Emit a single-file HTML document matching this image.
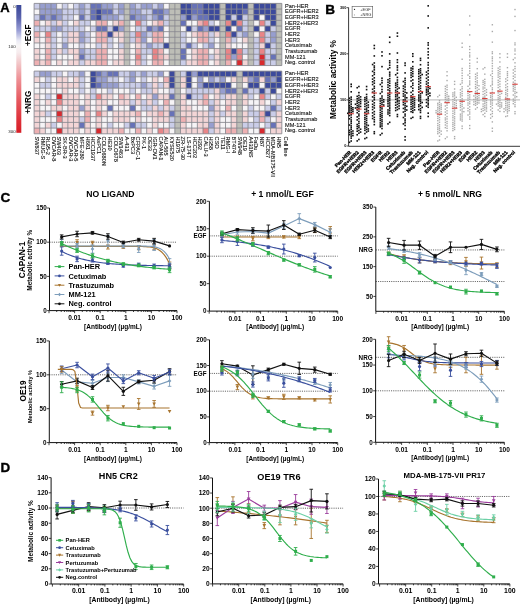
<!DOCTYPE html><html><head><meta charset="utf-8"><title>Figure</title><style>html,body{margin:0;padding:0;background:#fff;width:520px;height:606px;overflow:hidden}svg{display:block}</style></head><body><svg width="520" height="606" viewBox="0 0 520 606"><rect width="520" height="606" fill="#fff"/><defs><linearGradient id="cb" x1="0" y1="0" x2="0" y2="1"><stop offset="0" stop-color="#3a4798"/><stop offset="0.1" stop-color="#5962ad"/><stop offset="0.2" stop-color="#9a9fd6"/><stop offset="0.28" stop-color="#ebebf5"/><stop offset="0.32" stop-color="#f8f6f6"/><stop offset="0.37" stop-color="#f6ecee"/><stop offset="0.45" stop-color="#f2c9cb"/><stop offset="0.58" stop-color="#ee9095"/><stop offset="0.74" stop-color="#e65a60"/><stop offset="0.9" stop-color="#de3039"/><stop offset="1" stop-color="#d61e26"/></linearGradient></defs>
<rect x="16.3" y="5.0" width="5" height="127.8" fill="url(#cb)"/>
<g font-family="'Liberation Sans', Arial, sans-serif" font-size="4.4" fill="#222" text-anchor="end">
<text x="15.6" y="8.2">0</text><text x="15.6" y="48.4">100</text><text x="15.6" y="132.6">300</text></g>
<text x="0.3" y="12.1" font-family="'Liberation Sans', Arial, sans-serif" font-weight="bold" font-size="13" stroke="#000" stroke-width="0.35">A</text>
<g font-family="'Liberation Sans', Arial, sans-serif" font-weight="bold" font-size="8.2" text-anchor="middle">
<text transform="translate(31.1 35.3) rotate(-90)">+EGF</text>
<text transform="translate(31.1 102.2) rotate(-90)">+NRG</text></g>
<rect x="34.1" y="3.4" width="5.63" height="5.65" fill="#cacde8"/>
<rect x="34.1" y="9.05" width="5.63" height="5.65" fill="#f6f4f6"/>
<rect x="34.1" y="14.7" width="5.63" height="5.65" fill="#cacde8"/>
<rect x="34.1" y="20.35" width="5.63" height="5.65" fill="#eeb0b2"/>
<rect x="34.1" y="26" width="5.63" height="5.65" fill="#cacde8"/>
<rect x="34.1" y="31.65" width="5.63" height="5.65" fill="#eeb0b2"/>
<rect x="34.1" y="37.3" width="5.63" height="5.65" fill="#f3d5d6"/>
<rect x="34.1" y="42.95" width="5.63" height="5.65" fill="#f6f4f6"/>
<rect x="34.1" y="48.6" width="5.63" height="5.65" fill="#f3d5d6"/>
<rect x="34.1" y="54.25" width="5.63" height="5.65" fill="#f3d5d6"/>
<rect x="34.1" y="59.9" width="5.63" height="5.65" fill="#eeb0b2"/>
<rect x="39.73" y="3.4" width="5.63" height="5.65" fill="#979ecf"/>
<rect x="39.73" y="9.05" width="5.63" height="5.65" fill="#979ecf"/>
<rect x="39.73" y="14.7" width="5.63" height="5.65" fill="#6772b8"/>
<rect x="39.73" y="20.35" width="5.63" height="5.65" fill="#f6f4f6"/>
<rect x="39.73" y="26" width="5.63" height="5.65" fill="#cacde8"/>
<rect x="39.73" y="31.65" width="5.63" height="5.65" fill="#f6f4f6"/>
<rect x="39.73" y="37.3" width="5.63" height="5.65" fill="#f6f4f6"/>
<rect x="39.73" y="42.95" width="5.63" height="5.65" fill="#f6f4f6"/>
<rect x="39.73" y="48.6" width="5.63" height="5.65" fill="#f6f4f6"/>
<rect x="39.73" y="54.25" width="5.63" height="5.65" fill="#f6f4f6"/>
<rect x="39.73" y="59.9" width="5.63" height="5.65" fill="#f3d5d6"/>
<rect x="45.36" y="3.4" width="5.63" height="5.65" fill="#979ecf"/>
<rect x="45.36" y="9.05" width="5.63" height="5.65" fill="#979ecf"/>
<rect x="45.36" y="14.7" width="5.63" height="5.65" fill="#979ecf"/>
<rect x="45.36" y="20.35" width="5.63" height="5.65" fill="#f3d5d6"/>
<rect x="45.36" y="26" width="5.63" height="5.65" fill="#cacde8"/>
<rect x="45.36" y="31.65" width="5.63" height="5.65" fill="#e98587"/>
<rect x="45.36" y="37.3" width="5.63" height="5.65" fill="#eeb0b2"/>
<rect x="45.36" y="42.95" width="5.63" height="5.65" fill="#f3d5d6"/>
<rect x="45.36" y="48.6" width="5.63" height="5.65" fill="#eeb0b2"/>
<rect x="45.36" y="54.25" width="5.63" height="5.65" fill="#eeb0b2"/>
<rect x="45.36" y="59.9" width="5.63" height="5.65" fill="#eeb0b2"/>
<rect x="50.99" y="3.4" width="5.63" height="5.65" fill="#979ecf"/>
<rect x="50.99" y="9.05" width="5.63" height="5.65" fill="#979ecf"/>
<rect x="50.99" y="14.7" width="5.63" height="5.65" fill="#6772b8"/>
<rect x="50.99" y="20.35" width="5.63" height="5.65" fill="#cacde8"/>
<rect x="50.99" y="26" width="5.63" height="5.65" fill="#979ecf"/>
<rect x="50.99" y="31.65" width="5.63" height="5.65" fill="#cacde8"/>
<rect x="50.99" y="37.3" width="5.63" height="5.65" fill="#cacde8"/>
<rect x="50.99" y="42.95" width="5.63" height="5.65" fill="#cacde8"/>
<rect x="50.99" y="48.6" width="5.63" height="5.65" fill="#cacde8"/>
<rect x="50.99" y="54.25" width="5.63" height="5.65" fill="#cacde8"/>
<rect x="50.99" y="59.9" width="5.63" height="5.65" fill="#f6f4f6"/>
<rect x="56.62" y="3.4" width="5.63" height="5.65" fill="#f6f4f6"/>
<rect x="56.62" y="9.05" width="5.63" height="5.65" fill="#979ecf"/>
<rect x="56.62" y="14.7" width="5.63" height="5.65" fill="#979ecf"/>
<rect x="56.62" y="20.35" width="5.63" height="5.65" fill="#f3d5d6"/>
<rect x="56.62" y="26" width="5.63" height="5.65" fill="#979ecf"/>
<rect x="56.62" y="31.65" width="5.63" height="5.65" fill="#f6f4f6"/>
<rect x="56.62" y="37.3" width="5.63" height="5.65" fill="#f6f4f6"/>
<rect x="56.62" y="42.95" width="5.63" height="5.65" fill="#f6f4f6"/>
<rect x="56.62" y="48.6" width="5.63" height="5.65" fill="#f3d5d6"/>
<rect x="56.62" y="54.25" width="5.63" height="5.65" fill="#f6f4f6"/>
<rect x="56.62" y="59.9" width="5.63" height="5.65" fill="#f3d5d6"/>
<rect x="62.25" y="3.4" width="5.63" height="5.65" fill="#cacde8"/>
<rect x="62.25" y="9.05" width="5.63" height="5.65" fill="#cacde8"/>
<rect x="62.25" y="14.7" width="5.63" height="5.65" fill="#cacde8"/>
<rect x="62.25" y="20.35" width="5.63" height="5.65" fill="#cacde8"/>
<rect x="62.25" y="26" width="5.63" height="5.65" fill="#cacde8"/>
<rect x="62.25" y="31.65" width="5.63" height="5.65" fill="#cacde8"/>
<rect x="62.25" y="37.3" width="5.63" height="5.65" fill="#cacde8"/>
<rect x="62.25" y="42.95" width="5.63" height="5.65" fill="#979ecf"/>
<rect x="62.25" y="48.6" width="5.63" height="5.65" fill="#cacde8"/>
<rect x="62.25" y="54.25" width="5.63" height="5.65" fill="#f6f4f6"/>
<rect x="62.25" y="59.9" width="5.63" height="5.65" fill="#f6f4f6"/>
<rect x="67.88" y="3.4" width="5.63" height="5.65" fill="#f6f4f6"/>
<rect x="67.88" y="9.05" width="5.63" height="5.65" fill="#cacde8"/>
<rect x="67.88" y="14.7" width="5.63" height="5.65" fill="#cacde8"/>
<rect x="67.88" y="20.35" width="5.63" height="5.65" fill="#f6f4f6"/>
<rect x="67.88" y="26" width="5.63" height="5.65" fill="#cacde8"/>
<rect x="67.88" y="31.65" width="5.63" height="5.65" fill="#f3d5d6"/>
<rect x="67.88" y="37.3" width="5.63" height="5.65" fill="#f3d5d6"/>
<rect x="67.88" y="42.95" width="5.63" height="5.65" fill="#f6f4f6"/>
<rect x="67.88" y="48.6" width="5.63" height="5.65" fill="#f3d5d6"/>
<rect x="67.88" y="54.25" width="5.63" height="5.65" fill="#f6f4f6"/>
<rect x="67.88" y="59.9" width="5.63" height="5.65" fill="#f3d5d6"/>
<rect x="73.51" y="3.4" width="5.63" height="5.65" fill="#cacde8"/>
<rect x="73.51" y="9.05" width="5.63" height="5.65" fill="#cacde8"/>
<rect x="73.51" y="14.7" width="5.63" height="5.65" fill="#f6f4f6"/>
<rect x="73.51" y="20.35" width="5.63" height="5.65" fill="#f3d5d6"/>
<rect x="73.51" y="26" width="5.63" height="5.65" fill="#cacde8"/>
<rect x="73.51" y="31.65" width="5.63" height="5.65" fill="#f3d5d6"/>
<rect x="73.51" y="37.3" width="5.63" height="5.65" fill="#f3d5d6"/>
<rect x="73.51" y="42.95" width="5.63" height="5.65" fill="#f6f4f6"/>
<rect x="73.51" y="48.6" width="5.63" height="5.65" fill="#f3d5d6"/>
<rect x="73.51" y="54.25" width="5.63" height="5.65" fill="#f3d5d6"/>
<rect x="73.51" y="59.9" width="5.63" height="5.65" fill="#f3d5d6"/>
<rect x="79.14" y="3.4" width="5.63" height="5.65" fill="#979ecf"/>
<rect x="79.14" y="9.05" width="5.63" height="5.65" fill="#979ecf"/>
<rect x="79.14" y="14.7" width="5.63" height="5.65" fill="#6772b8"/>
<rect x="79.14" y="20.35" width="5.63" height="5.65" fill="#cacde8"/>
<rect x="79.14" y="26" width="5.63" height="5.65" fill="#cacde8"/>
<rect x="79.14" y="31.65" width="5.63" height="5.65" fill="#979ecf"/>
<rect x="79.14" y="37.3" width="5.63" height="5.65" fill="#979ecf"/>
<rect x="79.14" y="42.95" width="5.63" height="5.65" fill="#cacde8"/>
<rect x="79.14" y="48.6" width="5.63" height="5.65" fill="#979ecf"/>
<rect x="79.14" y="54.25" width="5.63" height="5.65" fill="#6772b8"/>
<rect x="79.14" y="59.9" width="5.63" height="5.65" fill="#cacde8"/>
<rect x="84.77" y="3.4" width="5.63" height="5.65" fill="#cacde8"/>
<rect x="84.77" y="9.05" width="5.63" height="5.65" fill="#cacde8"/>
<rect x="84.77" y="14.7" width="5.63" height="5.65" fill="#cacde8"/>
<rect x="84.77" y="20.35" width="5.63" height="5.65" fill="#cacde8"/>
<rect x="84.77" y="26" width="5.63" height="5.65" fill="#f6f4f6"/>
<rect x="84.77" y="31.65" width="5.63" height="5.65" fill="#cacde8"/>
<rect x="84.77" y="37.3" width="5.63" height="5.65" fill="#cacde8"/>
<rect x="84.77" y="42.95" width="5.63" height="5.65" fill="#f6f4f6"/>
<rect x="84.77" y="48.6" width="5.63" height="5.65" fill="#cacde8"/>
<rect x="84.77" y="54.25" width="5.63" height="5.65" fill="#cacde8"/>
<rect x="84.77" y="59.9" width="5.63" height="5.65" fill="#f3d5d6"/>
<rect x="90.4" y="3.4" width="5.63" height="5.65" fill="#6772b8"/>
<rect x="90.4" y="9.05" width="5.63" height="5.65" fill="#6772b8"/>
<rect x="90.4" y="14.7" width="5.63" height="5.65" fill="#6772b8"/>
<rect x="90.4" y="20.35" width="5.63" height="5.65" fill="#f6f4f6"/>
<rect x="90.4" y="26" width="5.63" height="5.65" fill="#cacde8"/>
<rect x="90.4" y="31.65" width="5.63" height="5.65" fill="#f6f4f6"/>
<rect x="90.4" y="37.3" width="5.63" height="5.65" fill="#f6f4f6"/>
<rect x="90.4" y="42.95" width="5.63" height="5.65" fill="#f6f4f6"/>
<rect x="90.4" y="48.6" width="5.63" height="5.65" fill="#cacde8"/>
<rect x="90.4" y="54.25" width="5.63" height="5.65" fill="#cacde8"/>
<rect x="90.4" y="59.9" width="5.63" height="5.65" fill="#f3d5d6"/>
<rect x="96.03" y="3.4" width="5.63" height="5.65" fill="#6772b8"/>
<rect x="96.03" y="9.05" width="5.63" height="5.65" fill="#3c4a9c"/>
<rect x="96.03" y="14.7" width="5.63" height="5.65" fill="#3c4a9c"/>
<rect x="96.03" y="20.35" width="5.63" height="5.65" fill="#eeb0b2"/>
<rect x="96.03" y="26" width="5.63" height="5.65" fill="#6772b8"/>
<rect x="96.03" y="31.65" width="5.63" height="5.65" fill="#eeb0b2"/>
<rect x="96.03" y="37.3" width="5.63" height="5.65" fill="#eeb0b2"/>
<rect x="96.03" y="42.95" width="5.63" height="5.65" fill="#cacde8"/>
<rect x="96.03" y="48.6" width="5.63" height="5.65" fill="#eeb0b2"/>
<rect x="96.03" y="54.25" width="5.63" height="5.65" fill="#eeb0b2"/>
<rect x="96.03" y="59.9" width="5.63" height="5.65" fill="#eeb0b2"/>
<rect x="101.66" y="3.4" width="5.63" height="5.65" fill="#979ecf"/>
<rect x="101.66" y="9.05" width="5.63" height="5.65" fill="#6772b8"/>
<rect x="101.66" y="14.7" width="5.63" height="5.65" fill="#979ecf"/>
<rect x="101.66" y="20.35" width="5.63" height="5.65" fill="#eeb0b2"/>
<rect x="101.66" y="26" width="5.63" height="5.65" fill="#6772b8"/>
<rect x="101.66" y="31.65" width="5.63" height="5.65" fill="#eeb0b2"/>
<rect x="101.66" y="37.3" width="5.63" height="5.65" fill="#eeb0b2"/>
<rect x="101.66" y="42.95" width="5.63" height="5.65" fill="#f3d5d6"/>
<rect x="101.66" y="48.6" width="5.63" height="5.65" fill="#eeb0b2"/>
<rect x="101.66" y="54.25" width="5.63" height="5.65" fill="#eeb0b2"/>
<rect x="101.66" y="59.9" width="5.63" height="5.65" fill="#eeb0b2"/>
<rect x="107.29" y="3.4" width="5.63" height="5.65" fill="#979ecf"/>
<rect x="107.29" y="9.05" width="5.63" height="5.65" fill="#6772b8"/>
<rect x="107.29" y="14.7" width="5.63" height="5.65" fill="#979ecf"/>
<rect x="107.29" y="20.35" width="5.63" height="5.65" fill="#f6f4f6"/>
<rect x="107.29" y="26" width="5.63" height="5.65" fill="#cacde8"/>
<rect x="107.29" y="31.65" width="5.63" height="5.65" fill="#3c4a9c"/>
<rect x="107.29" y="37.3" width="5.63" height="5.65" fill="#cacde8"/>
<rect x="107.29" y="42.95" width="5.63" height="5.65" fill="#cacde8"/>
<rect x="107.29" y="48.6" width="5.63" height="5.65" fill="#f6f4f6"/>
<rect x="107.29" y="54.25" width="5.63" height="5.65" fill="#f6f4f6"/>
<rect x="107.29" y="59.9" width="5.63" height="5.65" fill="#f6f4f6"/>
<rect x="112.92" y="3.4" width="5.63" height="5.65" fill="#cacde8"/>
<rect x="112.92" y="9.05" width="5.63" height="5.65" fill="#cacde8"/>
<rect x="112.92" y="14.7" width="5.63" height="5.65" fill="#979ecf"/>
<rect x="112.92" y="20.35" width="5.63" height="5.65" fill="#f3d5d6"/>
<rect x="112.92" y="26" width="5.63" height="5.65" fill="#3c4a9c"/>
<rect x="112.92" y="31.65" width="5.63" height="5.65" fill="#f3d5d6"/>
<rect x="112.92" y="37.3" width="5.63" height="5.65" fill="#f6f4f6"/>
<rect x="112.92" y="42.95" width="5.63" height="5.65" fill="#f6f4f6"/>
<rect x="112.92" y="48.6" width="5.63" height="5.65" fill="#f6f4f6"/>
<rect x="112.92" y="54.25" width="5.63" height="5.65" fill="#f6f4f6"/>
<rect x="112.92" y="59.9" width="5.63" height="5.65" fill="#f3d5d6"/>
<rect x="118.55" y="3.4" width="5.63" height="5.65" fill="#979ecf"/>
<rect x="118.55" y="9.05" width="5.63" height="5.65" fill="#979ecf"/>
<rect x="118.55" y="14.7" width="5.63" height="5.65" fill="#cacde8"/>
<rect x="118.55" y="20.35" width="5.63" height="5.65" fill="#eeb0b2"/>
<rect x="118.55" y="26" width="5.63" height="5.65" fill="#979ecf"/>
<rect x="118.55" y="31.65" width="5.63" height="5.65" fill="#f3d5d6"/>
<rect x="118.55" y="37.3" width="5.63" height="5.65" fill="#f3d5d6"/>
<rect x="118.55" y="42.95" width="5.63" height="5.65" fill="#cacde8"/>
<rect x="118.55" y="48.6" width="5.63" height="5.65" fill="#f3d5d6"/>
<rect x="118.55" y="54.25" width="5.63" height="5.65" fill="#f3d5d6"/>
<rect x="118.55" y="59.9" width="5.63" height="5.65" fill="#f3d5d6"/>
<rect x="124.18" y="3.4" width="5.63" height="5.65" fill="#bdbeb7"/>
<rect x="124.18" y="9.05" width="5.63" height="5.65" fill="#bdbeb7"/>
<rect x="124.18" y="14.7" width="5.63" height="5.65" fill="#bdbeb7"/>
<rect x="124.18" y="20.35" width="5.63" height="5.65" fill="#bdbeb7"/>
<rect x="124.18" y="26" width="5.63" height="5.65" fill="#bdbeb7"/>
<rect x="124.18" y="31.65" width="5.63" height="5.65" fill="#bdbeb7"/>
<rect x="124.18" y="37.3" width="5.63" height="5.65" fill="#bdbeb7"/>
<rect x="124.18" y="42.95" width="5.63" height="5.65" fill="#bdbeb7"/>
<rect x="124.18" y="48.6" width="5.63" height="5.65" fill="#bdbeb7"/>
<rect x="124.18" y="54.25" width="5.63" height="5.65" fill="#bdbeb7"/>
<rect x="124.18" y="59.9" width="5.63" height="5.65" fill="#bdbeb7"/>
<rect x="129.81" y="3.4" width="5.63" height="5.65" fill="#979ecf"/>
<rect x="129.81" y="9.05" width="5.63" height="5.65" fill="#979ecf"/>
<rect x="129.81" y="14.7" width="5.63" height="5.65" fill="#6772b8"/>
<rect x="129.81" y="20.35" width="5.63" height="5.65" fill="#f6f4f6"/>
<rect x="129.81" y="26" width="5.63" height="5.65" fill="#f6f4f6"/>
<rect x="129.81" y="31.65" width="5.63" height="5.65" fill="#cacde8"/>
<rect x="129.81" y="37.3" width="5.63" height="5.65" fill="#cacde8"/>
<rect x="129.81" y="42.95" width="5.63" height="5.65" fill="#f6f4f6"/>
<rect x="129.81" y="48.6" width="5.63" height="5.65" fill="#f6f4f6"/>
<rect x="129.81" y="54.25" width="5.63" height="5.65" fill="#f6f4f6"/>
<rect x="129.81" y="59.9" width="5.63" height="5.65" fill="#f6f4f6"/>
<rect x="135.44" y="3.4" width="5.63" height="5.65" fill="#cacde8"/>
<rect x="135.44" y="9.05" width="5.63" height="5.65" fill="#979ecf"/>
<rect x="135.44" y="14.7" width="5.63" height="5.65" fill="#979ecf"/>
<rect x="135.44" y="20.35" width="5.63" height="5.65" fill="#e98587"/>
<rect x="135.44" y="26" width="5.63" height="5.65" fill="#cacde8"/>
<rect x="135.44" y="31.65" width="5.63" height="5.65" fill="#e98587"/>
<rect x="135.44" y="37.3" width="5.63" height="5.65" fill="#eeb0b2"/>
<rect x="135.44" y="42.95" width="5.63" height="5.65" fill="#f3d5d6"/>
<rect x="135.44" y="48.6" width="5.63" height="5.65" fill="#eeb0b2"/>
<rect x="135.44" y="54.25" width="5.63" height="5.65" fill="#e98587"/>
<rect x="135.44" y="59.9" width="5.63" height="5.65" fill="#eeb0b2"/>
<rect x="141.07" y="3.4" width="5.63" height="5.65" fill="#979ecf"/>
<rect x="141.07" y="9.05" width="5.63" height="5.65" fill="#cacde8"/>
<rect x="141.07" y="14.7" width="5.63" height="5.65" fill="#979ecf"/>
<rect x="141.07" y="20.35" width="5.63" height="5.65" fill="#cacde8"/>
<rect x="141.07" y="26" width="5.63" height="5.65" fill="#cacde8"/>
<rect x="141.07" y="31.65" width="5.63" height="5.65" fill="#979ecf"/>
<rect x="141.07" y="37.3" width="5.63" height="5.65" fill="#979ecf"/>
<rect x="141.07" y="42.95" width="5.63" height="5.65" fill="#cacde8"/>
<rect x="141.07" y="48.6" width="5.63" height="5.65" fill="#cacde8"/>
<rect x="141.07" y="54.25" width="5.63" height="5.65" fill="#cacde8"/>
<rect x="141.07" y="59.9" width="5.63" height="5.65" fill="#cacde8"/>
<rect x="146.7" y="3.4" width="5.63" height="5.65" fill="#979ecf"/>
<rect x="146.7" y="9.05" width="5.63" height="5.65" fill="#cacde8"/>
<rect x="146.7" y="14.7" width="5.63" height="5.65" fill="#cacde8"/>
<rect x="146.7" y="20.35" width="5.63" height="5.65" fill="#f6f4f6"/>
<rect x="146.7" y="26" width="5.63" height="5.65" fill="#6772b8"/>
<rect x="146.7" y="31.65" width="5.63" height="5.65" fill="#cacde8"/>
<rect x="146.7" y="37.3" width="5.63" height="5.65" fill="#f6f4f6"/>
<rect x="146.7" y="42.95" width="5.63" height="5.65" fill="#979ecf"/>
<rect x="146.7" y="48.6" width="5.63" height="5.65" fill="#cacde8"/>
<rect x="146.7" y="54.25" width="5.63" height="5.65" fill="#f6f4f6"/>
<rect x="146.7" y="59.9" width="5.63" height="5.65" fill="#f6f4f6"/>
<rect x="152.33" y="3.4" width="5.63" height="5.65" fill="#cacde8"/>
<rect x="152.33" y="9.05" width="5.63" height="5.65" fill="#6772b8"/>
<rect x="152.33" y="14.7" width="5.63" height="5.65" fill="#979ecf"/>
<rect x="152.33" y="20.35" width="5.63" height="5.65" fill="#f3d5d6"/>
<rect x="152.33" y="26" width="5.63" height="5.65" fill="#979ecf"/>
<rect x="152.33" y="31.65" width="5.63" height="5.65" fill="#eeb0b2"/>
<rect x="152.33" y="37.3" width="5.63" height="5.65" fill="#eeb0b2"/>
<rect x="152.33" y="42.95" width="5.63" height="5.65" fill="#cacde8"/>
<rect x="152.33" y="48.6" width="5.63" height="5.65" fill="#e98587"/>
<rect x="152.33" y="54.25" width="5.63" height="5.65" fill="#e98587"/>
<rect x="152.33" y="59.9" width="5.63" height="5.65" fill="#eeb0b2"/>
<rect x="157.96" y="3.4" width="5.63" height="5.65" fill="#979ecf"/>
<rect x="157.96" y="9.05" width="5.63" height="5.65" fill="#6772b8"/>
<rect x="157.96" y="14.7" width="5.63" height="5.65" fill="#6772b8"/>
<rect x="157.96" y="20.35" width="5.63" height="5.65" fill="#eeb0b2"/>
<rect x="157.96" y="26" width="5.63" height="5.65" fill="#6772b8"/>
<rect x="157.96" y="31.65" width="5.63" height="5.65" fill="#eeb0b2"/>
<rect x="157.96" y="37.3" width="5.63" height="5.65" fill="#eeb0b2"/>
<rect x="157.96" y="42.95" width="5.63" height="5.65" fill="#cacde8"/>
<rect x="157.96" y="48.6" width="5.63" height="5.65" fill="#eeb0b2"/>
<rect x="157.96" y="54.25" width="5.63" height="5.65" fill="#eeb0b2"/>
<rect x="157.96" y="59.9" width="5.63" height="5.65" fill="#eeb0b2"/>
<rect x="163.59" y="3.4" width="5.63" height="5.65" fill="#f6f4f6"/>
<rect x="163.59" y="9.05" width="5.63" height="5.65" fill="#979ecf"/>
<rect x="163.59" y="14.7" width="5.63" height="5.65" fill="#cacde8"/>
<rect x="163.59" y="20.35" width="5.63" height="5.65" fill="#cacde8"/>
<rect x="163.59" y="26" width="5.63" height="5.65" fill="#f6f4f6"/>
<rect x="163.59" y="31.65" width="5.63" height="5.65" fill="#f6f4f6"/>
<rect x="163.59" y="37.3" width="5.63" height="5.65" fill="#f6f4f6"/>
<rect x="163.59" y="42.95" width="5.63" height="5.65" fill="#3c4a9c"/>
<rect x="163.59" y="48.6" width="5.63" height="5.65" fill="#f6f4f6"/>
<rect x="163.59" y="54.25" width="5.63" height="5.65" fill="#f3d5d6"/>
<rect x="163.59" y="59.9" width="5.63" height="5.65" fill="#f6f4f6"/>
<rect x="169.22" y="3.4" width="5.63" height="5.65" fill="#bdbeb7"/>
<rect x="169.22" y="9.05" width="5.63" height="5.65" fill="#bdbeb7"/>
<rect x="169.22" y="14.7" width="5.63" height="5.65" fill="#bdbeb7"/>
<rect x="169.22" y="20.35" width="5.63" height="5.65" fill="#bdbeb7"/>
<rect x="169.22" y="26" width="5.63" height="5.65" fill="#bdbeb7"/>
<rect x="169.22" y="31.65" width="5.63" height="5.65" fill="#bdbeb7"/>
<rect x="169.22" y="37.3" width="5.63" height="5.65" fill="#bdbeb7"/>
<rect x="169.22" y="42.95" width="5.63" height="5.65" fill="#bdbeb7"/>
<rect x="169.22" y="48.6" width="5.63" height="5.65" fill="#bdbeb7"/>
<rect x="169.22" y="54.25" width="5.63" height="5.65" fill="#bdbeb7"/>
<rect x="169.22" y="59.9" width="5.63" height="5.65" fill="#bdbeb7"/>
<rect x="174.85" y="3.4" width="5.63" height="5.65" fill="#bdbeb7"/>
<rect x="174.85" y="9.05" width="5.63" height="5.65" fill="#bdbeb7"/>
<rect x="174.85" y="14.7" width="5.63" height="5.65" fill="#bdbeb7"/>
<rect x="174.85" y="20.35" width="5.63" height="5.65" fill="#bdbeb7"/>
<rect x="174.85" y="26" width="5.63" height="5.65" fill="#bdbeb7"/>
<rect x="174.85" y="31.65" width="5.63" height="5.65" fill="#bdbeb7"/>
<rect x="174.85" y="37.3" width="5.63" height="5.65" fill="#bdbeb7"/>
<rect x="174.85" y="42.95" width="5.63" height="5.65" fill="#bdbeb7"/>
<rect x="174.85" y="48.6" width="5.63" height="5.65" fill="#bdbeb7"/>
<rect x="174.85" y="54.25" width="5.63" height="5.65" fill="#bdbeb7"/>
<rect x="174.85" y="59.9" width="5.63" height="5.65" fill="#bdbeb7"/>
<rect x="180.48" y="3.4" width="5.63" height="5.65" fill="#3c4a9c"/>
<rect x="180.48" y="9.05" width="5.63" height="5.65" fill="#3c4a9c"/>
<rect x="180.48" y="14.7" width="5.63" height="5.65" fill="#979ecf"/>
<rect x="180.48" y="20.35" width="5.63" height="5.65" fill="#6772b8"/>
<rect x="180.48" y="26" width="5.63" height="5.65" fill="#f6f4f6"/>
<rect x="180.48" y="31.65" width="5.63" height="5.65" fill="#cacde8"/>
<rect x="180.48" y="37.3" width="5.63" height="5.65" fill="#cacde8"/>
<rect x="180.48" y="42.95" width="5.63" height="5.65" fill="#cacde8"/>
<rect x="180.48" y="48.6" width="5.63" height="5.65" fill="#6772b8"/>
<rect x="180.48" y="54.25" width="5.63" height="5.65" fill="#6772b8"/>
<rect x="180.48" y="59.9" width="5.63" height="5.65" fill="#cacde8"/>
<rect x="186.11" y="3.4" width="5.63" height="5.65" fill="#3c4a9c"/>
<rect x="186.11" y="9.05" width="5.63" height="5.65" fill="#3c4a9c"/>
<rect x="186.11" y="14.7" width="5.63" height="5.65" fill="#3c4a9c"/>
<rect x="186.11" y="20.35" width="5.63" height="5.65" fill="#f6f4f6"/>
<rect x="186.11" y="26" width="5.63" height="5.65" fill="#3c4a9c"/>
<rect x="186.11" y="31.65" width="5.63" height="5.65" fill="#f6f4f6"/>
<rect x="186.11" y="37.3" width="5.63" height="5.65" fill="#f6f4f6"/>
<rect x="186.11" y="42.95" width="5.63" height="5.65" fill="#6772b8"/>
<rect x="186.11" y="48.6" width="5.63" height="5.65" fill="#f6f4f6"/>
<rect x="186.11" y="54.25" width="5.63" height="5.65" fill="#f6f4f6"/>
<rect x="186.11" y="59.9" width="5.63" height="5.65" fill="#f3d5d6"/>
<rect x="191.74" y="3.4" width="5.63" height="5.65" fill="#6772b8"/>
<rect x="191.74" y="9.05" width="5.63" height="5.65" fill="#6772b8"/>
<rect x="191.74" y="14.7" width="5.63" height="5.65" fill="#979ecf"/>
<rect x="191.74" y="20.35" width="5.63" height="5.65" fill="#f6f4f6"/>
<rect x="191.74" y="26" width="5.63" height="5.65" fill="#cacde8"/>
<rect x="191.74" y="31.65" width="5.63" height="5.65" fill="#f3d5d6"/>
<rect x="191.74" y="37.3" width="5.63" height="5.65" fill="#f6f4f6"/>
<rect x="191.74" y="42.95" width="5.63" height="5.65" fill="#cacde8"/>
<rect x="191.74" y="48.6" width="5.63" height="5.65" fill="#f3d5d6"/>
<rect x="191.74" y="54.25" width="5.63" height="5.65" fill="#f3d5d6"/>
<rect x="191.74" y="59.9" width="5.63" height="5.65" fill="#f3d5d6"/>
<rect x="197.37" y="3.4" width="5.63" height="5.65" fill="#6772b8"/>
<rect x="197.37" y="9.05" width="5.63" height="5.65" fill="#6772b8"/>
<rect x="197.37" y="14.7" width="5.63" height="5.65" fill="#6772b8"/>
<rect x="197.37" y="20.35" width="5.63" height="5.65" fill="#eeb0b2"/>
<rect x="197.37" y="26" width="5.63" height="5.65" fill="#6772b8"/>
<rect x="197.37" y="31.65" width="5.63" height="5.65" fill="#eeb0b2"/>
<rect x="197.37" y="37.3" width="5.63" height="5.65" fill="#eeb0b2"/>
<rect x="197.37" y="42.95" width="5.63" height="5.65" fill="#f6f4f6"/>
<rect x="197.37" y="48.6" width="5.63" height="5.65" fill="#eeb0b2"/>
<rect x="197.37" y="54.25" width="5.63" height="5.65" fill="#eeb0b2"/>
<rect x="197.37" y="59.9" width="5.63" height="5.65" fill="#eeb0b2"/>
<rect x="203" y="3.4" width="5.63" height="5.65" fill="#3c4a9c"/>
<rect x="203" y="9.05" width="5.63" height="5.65" fill="#3c4a9c"/>
<rect x="203" y="14.7" width="5.63" height="5.65" fill="#6772b8"/>
<rect x="203" y="20.35" width="5.63" height="5.65" fill="#e98587"/>
<rect x="203" y="26" width="5.63" height="5.65" fill="#979ecf"/>
<rect x="203" y="31.65" width="5.63" height="5.65" fill="#eeb0b2"/>
<rect x="203" y="37.3" width="5.63" height="5.65" fill="#eeb0b2"/>
<rect x="203" y="42.95" width="5.63" height="5.65" fill="#cacde8"/>
<rect x="203" y="48.6" width="5.63" height="5.65" fill="#eeb0b2"/>
<rect x="203" y="54.25" width="5.63" height="5.65" fill="#eeb0b2"/>
<rect x="203" y="59.9" width="5.63" height="5.65" fill="#eeb0b2"/>
<rect x="208.63" y="3.4" width="5.63" height="5.65" fill="#3c4a9c"/>
<rect x="208.63" y="9.05" width="5.63" height="5.65" fill="#3c4a9c"/>
<rect x="208.63" y="14.7" width="5.63" height="5.65" fill="#3c4a9c"/>
<rect x="208.63" y="20.35" width="5.63" height="5.65" fill="#cacde8"/>
<rect x="208.63" y="26" width="5.63" height="5.65" fill="#3c4a9c"/>
<rect x="208.63" y="31.65" width="5.63" height="5.65" fill="#cacde8"/>
<rect x="208.63" y="37.3" width="5.63" height="5.65" fill="#cacde8"/>
<rect x="208.63" y="42.95" width="5.63" height="5.65" fill="#979ecf"/>
<rect x="208.63" y="48.6" width="5.63" height="5.65" fill="#f6f4f6"/>
<rect x="208.63" y="54.25" width="5.63" height="5.65" fill="#cacde8"/>
<rect x="208.63" y="59.9" width="5.63" height="5.65" fill="#f6f4f6"/>
<rect x="214.26" y="3.4" width="5.63" height="5.65" fill="#3c4a9c"/>
<rect x="214.26" y="9.05" width="5.63" height="5.65" fill="#3c4a9c"/>
<rect x="214.26" y="14.7" width="5.63" height="5.65" fill="#3c4a9c"/>
<rect x="214.26" y="20.35" width="5.63" height="5.65" fill="#f6f4f6"/>
<rect x="214.26" y="26" width="5.63" height="5.65" fill="#3c4a9c"/>
<rect x="214.26" y="31.65" width="5.63" height="5.65" fill="#f3d5d6"/>
<rect x="214.26" y="37.3" width="5.63" height="5.65" fill="#f6f4f6"/>
<rect x="214.26" y="42.95" width="5.63" height="5.65" fill="#f6f4f6"/>
<rect x="214.26" y="48.6" width="5.63" height="5.65" fill="#f3d5d6"/>
<rect x="214.26" y="54.25" width="5.63" height="5.65" fill="#f3d5d6"/>
<rect x="214.26" y="59.9" width="5.63" height="5.65" fill="#f3d5d6"/>
<rect x="219.89" y="3.4" width="5.63" height="5.65" fill="#bdbeb7"/>
<rect x="219.89" y="9.05" width="5.63" height="5.65" fill="#bdbeb7"/>
<rect x="219.89" y="14.7" width="5.63" height="5.65" fill="#bdbeb7"/>
<rect x="219.89" y="20.35" width="5.63" height="5.65" fill="#bdbeb7"/>
<rect x="219.89" y="26" width="5.63" height="5.65" fill="#bdbeb7"/>
<rect x="219.89" y="31.65" width="5.63" height="5.65" fill="#bdbeb7"/>
<rect x="219.89" y="37.3" width="5.63" height="5.65" fill="#bdbeb7"/>
<rect x="219.89" y="42.95" width="5.63" height="5.65" fill="#bdbeb7"/>
<rect x="219.89" y="48.6" width="5.63" height="5.65" fill="#bdbeb7"/>
<rect x="219.89" y="54.25" width="5.63" height="5.65" fill="#bdbeb7"/>
<rect x="219.89" y="59.9" width="5.63" height="5.65" fill="#bdbeb7"/>
<rect x="225.52" y="3.4" width="5.63" height="5.65" fill="#3c4a9c"/>
<rect x="225.52" y="9.05" width="5.63" height="5.65" fill="#3c4a9c"/>
<rect x="225.52" y="14.7" width="5.63" height="5.65" fill="#3c4a9c"/>
<rect x="225.52" y="20.35" width="5.63" height="5.65" fill="#e98587"/>
<rect x="225.52" y="26" width="5.63" height="5.65" fill="#3c4a9c"/>
<rect x="225.52" y="31.65" width="5.63" height="5.65" fill="#e98587"/>
<rect x="225.52" y="37.3" width="5.63" height="5.65" fill="#eeb0b2"/>
<rect x="225.52" y="42.95" width="5.63" height="5.65" fill="#f3d5d6"/>
<rect x="225.52" y="48.6" width="5.63" height="5.65" fill="#e98587"/>
<rect x="225.52" y="54.25" width="5.63" height="5.65" fill="#e98587"/>
<rect x="225.52" y="59.9" width="5.63" height="5.65" fill="#eeb0b2"/>
<rect x="231.15" y="3.4" width="5.63" height="5.65" fill="#3c4a9c"/>
<rect x="231.15" y="9.05" width="5.63" height="5.65" fill="#3c4a9c"/>
<rect x="231.15" y="14.7" width="5.63" height="5.65" fill="#cacde8"/>
<rect x="231.15" y="20.35" width="5.63" height="5.65" fill="#3c4a9c"/>
<rect x="231.15" y="26" width="5.63" height="5.65" fill="#f6f4f6"/>
<rect x="231.15" y="31.65" width="5.63" height="5.65" fill="#3c4a9c"/>
<rect x="231.15" y="37.3" width="5.63" height="5.65" fill="#cacde8"/>
<rect x="231.15" y="42.95" width="5.63" height="5.65" fill="#f6f4f6"/>
<rect x="231.15" y="48.6" width="5.63" height="5.65" fill="#3c4a9c"/>
<rect x="231.15" y="54.25" width="5.63" height="5.65" fill="#979ecf"/>
<rect x="231.15" y="59.9" width="5.63" height="5.65" fill="#f6f4f6"/>
<rect x="236.78" y="3.4" width="5.63" height="5.65" fill="#3c4a9c"/>
<rect x="236.78" y="9.05" width="5.63" height="5.65" fill="#3c4a9c"/>
<rect x="236.78" y="14.7" width="5.63" height="5.65" fill="#3c4a9c"/>
<rect x="236.78" y="20.35" width="5.63" height="5.65" fill="#e98587"/>
<rect x="236.78" y="26" width="5.63" height="5.65" fill="#6772b8"/>
<rect x="236.78" y="31.65" width="5.63" height="5.65" fill="#cacde8"/>
<rect x="236.78" y="37.3" width="5.63" height="5.65" fill="#f6f4f6"/>
<rect x="236.78" y="42.95" width="5.63" height="5.65" fill="#f6f4f6"/>
<rect x="236.78" y="48.6" width="5.63" height="5.65" fill="#e98587"/>
<rect x="236.78" y="54.25" width="5.63" height="5.65" fill="#e98587"/>
<rect x="236.78" y="59.9" width="5.63" height="5.65" fill="#d82a2f"/>
<rect x="242.41" y="3.4" width="5.63" height="5.65" fill="#3c4a9c"/>
<rect x="242.41" y="9.05" width="5.63" height="5.65" fill="#6772b8"/>
<rect x="242.41" y="14.7" width="5.63" height="5.65" fill="#cacde8"/>
<rect x="242.41" y="20.35" width="5.63" height="5.65" fill="#cacde8"/>
<rect x="242.41" y="26" width="5.63" height="5.65" fill="#cacde8"/>
<rect x="242.41" y="31.65" width="5.63" height="5.65" fill="#979ecf"/>
<rect x="242.41" y="37.3" width="5.63" height="5.65" fill="#f3d5d6"/>
<rect x="242.41" y="42.95" width="5.63" height="5.65" fill="#f6f4f6"/>
<rect x="242.41" y="48.6" width="5.63" height="5.65" fill="#cacde8"/>
<rect x="242.41" y="54.25" width="5.63" height="5.65" fill="#f6f4f6"/>
<rect x="242.41" y="59.9" width="5.63" height="5.65" fill="#f3d5d6"/>
<rect x="248.04" y="3.4" width="5.63" height="5.65" fill="#bdbeb7"/>
<rect x="248.04" y="9.05" width="5.63" height="5.65" fill="#bdbeb7"/>
<rect x="248.04" y="14.7" width="5.63" height="5.65" fill="#bdbeb7"/>
<rect x="248.04" y="20.35" width="5.63" height="5.65" fill="#bdbeb7"/>
<rect x="248.04" y="26" width="5.63" height="5.65" fill="#bdbeb7"/>
<rect x="248.04" y="31.65" width="5.63" height="5.65" fill="#bdbeb7"/>
<rect x="248.04" y="37.3" width="5.63" height="5.65" fill="#bdbeb7"/>
<rect x="248.04" y="42.95" width="5.63" height="5.65" fill="#bdbeb7"/>
<rect x="248.04" y="48.6" width="5.63" height="5.65" fill="#bdbeb7"/>
<rect x="248.04" y="54.25" width="5.63" height="5.65" fill="#bdbeb7"/>
<rect x="248.04" y="59.9" width="5.63" height="5.65" fill="#bdbeb7"/>
<rect x="253.67" y="3.4" width="5.63" height="5.65" fill="#3c4a9c"/>
<rect x="253.67" y="9.05" width="5.63" height="5.65" fill="#3c4a9c"/>
<rect x="253.67" y="14.7" width="5.63" height="5.65" fill="#3c4a9c"/>
<rect x="253.67" y="20.35" width="5.63" height="5.65" fill="#f6f4f6"/>
<rect x="253.67" y="26" width="5.63" height="5.65" fill="#3c4a9c"/>
<rect x="253.67" y="31.65" width="5.63" height="5.65" fill="#f6f4f6"/>
<rect x="253.67" y="37.3" width="5.63" height="5.65" fill="#cacde8"/>
<rect x="253.67" y="42.95" width="5.63" height="5.65" fill="#cacde8"/>
<rect x="253.67" y="48.6" width="5.63" height="5.65" fill="#cacde8"/>
<rect x="253.67" y="54.25" width="5.63" height="5.65" fill="#cacde8"/>
<rect x="253.67" y="59.9" width="5.63" height="5.65" fill="#cacde8"/>
<rect x="259.3" y="3.4" width="5.63" height="5.65" fill="#3c4a9c"/>
<rect x="259.3" y="9.05" width="5.63" height="5.65" fill="#3c4a9c"/>
<rect x="259.3" y="14.7" width="5.63" height="5.65" fill="#f6f4f6"/>
<rect x="259.3" y="20.35" width="5.63" height="5.65" fill="#e98587"/>
<rect x="259.3" y="26" width="5.63" height="5.65" fill="#f6f4f6"/>
<rect x="259.3" y="31.65" width="5.63" height="5.65" fill="#e98587"/>
<rect x="259.3" y="37.3" width="5.63" height="5.65" fill="#e98587"/>
<rect x="259.3" y="42.95" width="5.63" height="5.65" fill="#f3d5d6"/>
<rect x="259.3" y="48.6" width="5.63" height="5.65" fill="#e98587"/>
<rect x="259.3" y="54.25" width="5.63" height="5.65" fill="#d82a2f"/>
<rect x="259.3" y="59.9" width="5.63" height="5.65" fill="#d82a2f"/>
<rect x="264.93" y="3.4" width="5.63" height="5.65" fill="#3c4a9c"/>
<rect x="264.93" y="9.05" width="5.63" height="5.65" fill="#3c4a9c"/>
<rect x="264.93" y="14.7" width="5.63" height="5.65" fill="#3c4a9c"/>
<rect x="264.93" y="20.35" width="5.63" height="5.65" fill="#cacde8"/>
<rect x="264.93" y="26" width="5.63" height="5.65" fill="#3c4a9c"/>
<rect x="264.93" y="31.65" width="5.63" height="5.65" fill="#cacde8"/>
<rect x="264.93" y="37.3" width="5.63" height="5.65" fill="#cacde8"/>
<rect x="264.93" y="42.95" width="5.63" height="5.65" fill="#3c4a9c"/>
<rect x="264.93" y="48.6" width="5.63" height="5.65" fill="#cacde8"/>
<rect x="264.93" y="54.25" width="5.63" height="5.65" fill="#cacde8"/>
<rect x="264.93" y="59.9" width="5.63" height="5.65" fill="#cacde8"/>
<rect x="270.56" y="3.4" width="5.63" height="5.65" fill="#3c4a9c"/>
<rect x="270.56" y="9.05" width="5.63" height="5.65" fill="#3c4a9c"/>
<rect x="270.56" y="14.7" width="5.63" height="5.65" fill="#3c4a9c"/>
<rect x="270.56" y="20.35" width="5.63" height="5.65" fill="#3c4a9c"/>
<rect x="270.56" y="26" width="5.63" height="5.65" fill="#cacde8"/>
<rect x="270.56" y="31.65" width="5.63" height="5.65" fill="#979ecf"/>
<rect x="270.56" y="37.3" width="5.63" height="5.65" fill="#979ecf"/>
<rect x="270.56" y="42.95" width="5.63" height="5.65" fill="#cacde8"/>
<rect x="270.56" y="48.6" width="5.63" height="5.65" fill="#cacde8"/>
<rect x="270.56" y="54.25" width="5.63" height="5.65" fill="#6772b8"/>
<rect x="270.56" y="59.9" width="5.63" height="5.65" fill="#cacde8"/>
<rect x="276.19" y="3.4" width="5.63" height="5.65" fill="#bdbeb7"/>
<rect x="276.19" y="9.05" width="5.63" height="5.65" fill="#bdbeb7"/>
<rect x="276.19" y="14.7" width="5.63" height="5.65" fill="#bdbeb7"/>
<rect x="276.19" y="20.35" width="5.63" height="5.65" fill="#bdbeb7"/>
<rect x="276.19" y="26" width="5.63" height="5.65" fill="#bdbeb7"/>
<rect x="276.19" y="31.65" width="5.63" height="5.65" fill="#bdbeb7"/>
<rect x="276.19" y="37.3" width="5.63" height="5.65" fill="#bdbeb7"/>
<rect x="276.19" y="42.95" width="5.63" height="5.65" fill="#bdbeb7"/>
<rect x="276.19" y="48.6" width="5.63" height="5.65" fill="#bdbeb7"/>
<rect x="276.19" y="54.25" width="5.63" height="5.65" fill="#bdbeb7"/>
<rect x="276.19" y="59.9" width="5.63" height="5.65" fill="#bdbeb7"/>
<path d="M34.1 3.4V65.55M39.73 3.4V65.55M45.36 3.4V65.55M50.99 3.4V65.55M56.62 3.4V65.55M62.25 3.4V65.55M67.88 3.4V65.55M73.51 3.4V65.55M79.14 3.4V65.55M84.77 3.4V65.55M90.4 3.4V65.55M96.03 3.4V65.55M101.66 3.4V65.55M107.29 3.4V65.55M112.92 3.4V65.55M118.55 3.4V65.55M124.18 3.4V65.55M129.81 3.4V65.55M135.44 3.4V65.55M141.07 3.4V65.55M146.7 3.4V65.55M152.33 3.4V65.55M157.96 3.4V65.55M163.59 3.4V65.55M169.22 3.4V65.55M174.85 3.4V65.55M180.48 3.4V65.55M186.11 3.4V65.55M191.74 3.4V65.55M197.37 3.4V65.55M203 3.4V65.55M208.63 3.4V65.55M214.26 3.4V65.55M219.89 3.4V65.55M225.52 3.4V65.55M231.15 3.4V65.55M236.78 3.4V65.55M242.41 3.4V65.55M248.04 3.4V65.55M253.67 3.4V65.55M259.3 3.4V65.55M264.93 3.4V65.55M270.56 3.4V65.55M276.19 3.4V65.55M281.82 3.4V65.55M34.1 3.4H281.82M34.1 9.05H281.82M34.1 14.7H281.82M34.1 20.35H281.82M34.1 26H281.82M34.1 31.65H281.82M34.1 37.3H281.82M34.1 42.95H281.82M34.1 48.6H281.82M34.1 54.25H281.82M34.1 59.9H281.82M34.1 65.55H281.82" stroke="#85858d" stroke-width="0.85" fill="none"/>
<rect x="34.1" y="71.1" width="5.63" height="5.7" fill="#cacde8"/>
<rect x="34.1" y="76.8" width="5.63" height="5.7" fill="#f3d5d6"/>
<rect x="34.1" y="82.5" width="5.63" height="5.7" fill="#f6f4f6"/>
<rect x="34.1" y="88.2" width="5.63" height="5.7" fill="#f6f4f6"/>
<rect x="34.1" y="93.9" width="5.63" height="5.7" fill="#f3d5d6"/>
<rect x="34.1" y="99.6" width="5.63" height="5.7" fill="#f3d5d6"/>
<rect x="34.1" y="105.3" width="5.63" height="5.7" fill="#f3d5d6"/>
<rect x="34.1" y="111" width="5.63" height="5.7" fill="#f3d5d6"/>
<rect x="34.1" y="116.7" width="5.63" height="5.7" fill="#f3d5d6"/>
<rect x="34.1" y="122.4" width="5.63" height="5.7" fill="#f3d5d6"/>
<rect x="34.1" y="128.1" width="5.63" height="5.7" fill="#eeb0b2"/>
<rect x="39.73" y="71.1" width="5.63" height="5.7" fill="#979ecf"/>
<rect x="39.73" y="76.8" width="5.63" height="5.7" fill="#f6f4f6"/>
<rect x="39.73" y="82.5" width="5.63" height="5.7" fill="#cacde8"/>
<rect x="39.73" y="88.2" width="5.63" height="5.7" fill="#f6f4f6"/>
<rect x="39.73" y="93.9" width="5.63" height="5.7" fill="#f6f4f6"/>
<rect x="39.73" y="99.6" width="5.63" height="5.7" fill="#f6f4f6"/>
<rect x="39.73" y="105.3" width="5.63" height="5.7" fill="#f6f4f6"/>
<rect x="39.73" y="111" width="5.63" height="5.7" fill="#f3d5d6"/>
<rect x="39.73" y="116.7" width="5.63" height="5.7" fill="#f6f4f6"/>
<rect x="39.73" y="122.4" width="5.63" height="5.7" fill="#f6f4f6"/>
<rect x="39.73" y="128.1" width="5.63" height="5.7" fill="#f3d5d6"/>
<rect x="45.36" y="71.1" width="5.63" height="5.7" fill="#979ecf"/>
<rect x="45.36" y="76.8" width="5.63" height="5.7" fill="#cacde8"/>
<rect x="45.36" y="82.5" width="5.63" height="5.7" fill="#cacde8"/>
<rect x="45.36" y="88.2" width="5.63" height="5.7" fill="#f6f4f6"/>
<rect x="45.36" y="93.9" width="5.63" height="5.7" fill="#cacde8"/>
<rect x="45.36" y="99.6" width="5.63" height="5.7" fill="#f3d5d6"/>
<rect x="45.36" y="105.3" width="5.63" height="5.7" fill="#f6f4f6"/>
<rect x="45.36" y="111" width="5.63" height="5.7" fill="#cacde8"/>
<rect x="45.36" y="116.7" width="5.63" height="5.7" fill="#f6f4f6"/>
<rect x="45.36" y="122.4" width="5.63" height="5.7" fill="#f3d5d6"/>
<rect x="45.36" y="128.1" width="5.63" height="5.7" fill="#f6f4f6"/>
<rect x="50.99" y="71.1" width="5.63" height="5.7" fill="#cacde8"/>
<rect x="50.99" y="76.8" width="5.63" height="5.7" fill="#f6f4f6"/>
<rect x="50.99" y="82.5" width="5.63" height="5.7" fill="#f6f4f6"/>
<rect x="50.99" y="88.2" width="5.63" height="5.7" fill="#f6f4f6"/>
<rect x="50.99" y="93.9" width="5.63" height="5.7" fill="#f6f4f6"/>
<rect x="50.99" y="99.6" width="5.63" height="5.7" fill="#f6f4f6"/>
<rect x="50.99" y="105.3" width="5.63" height="5.7" fill="#f3d5d6"/>
<rect x="50.99" y="111" width="5.63" height="5.7" fill="#f6f4f6"/>
<rect x="50.99" y="116.7" width="5.63" height="5.7" fill="#f6f4f6"/>
<rect x="50.99" y="122.4" width="5.63" height="5.7" fill="#cacde8"/>
<rect x="50.99" y="128.1" width="5.63" height="5.7" fill="#f6f4f6"/>
<rect x="56.62" y="71.1" width="5.63" height="5.7" fill="#cacde8"/>
<rect x="56.62" y="76.8" width="5.63" height="5.7" fill="#f3d5d6"/>
<rect x="56.62" y="82.5" width="5.63" height="5.7" fill="#f3d5d6"/>
<rect x="56.62" y="88.2" width="5.63" height="5.7" fill="#f6f4f6"/>
<rect x="56.62" y="93.9" width="5.63" height="5.7" fill="#d82a2f"/>
<rect x="56.62" y="99.6" width="5.63" height="5.7" fill="#e98587"/>
<rect x="56.62" y="105.3" width="5.63" height="5.7" fill="#f3d5d6"/>
<rect x="56.62" y="111" width="5.63" height="5.7" fill="#d82a2f"/>
<rect x="56.62" y="116.7" width="5.63" height="5.7" fill="#e98587"/>
<rect x="56.62" y="122.4" width="5.63" height="5.7" fill="#f6f4f6"/>
<rect x="56.62" y="128.1" width="5.63" height="5.7" fill="#d82a2f"/>
<rect x="62.25" y="71.1" width="5.63" height="5.7" fill="#f6f4f6"/>
<rect x="62.25" y="76.8" width="5.63" height="5.7" fill="#f3d5d6"/>
<rect x="62.25" y="82.5" width="5.63" height="5.7" fill="#f3d5d6"/>
<rect x="62.25" y="88.2" width="5.63" height="5.7" fill="#f3d5d6"/>
<rect x="62.25" y="93.9" width="5.63" height="5.7" fill="#f3d5d6"/>
<rect x="62.25" y="99.6" width="5.63" height="5.7" fill="#f3d5d6"/>
<rect x="62.25" y="105.3" width="5.63" height="5.7" fill="#f6f4f6"/>
<rect x="62.25" y="111" width="5.63" height="5.7" fill="#f3d5d6"/>
<rect x="62.25" y="116.7" width="5.63" height="5.7" fill="#f3d5d6"/>
<rect x="62.25" y="122.4" width="5.63" height="5.7" fill="#f3d5d6"/>
<rect x="62.25" y="128.1" width="5.63" height="5.7" fill="#f3d5d6"/>
<rect x="67.88" y="71.1" width="5.63" height="5.7" fill="#cacde8"/>
<rect x="67.88" y="76.8" width="5.63" height="5.7" fill="#f6f4f6"/>
<rect x="67.88" y="82.5" width="5.63" height="5.7" fill="#f3d5d6"/>
<rect x="67.88" y="88.2" width="5.63" height="5.7" fill="#f6f4f6"/>
<rect x="67.88" y="93.9" width="5.63" height="5.7" fill="#f3d5d6"/>
<rect x="67.88" y="99.6" width="5.63" height="5.7" fill="#f3d5d6"/>
<rect x="67.88" y="105.3" width="5.63" height="5.7" fill="#f3d5d6"/>
<rect x="67.88" y="111" width="5.63" height="5.7" fill="#f3d5d6"/>
<rect x="67.88" y="116.7" width="5.63" height="5.7" fill="#f3d5d6"/>
<rect x="67.88" y="122.4" width="5.63" height="5.7" fill="#f3d5d6"/>
<rect x="67.88" y="128.1" width="5.63" height="5.7" fill="#f3d5d6"/>
<rect x="73.51" y="71.1" width="5.63" height="5.7" fill="#cacde8"/>
<rect x="73.51" y="76.8" width="5.63" height="5.7" fill="#f3d5d6"/>
<rect x="73.51" y="82.5" width="5.63" height="5.7" fill="#f3d5d6"/>
<rect x="73.51" y="88.2" width="5.63" height="5.7" fill="#f6f4f6"/>
<rect x="73.51" y="93.9" width="5.63" height="5.7" fill="#f3d5d6"/>
<rect x="73.51" y="99.6" width="5.63" height="5.7" fill="#f3d5d6"/>
<rect x="73.51" y="105.3" width="5.63" height="5.7" fill="#f3d5d6"/>
<rect x="73.51" y="111" width="5.63" height="5.7" fill="#f3d5d6"/>
<rect x="73.51" y="116.7" width="5.63" height="5.7" fill="#f3d5d6"/>
<rect x="73.51" y="122.4" width="5.63" height="5.7" fill="#f3d5d6"/>
<rect x="73.51" y="128.1" width="5.63" height="5.7" fill="#f3d5d6"/>
<rect x="79.14" y="71.1" width="5.63" height="5.7" fill="#979ecf"/>
<rect x="79.14" y="76.8" width="5.63" height="5.7" fill="#cacde8"/>
<rect x="79.14" y="82.5" width="5.63" height="5.7" fill="#cacde8"/>
<rect x="79.14" y="88.2" width="5.63" height="5.7" fill="#cacde8"/>
<rect x="79.14" y="93.9" width="5.63" height="5.7" fill="#f6f4f6"/>
<rect x="79.14" y="99.6" width="5.63" height="5.7" fill="#f6f4f6"/>
<rect x="79.14" y="105.3" width="5.63" height="5.7" fill="#979ecf"/>
<rect x="79.14" y="111" width="5.63" height="5.7" fill="#f6f4f6"/>
<rect x="79.14" y="116.7" width="5.63" height="5.7" fill="#cacde8"/>
<rect x="79.14" y="122.4" width="5.63" height="5.7" fill="#6772b8"/>
<rect x="79.14" y="128.1" width="5.63" height="5.7" fill="#f6f4f6"/>
<rect x="84.77" y="71.1" width="5.63" height="5.7" fill="#f6f4f6"/>
<rect x="84.77" y="76.8" width="5.63" height="5.7" fill="#f6f4f6"/>
<rect x="84.77" y="82.5" width="5.63" height="5.7" fill="#f6f4f6"/>
<rect x="84.77" y="88.2" width="5.63" height="5.7" fill="#f6f4f6"/>
<rect x="84.77" y="93.9" width="5.63" height="5.7" fill="#f3d5d6"/>
<rect x="84.77" y="99.6" width="5.63" height="5.7" fill="#f3d5d6"/>
<rect x="84.77" y="105.3" width="5.63" height="5.7" fill="#f3d5d6"/>
<rect x="84.77" y="111" width="5.63" height="5.7" fill="#eeb0b2"/>
<rect x="84.77" y="116.7" width="5.63" height="5.7" fill="#eeb0b2"/>
<rect x="84.77" y="122.4" width="5.63" height="5.7" fill="#f3d5d6"/>
<rect x="84.77" y="128.1" width="5.63" height="5.7" fill="#f3d5d6"/>
<rect x="90.4" y="71.1" width="5.63" height="5.7" fill="#3c4a9c"/>
<rect x="90.4" y="76.8" width="5.63" height="5.7" fill="#3c4a9c"/>
<rect x="90.4" y="82.5" width="5.63" height="5.7" fill="#3c4a9c"/>
<rect x="90.4" y="88.2" width="5.63" height="5.7" fill="#cacde8"/>
<rect x="90.4" y="93.9" width="5.63" height="5.7" fill="#cacde8"/>
<rect x="90.4" y="99.6" width="5.63" height="5.7" fill="#f6f4f6"/>
<rect x="90.4" y="105.3" width="5.63" height="5.7" fill="#f6f4f6"/>
<rect x="90.4" y="111" width="5.63" height="5.7" fill="#f6f4f6"/>
<rect x="90.4" y="116.7" width="5.63" height="5.7" fill="#f6f4f6"/>
<rect x="90.4" y="122.4" width="5.63" height="5.7" fill="#f6f4f6"/>
<rect x="90.4" y="128.1" width="5.63" height="5.7" fill="#f6f4f6"/>
<rect x="96.03" y="71.1" width="5.63" height="5.7" fill="#6772b8"/>
<rect x="96.03" y="76.8" width="5.63" height="5.7" fill="#979ecf"/>
<rect x="96.03" y="82.5" width="5.63" height="5.7" fill="#6772b8"/>
<rect x="96.03" y="88.2" width="5.63" height="5.7" fill="#f6f4f6"/>
<rect x="96.03" y="93.9" width="5.63" height="5.7" fill="#e98587"/>
<rect x="96.03" y="99.6" width="5.63" height="5.7" fill="#f3d5d6"/>
<rect x="96.03" y="105.3" width="5.63" height="5.7" fill="#f3d5d6"/>
<rect x="96.03" y="111" width="5.63" height="5.7" fill="#e98587"/>
<rect x="96.03" y="116.7" width="5.63" height="5.7" fill="#f3d5d6"/>
<rect x="96.03" y="122.4" width="5.63" height="5.7" fill="#f3d5d6"/>
<rect x="96.03" y="128.1" width="5.63" height="5.7" fill="#d82a2f"/>
<rect x="101.66" y="71.1" width="5.63" height="5.7" fill="#979ecf"/>
<rect x="101.66" y="76.8" width="5.63" height="5.7" fill="#979ecf"/>
<rect x="101.66" y="82.5" width="5.63" height="5.7" fill="#979ecf"/>
<rect x="101.66" y="88.2" width="5.63" height="5.7" fill="#f6f4f6"/>
<rect x="101.66" y="93.9" width="5.63" height="5.7" fill="#f3d5d6"/>
<rect x="101.66" y="99.6" width="5.63" height="5.7" fill="#f3d5d6"/>
<rect x="101.66" y="105.3" width="5.63" height="5.7" fill="#f6f4f6"/>
<rect x="101.66" y="111" width="5.63" height="5.7" fill="#f3d5d6"/>
<rect x="101.66" y="116.7" width="5.63" height="5.7" fill="#f6f4f6"/>
<rect x="101.66" y="122.4" width="5.63" height="5.7" fill="#f6f4f6"/>
<rect x="101.66" y="128.1" width="5.63" height="5.7" fill="#f3d5d6"/>
<rect x="107.29" y="71.1" width="5.63" height="5.7" fill="#6772b8"/>
<rect x="107.29" y="76.8" width="5.63" height="5.7" fill="#cacde8"/>
<rect x="107.29" y="82.5" width="5.63" height="5.7" fill="#979ecf"/>
<rect x="107.29" y="88.2" width="5.63" height="5.7" fill="#cacde8"/>
<rect x="107.29" y="93.9" width="5.63" height="5.7" fill="#f3d5d6"/>
<rect x="107.29" y="99.6" width="5.63" height="5.7" fill="#f6f4f6"/>
<rect x="107.29" y="105.3" width="5.63" height="5.7" fill="#6772b8"/>
<rect x="107.29" y="111" width="5.63" height="5.7" fill="#f6f4f6"/>
<rect x="107.29" y="116.7" width="5.63" height="5.7" fill="#f6f4f6"/>
<rect x="107.29" y="122.4" width="5.63" height="5.7" fill="#cacde8"/>
<rect x="107.29" y="128.1" width="5.63" height="5.7" fill="#f3d5d6"/>
<rect x="112.92" y="71.1" width="5.63" height="5.7" fill="#6772b8"/>
<rect x="112.92" y="76.8" width="5.63" height="5.7" fill="#cacde8"/>
<rect x="112.92" y="82.5" width="5.63" height="5.7" fill="#979ecf"/>
<rect x="112.92" y="88.2" width="5.63" height="5.7" fill="#f6f4f6"/>
<rect x="112.92" y="93.9" width="5.63" height="5.7" fill="#f6f4f6"/>
<rect x="112.92" y="99.6" width="5.63" height="5.7" fill="#f6f4f6"/>
<rect x="112.92" y="105.3" width="5.63" height="5.7" fill="#f6f4f6"/>
<rect x="112.92" y="111" width="5.63" height="5.7" fill="#f3d5d6"/>
<rect x="112.92" y="116.7" width="5.63" height="5.7" fill="#f3d5d6"/>
<rect x="112.92" y="122.4" width="5.63" height="5.7" fill="#f6f4f6"/>
<rect x="112.92" y="128.1" width="5.63" height="5.7" fill="#f3d5d6"/>
<rect x="118.55" y="71.1" width="5.63" height="5.7" fill="#cacde8"/>
<rect x="118.55" y="76.8" width="5.63" height="5.7" fill="#f6f4f6"/>
<rect x="118.55" y="82.5" width="5.63" height="5.7" fill="#cacde8"/>
<rect x="118.55" y="88.2" width="5.63" height="5.7" fill="#f6f4f6"/>
<rect x="118.55" y="93.9" width="5.63" height="5.7" fill="#eeb0b2"/>
<rect x="118.55" y="99.6" width="5.63" height="5.7" fill="#f3d5d6"/>
<rect x="118.55" y="105.3" width="5.63" height="5.7" fill="#f6f4f6"/>
<rect x="118.55" y="111" width="5.63" height="5.7" fill="#f3d5d6"/>
<rect x="118.55" y="116.7" width="5.63" height="5.7" fill="#f3d5d6"/>
<rect x="118.55" y="122.4" width="5.63" height="5.7" fill="#f6f4f6"/>
<rect x="118.55" y="128.1" width="5.63" height="5.7" fill="#eeb0b2"/>
<rect x="124.18" y="71.1" width="5.63" height="5.7" fill="#cacde8"/>
<rect x="124.18" y="76.8" width="5.63" height="5.7" fill="#cacde8"/>
<rect x="124.18" y="82.5" width="5.63" height="5.7" fill="#cacde8"/>
<rect x="124.18" y="88.2" width="5.63" height="5.7" fill="#f6f4f6"/>
<rect x="124.18" y="93.9" width="5.63" height="5.7" fill="#f3d5d6"/>
<rect x="124.18" y="99.6" width="5.63" height="5.7" fill="#f3d5d6"/>
<rect x="124.18" y="105.3" width="5.63" height="5.7" fill="#f6f4f6"/>
<rect x="124.18" y="111" width="5.63" height="5.7" fill="#f3d5d6"/>
<rect x="124.18" y="116.7" width="5.63" height="5.7" fill="#f3d5d6"/>
<rect x="124.18" y="122.4" width="5.63" height="5.7" fill="#cacde8"/>
<rect x="124.18" y="128.1" width="5.63" height="5.7" fill="#f6f4f6"/>
<rect x="129.81" y="71.1" width="5.63" height="5.7" fill="#979ecf"/>
<rect x="129.81" y="76.8" width="5.63" height="5.7" fill="#979ecf"/>
<rect x="129.81" y="82.5" width="5.63" height="5.7" fill="#cacde8"/>
<rect x="129.81" y="88.2" width="5.63" height="5.7" fill="#cacde8"/>
<rect x="129.81" y="93.9" width="5.63" height="5.7" fill="#f6f4f6"/>
<rect x="129.81" y="99.6" width="5.63" height="5.7" fill="#cacde8"/>
<rect x="129.81" y="105.3" width="5.63" height="5.7" fill="#6772b8"/>
<rect x="129.81" y="111" width="5.63" height="5.7" fill="#f3d5d6"/>
<rect x="129.81" y="116.7" width="5.63" height="5.7" fill="#f6f4f6"/>
<rect x="129.81" y="122.4" width="5.63" height="5.7" fill="#6772b8"/>
<rect x="129.81" y="128.1" width="5.63" height="5.7" fill="#f6f4f6"/>
<rect x="135.44" y="71.1" width="5.63" height="5.7" fill="#cacde8"/>
<rect x="135.44" y="76.8" width="5.63" height="5.7" fill="#f6f4f6"/>
<rect x="135.44" y="82.5" width="5.63" height="5.7" fill="#cacde8"/>
<rect x="135.44" y="88.2" width="5.63" height="5.7" fill="#f6f4f6"/>
<rect x="135.44" y="93.9" width="5.63" height="5.7" fill="#eeb0b2"/>
<rect x="135.44" y="99.6" width="5.63" height="5.7" fill="#f3d5d6"/>
<rect x="135.44" y="105.3" width="5.63" height="5.7" fill="#f6f4f6"/>
<rect x="135.44" y="111" width="5.63" height="5.7" fill="#eeb0b2"/>
<rect x="135.44" y="116.7" width="5.63" height="5.7" fill="#f3d5d6"/>
<rect x="135.44" y="122.4" width="5.63" height="5.7" fill="#cacde8"/>
<rect x="135.44" y="128.1" width="5.63" height="5.7" fill="#eeb0b2"/>
<rect x="141.07" y="71.1" width="5.63" height="5.7" fill="#979ecf"/>
<rect x="141.07" y="76.8" width="5.63" height="5.7" fill="#cacde8"/>
<rect x="141.07" y="82.5" width="5.63" height="5.7" fill="#979ecf"/>
<rect x="141.07" y="88.2" width="5.63" height="5.7" fill="#cacde8"/>
<rect x="141.07" y="93.9" width="5.63" height="5.7" fill="#f6f4f6"/>
<rect x="141.07" y="99.6" width="5.63" height="5.7" fill="#cacde8"/>
<rect x="141.07" y="105.3" width="5.63" height="5.7" fill="#cacde8"/>
<rect x="141.07" y="111" width="5.63" height="5.7" fill="#f6f4f6"/>
<rect x="141.07" y="116.7" width="5.63" height="5.7" fill="#f6f4f6"/>
<rect x="141.07" y="122.4" width="5.63" height="5.7" fill="#cacde8"/>
<rect x="141.07" y="128.1" width="5.63" height="5.7" fill="#f6f4f6"/>
<rect x="146.7" y="71.1" width="5.63" height="5.7" fill="#cacde8"/>
<rect x="146.7" y="76.8" width="5.63" height="5.7" fill="#f6f4f6"/>
<rect x="146.7" y="82.5" width="5.63" height="5.7" fill="#cacde8"/>
<rect x="146.7" y="88.2" width="5.63" height="5.7" fill="#cacde8"/>
<rect x="146.7" y="93.9" width="5.63" height="5.7" fill="#f3d5d6"/>
<rect x="146.7" y="99.6" width="5.63" height="5.7" fill="#f3d5d6"/>
<rect x="146.7" y="105.3" width="5.63" height="5.7" fill="#cacde8"/>
<rect x="146.7" y="111" width="5.63" height="5.7" fill="#f3d5d6"/>
<rect x="146.7" y="116.7" width="5.63" height="5.7" fill="#f6f4f6"/>
<rect x="146.7" y="122.4" width="5.63" height="5.7" fill="#f6f4f6"/>
<rect x="146.7" y="128.1" width="5.63" height="5.7" fill="#f3d5d6"/>
<rect x="152.33" y="71.1" width="5.63" height="5.7" fill="#cacde8"/>
<rect x="152.33" y="76.8" width="5.63" height="5.7" fill="#f3d5d6"/>
<rect x="152.33" y="82.5" width="5.63" height="5.7" fill="#f3d5d6"/>
<rect x="152.33" y="88.2" width="5.63" height="5.7" fill="#f3d5d6"/>
<rect x="152.33" y="93.9" width="5.63" height="5.7" fill="#979ecf"/>
<rect x="152.33" y="99.6" width="5.63" height="5.7" fill="#cacde8"/>
<rect x="152.33" y="105.3" width="5.63" height="5.7" fill="#f3d5d6"/>
<rect x="152.33" y="111" width="5.63" height="5.7" fill="#f3d5d6"/>
<rect x="152.33" y="116.7" width="5.63" height="5.7" fill="#f3d5d6"/>
<rect x="152.33" y="122.4" width="5.63" height="5.7" fill="#f3d5d6"/>
<rect x="152.33" y="128.1" width="5.63" height="5.7" fill="#f6f4f6"/>
<rect x="157.96" y="71.1" width="5.63" height="5.7" fill="#979ecf"/>
<rect x="157.96" y="76.8" width="5.63" height="5.7" fill="#f6f4f6"/>
<rect x="157.96" y="82.5" width="5.63" height="5.7" fill="#cacde8"/>
<rect x="157.96" y="88.2" width="5.63" height="5.7" fill="#f6f4f6"/>
<rect x="157.96" y="93.9" width="5.63" height="5.7" fill="#f3d5d6"/>
<rect x="157.96" y="99.6" width="5.63" height="5.7" fill="#f6f4f6"/>
<rect x="157.96" y="105.3" width="5.63" height="5.7" fill="#cacde8"/>
<rect x="157.96" y="111" width="5.63" height="5.7" fill="#eeb0b2"/>
<rect x="157.96" y="116.7" width="5.63" height="5.7" fill="#f3d5d6"/>
<rect x="157.96" y="122.4" width="5.63" height="5.7" fill="#f6f4f6"/>
<rect x="157.96" y="128.1" width="5.63" height="5.7" fill="#e98587"/>
<rect x="163.59" y="71.1" width="5.63" height="5.7" fill="#f6f4f6"/>
<rect x="163.59" y="76.8" width="5.63" height="5.7" fill="#eeb0b2"/>
<rect x="163.59" y="82.5" width="5.63" height="5.7" fill="#f3d5d6"/>
<rect x="163.59" y="88.2" width="5.63" height="5.7" fill="#f6f4f6"/>
<rect x="163.59" y="93.9" width="5.63" height="5.7" fill="#f3d5d6"/>
<rect x="163.59" y="99.6" width="5.63" height="5.7" fill="#eeb0b2"/>
<rect x="163.59" y="105.3" width="5.63" height="5.7" fill="#f3d5d6"/>
<rect x="163.59" y="111" width="5.63" height="5.7" fill="#f3d5d6"/>
<rect x="163.59" y="116.7" width="5.63" height="5.7" fill="#f3d5d6"/>
<rect x="163.59" y="122.4" width="5.63" height="5.7" fill="#f6f4f6"/>
<rect x="163.59" y="128.1" width="5.63" height="5.7" fill="#eeb0b2"/>
<rect x="169.22" y="71.1" width="5.63" height="5.7" fill="#3c4a9c"/>
<rect x="169.22" y="76.8" width="5.63" height="5.7" fill="#3c4a9c"/>
<rect x="169.22" y="82.5" width="5.63" height="5.7" fill="#3c4a9c"/>
<rect x="169.22" y="88.2" width="5.63" height="5.7" fill="#cacde8"/>
<rect x="169.22" y="93.9" width="5.63" height="5.7" fill="#6772b8"/>
<rect x="169.22" y="99.6" width="5.63" height="5.7" fill="#f6f4f6"/>
<rect x="169.22" y="105.3" width="5.63" height="5.7" fill="#cacde8"/>
<rect x="169.22" y="111" width="5.63" height="5.7" fill="#6772b8"/>
<rect x="169.22" y="116.7" width="5.63" height="5.7" fill="#cacde8"/>
<rect x="169.22" y="122.4" width="5.63" height="5.7" fill="#cacde8"/>
<rect x="169.22" y="128.1" width="5.63" height="5.7" fill="#f6f4f6"/>
<rect x="174.85" y="71.1" width="5.63" height="5.7" fill="#bdbeb7"/>
<rect x="174.85" y="76.8" width="5.63" height="5.7" fill="#bdbeb7"/>
<rect x="174.85" y="82.5" width="5.63" height="5.7" fill="#bdbeb7"/>
<rect x="174.85" y="88.2" width="5.63" height="5.7" fill="#bdbeb7"/>
<rect x="174.85" y="93.9" width="5.63" height="5.7" fill="#bdbeb7"/>
<rect x="174.85" y="99.6" width="5.63" height="5.7" fill="#bdbeb7"/>
<rect x="174.85" y="105.3" width="5.63" height="5.7" fill="#bdbeb7"/>
<rect x="174.85" y="111" width="5.63" height="5.7" fill="#bdbeb7"/>
<rect x="174.85" y="116.7" width="5.63" height="5.7" fill="#bdbeb7"/>
<rect x="174.85" y="122.4" width="5.63" height="5.7" fill="#bdbeb7"/>
<rect x="174.85" y="128.1" width="5.63" height="5.7" fill="#bdbeb7"/>
<rect x="180.48" y="71.1" width="5.63" height="5.7" fill="#cacde8"/>
<rect x="180.48" y="76.8" width="5.63" height="5.7" fill="#f3d5d6"/>
<rect x="180.48" y="82.5" width="5.63" height="5.7" fill="#f3d5d6"/>
<rect x="180.48" y="88.2" width="5.63" height="5.7" fill="#f6f4f6"/>
<rect x="180.48" y="93.9" width="5.63" height="5.7" fill="#f3d5d6"/>
<rect x="180.48" y="99.6" width="5.63" height="5.7" fill="#f3d5d6"/>
<rect x="180.48" y="105.3" width="5.63" height="5.7" fill="#f3d5d6"/>
<rect x="180.48" y="111" width="5.63" height="5.7" fill="#f3d5d6"/>
<rect x="180.48" y="116.7" width="5.63" height="5.7" fill="#eeb0b2"/>
<rect x="180.48" y="122.4" width="5.63" height="5.7" fill="#f3d5d6"/>
<rect x="180.48" y="128.1" width="5.63" height="5.7" fill="#f3d5d6"/>
<rect x="186.11" y="71.1" width="5.63" height="5.7" fill="#3c4a9c"/>
<rect x="186.11" y="76.8" width="5.63" height="5.7" fill="#3c4a9c"/>
<rect x="186.11" y="82.5" width="5.63" height="5.7" fill="#3c4a9c"/>
<rect x="186.11" y="88.2" width="5.63" height="5.7" fill="#cacde8"/>
<rect x="186.11" y="93.9" width="5.63" height="5.7" fill="#3c4a9c"/>
<rect x="186.11" y="99.6" width="5.63" height="5.7" fill="#f6f4f6"/>
<rect x="186.11" y="105.3" width="5.63" height="5.7" fill="#f3d5d6"/>
<rect x="186.11" y="111" width="5.63" height="5.7" fill="#f3d5d6"/>
<rect x="186.11" y="116.7" width="5.63" height="5.7" fill="#f3d5d6"/>
<rect x="186.11" y="122.4" width="5.63" height="5.7" fill="#f6f4f6"/>
<rect x="186.11" y="128.1" width="5.63" height="5.7" fill="#f3d5d6"/>
<rect x="191.74" y="71.1" width="5.63" height="5.7" fill="#979ecf"/>
<rect x="191.74" y="76.8" width="5.63" height="5.7" fill="#f6f4f6"/>
<rect x="191.74" y="82.5" width="5.63" height="5.7" fill="#f6f4f6"/>
<rect x="191.74" y="88.2" width="5.63" height="5.7" fill="#cacde8"/>
<rect x="191.74" y="93.9" width="5.63" height="5.7" fill="#cacde8"/>
<rect x="191.74" y="99.6" width="5.63" height="5.7" fill="#f6f4f6"/>
<rect x="191.74" y="105.3" width="5.63" height="5.7" fill="#f6f4f6"/>
<rect x="191.74" y="111" width="5.63" height="5.7" fill="#f3d5d6"/>
<rect x="191.74" y="116.7" width="5.63" height="5.7" fill="#f3d5d6"/>
<rect x="191.74" y="122.4" width="5.63" height="5.7" fill="#f6f4f6"/>
<rect x="191.74" y="128.1" width="5.63" height="5.7" fill="#f3d5d6"/>
<rect x="197.37" y="71.1" width="5.63" height="5.7" fill="#3c4a9c"/>
<rect x="197.37" y="76.8" width="5.63" height="5.7" fill="#979ecf"/>
<rect x="197.37" y="82.5" width="5.63" height="5.7" fill="#979ecf"/>
<rect x="197.37" y="88.2" width="5.63" height="5.7" fill="#cacde8"/>
<rect x="197.37" y="93.9" width="5.63" height="5.7" fill="#cacde8"/>
<rect x="197.37" y="99.6" width="5.63" height="5.7" fill="#f3d5d6"/>
<rect x="197.37" y="105.3" width="5.63" height="5.7" fill="#f6f4f6"/>
<rect x="197.37" y="111" width="5.63" height="5.7" fill="#f3d5d6"/>
<rect x="197.37" y="116.7" width="5.63" height="5.7" fill="#f3d5d6"/>
<rect x="197.37" y="122.4" width="5.63" height="5.7" fill="#f3d5d6"/>
<rect x="197.37" y="128.1" width="5.63" height="5.7" fill="#f3d5d6"/>
<rect x="203" y="71.1" width="5.63" height="5.7" fill="#3c4a9c"/>
<rect x="203" y="76.8" width="5.63" height="5.7" fill="#f6f4f6"/>
<rect x="203" y="82.5" width="5.63" height="5.7" fill="#3c4a9c"/>
<rect x="203" y="88.2" width="5.63" height="5.7" fill="#cacde8"/>
<rect x="203" y="93.9" width="5.63" height="5.7" fill="#eeb0b2"/>
<rect x="203" y="99.6" width="5.63" height="5.7" fill="#eeb0b2"/>
<rect x="203" y="105.3" width="5.63" height="5.7" fill="#f6f4f6"/>
<rect x="203" y="111" width="5.63" height="5.7" fill="#f3d5d6"/>
<rect x="203" y="116.7" width="5.63" height="5.7" fill="#f3d5d6"/>
<rect x="203" y="122.4" width="5.63" height="5.7" fill="#f3d5d6"/>
<rect x="203" y="128.1" width="5.63" height="5.7" fill="#e98587"/>
<rect x="208.63" y="71.1" width="5.63" height="5.7" fill="#3c4a9c"/>
<rect x="208.63" y="76.8" width="5.63" height="5.7" fill="#979ecf"/>
<rect x="208.63" y="82.5" width="5.63" height="5.7" fill="#3c4a9c"/>
<rect x="208.63" y="88.2" width="5.63" height="5.7" fill="#cacde8"/>
<rect x="208.63" y="93.9" width="5.63" height="5.7" fill="#f6f4f6"/>
<rect x="208.63" y="99.6" width="5.63" height="5.7" fill="#cacde8"/>
<rect x="208.63" y="105.3" width="5.63" height="5.7" fill="#979ecf"/>
<rect x="208.63" y="111" width="5.63" height="5.7" fill="#cacde8"/>
<rect x="208.63" y="116.7" width="5.63" height="5.7" fill="#cacde8"/>
<rect x="208.63" y="122.4" width="5.63" height="5.7" fill="#979ecf"/>
<rect x="208.63" y="128.1" width="5.63" height="5.7" fill="#cacde8"/>
<rect x="214.26" y="71.1" width="5.63" height="5.7" fill="#3c4a9c"/>
<rect x="214.26" y="76.8" width="5.63" height="5.7" fill="#cacde8"/>
<rect x="214.26" y="82.5" width="5.63" height="5.7" fill="#3c4a9c"/>
<rect x="214.26" y="88.2" width="5.63" height="5.7" fill="#f3d5d6"/>
<rect x="214.26" y="93.9" width="5.63" height="5.7" fill="#f3d5d6"/>
<rect x="214.26" y="99.6" width="5.63" height="5.7" fill="#f3d5d6"/>
<rect x="214.26" y="105.3" width="5.63" height="5.7" fill="#f3d5d6"/>
<rect x="214.26" y="111" width="5.63" height="5.7" fill="#f3d5d6"/>
<rect x="214.26" y="116.7" width="5.63" height="5.7" fill="#f3d5d6"/>
<rect x="214.26" y="122.4" width="5.63" height="5.7" fill="#f3d5d6"/>
<rect x="214.26" y="128.1" width="5.63" height="5.7" fill="#f3d5d6"/>
<rect x="219.89" y="71.1" width="5.63" height="5.7" fill="#3c4a9c"/>
<rect x="219.89" y="76.8" width="5.63" height="5.7" fill="#979ecf"/>
<rect x="219.89" y="82.5" width="5.63" height="5.7" fill="#3c4a9c"/>
<rect x="219.89" y="88.2" width="5.63" height="5.7" fill="#979ecf"/>
<rect x="219.89" y="93.9" width="5.63" height="5.7" fill="#cacde8"/>
<rect x="219.89" y="99.6" width="5.63" height="5.7" fill="#f6f4f6"/>
<rect x="219.89" y="105.3" width="5.63" height="5.7" fill="#f6f4f6"/>
<rect x="219.89" y="111" width="5.63" height="5.7" fill="#cacde8"/>
<rect x="219.89" y="116.7" width="5.63" height="5.7" fill="#f6f4f6"/>
<rect x="219.89" y="122.4" width="5.63" height="5.7" fill="#f6f4f6"/>
<rect x="219.89" y="128.1" width="5.63" height="5.7" fill="#f6f4f6"/>
<rect x="225.52" y="71.1" width="5.63" height="5.7" fill="#3c4a9c"/>
<rect x="225.52" y="76.8" width="5.63" height="5.7" fill="#f6f4f6"/>
<rect x="225.52" y="82.5" width="5.63" height="5.7" fill="#3c4a9c"/>
<rect x="225.52" y="88.2" width="5.63" height="5.7" fill="#6772b8"/>
<rect x="225.52" y="93.9" width="5.63" height="5.7" fill="#f3d5d6"/>
<rect x="225.52" y="99.6" width="5.63" height="5.7" fill="#f3d5d6"/>
<rect x="225.52" y="105.3" width="5.63" height="5.7" fill="#eeb0b2"/>
<rect x="225.52" y="111" width="5.63" height="5.7" fill="#f3d5d6"/>
<rect x="225.52" y="116.7" width="5.63" height="5.7" fill="#f6f4f6"/>
<rect x="225.52" y="122.4" width="5.63" height="5.7" fill="#f6f4f6"/>
<rect x="225.52" y="128.1" width="5.63" height="5.7" fill="#eeb0b2"/>
<rect x="231.15" y="71.1" width="5.63" height="5.7" fill="#3c4a9c"/>
<rect x="231.15" y="76.8" width="5.63" height="5.7" fill="#f3d5d6"/>
<rect x="231.15" y="82.5" width="5.63" height="5.7" fill="#f6f4f6"/>
<rect x="231.15" y="88.2" width="5.63" height="5.7" fill="#6772b8"/>
<rect x="231.15" y="93.9" width="5.63" height="5.7" fill="#f3d5d6"/>
<rect x="231.15" y="99.6" width="5.63" height="5.7" fill="#f3d5d6"/>
<rect x="231.15" y="105.3" width="5.63" height="5.7" fill="#f6f4f6"/>
<rect x="231.15" y="111" width="5.63" height="5.7" fill="#f3d5d6"/>
<rect x="231.15" y="116.7" width="5.63" height="5.7" fill="#f3d5d6"/>
<rect x="231.15" y="122.4" width="5.63" height="5.7" fill="#f3d5d6"/>
<rect x="231.15" y="128.1" width="5.63" height="5.7" fill="#eeb0b2"/>
<rect x="236.78" y="71.1" width="5.63" height="5.7" fill="#bdbeb7"/>
<rect x="236.78" y="76.8" width="5.63" height="5.7" fill="#bdbeb7"/>
<rect x="236.78" y="82.5" width="5.63" height="5.7" fill="#bdbeb7"/>
<rect x="236.78" y="88.2" width="5.63" height="5.7" fill="#bdbeb7"/>
<rect x="236.78" y="93.9" width="5.63" height="5.7" fill="#bdbeb7"/>
<rect x="236.78" y="99.6" width="5.63" height="5.7" fill="#bdbeb7"/>
<rect x="236.78" y="105.3" width="5.63" height="5.7" fill="#bdbeb7"/>
<rect x="236.78" y="111" width="5.63" height="5.7" fill="#bdbeb7"/>
<rect x="236.78" y="116.7" width="5.63" height="5.7" fill="#bdbeb7"/>
<rect x="236.78" y="122.4" width="5.63" height="5.7" fill="#bdbeb7"/>
<rect x="236.78" y="128.1" width="5.63" height="5.7" fill="#bdbeb7"/>
<rect x="242.41" y="71.1" width="5.63" height="5.7" fill="#3c4a9c"/>
<rect x="242.41" y="76.8" width="5.63" height="5.7" fill="#f3d5d6"/>
<rect x="242.41" y="82.5" width="5.63" height="5.7" fill="#f6f4f6"/>
<rect x="242.41" y="88.2" width="5.63" height="5.7" fill="#6772b8"/>
<rect x="242.41" y="93.9" width="5.63" height="5.7" fill="#f3d5d6"/>
<rect x="242.41" y="99.6" width="5.63" height="5.7" fill="#f3d5d6"/>
<rect x="242.41" y="105.3" width="5.63" height="5.7" fill="#f6f4f6"/>
<rect x="242.41" y="111" width="5.63" height="5.7" fill="#f3d5d6"/>
<rect x="242.41" y="116.7" width="5.63" height="5.7" fill="#f3d5d6"/>
<rect x="242.41" y="122.4" width="5.63" height="5.7" fill="#cacde8"/>
<rect x="242.41" y="128.1" width="5.63" height="5.7" fill="#eeb0b2"/>
<rect x="248.04" y="71.1" width="5.63" height="5.7" fill="#3c4a9c"/>
<rect x="248.04" y="76.8" width="5.63" height="5.7" fill="#979ecf"/>
<rect x="248.04" y="82.5" width="5.63" height="5.7" fill="#3c4a9c"/>
<rect x="248.04" y="88.2" width="5.63" height="5.7" fill="#cacde8"/>
<rect x="248.04" y="93.9" width="5.63" height="5.7" fill="#cacde8"/>
<rect x="248.04" y="99.6" width="5.63" height="5.7" fill="#f6f4f6"/>
<rect x="248.04" y="105.3" width="5.63" height="5.7" fill="#cacde8"/>
<rect x="248.04" y="111" width="5.63" height="5.7" fill="#cacde8"/>
<rect x="248.04" y="116.7" width="5.63" height="5.7" fill="#f6f4f6"/>
<rect x="248.04" y="122.4" width="5.63" height="5.7" fill="#cacde8"/>
<rect x="248.04" y="128.1" width="5.63" height="5.7" fill="#f6f4f6"/>
<rect x="253.67" y="71.1" width="5.63" height="5.7" fill="#3c4a9c"/>
<rect x="253.67" y="76.8" width="5.63" height="5.7" fill="#6772b8"/>
<rect x="253.67" y="82.5" width="5.63" height="5.7" fill="#3c4a9c"/>
<rect x="253.67" y="88.2" width="5.63" height="5.7" fill="#cacde8"/>
<rect x="253.67" y="93.9" width="5.63" height="5.7" fill="#f6f4f6"/>
<rect x="253.67" y="99.6" width="5.63" height="5.7" fill="#f6f4f6"/>
<rect x="253.67" y="105.3" width="5.63" height="5.7" fill="#f6f4f6"/>
<rect x="253.67" y="111" width="5.63" height="5.7" fill="#cacde8"/>
<rect x="253.67" y="116.7" width="5.63" height="5.7" fill="#cacde8"/>
<rect x="253.67" y="122.4" width="5.63" height="5.7" fill="#cacde8"/>
<rect x="253.67" y="128.1" width="5.63" height="5.7" fill="#f6f4f6"/>
<rect x="259.3" y="71.1" width="5.63" height="5.7" fill="#3c4a9c"/>
<rect x="259.3" y="76.8" width="5.63" height="5.7" fill="#f3d5d6"/>
<rect x="259.3" y="82.5" width="5.63" height="5.7" fill="#f6f4f6"/>
<rect x="259.3" y="88.2" width="5.63" height="5.7" fill="#3c4a9c"/>
<rect x="259.3" y="93.9" width="5.63" height="5.7" fill="#e98587"/>
<rect x="259.3" y="99.6" width="5.63" height="5.7" fill="#f3d5d6"/>
<rect x="259.3" y="105.3" width="5.63" height="5.7" fill="#f6f4f6"/>
<rect x="259.3" y="111" width="5.63" height="5.7" fill="#eeb0b2"/>
<rect x="259.3" y="116.7" width="5.63" height="5.7" fill="#eeb0b2"/>
<rect x="259.3" y="122.4" width="5.63" height="5.7" fill="#f6f4f6"/>
<rect x="259.3" y="128.1" width="5.63" height="5.7" fill="#d82a2f"/>
<rect x="264.93" y="71.1" width="5.63" height="5.7" fill="#3c4a9c"/>
<rect x="264.93" y="76.8" width="5.63" height="5.7" fill="#6772b8"/>
<rect x="264.93" y="82.5" width="5.63" height="5.7" fill="#3c4a9c"/>
<rect x="264.93" y="88.2" width="5.63" height="5.7" fill="#cacde8"/>
<rect x="264.93" y="93.9" width="5.63" height="5.7" fill="#cacde8"/>
<rect x="264.93" y="99.6" width="5.63" height="5.7" fill="#f6f4f6"/>
<rect x="264.93" y="105.3" width="5.63" height="5.7" fill="#cacde8"/>
<rect x="264.93" y="111" width="5.63" height="5.7" fill="#3c4a9c"/>
<rect x="264.93" y="116.7" width="5.63" height="5.7" fill="#cacde8"/>
<rect x="264.93" y="122.4" width="5.63" height="5.7" fill="#cacde8"/>
<rect x="264.93" y="128.1" width="5.63" height="5.7" fill="#f6f4f6"/>
<rect x="270.56" y="71.1" width="5.63" height="5.7" fill="#3c4a9c"/>
<rect x="270.56" y="76.8" width="5.63" height="5.7" fill="#979ecf"/>
<rect x="270.56" y="82.5" width="5.63" height="5.7" fill="#3c4a9c"/>
<rect x="270.56" y="88.2" width="5.63" height="5.7" fill="#3c4a9c"/>
<rect x="270.56" y="93.9" width="5.63" height="5.7" fill="#f6f4f6"/>
<rect x="270.56" y="99.6" width="5.63" height="5.7" fill="#cacde8"/>
<rect x="270.56" y="105.3" width="5.63" height="5.7" fill="#6772b8"/>
<rect x="270.56" y="111" width="5.63" height="5.7" fill="#cacde8"/>
<rect x="270.56" y="116.7" width="5.63" height="5.7" fill="#f6f4f6"/>
<rect x="270.56" y="122.4" width="5.63" height="5.7" fill="#6772b8"/>
<rect x="270.56" y="128.1" width="5.63" height="5.7" fill="#f3d5d6"/>
<rect x="276.19" y="71.1" width="5.63" height="5.7" fill="#3c4a9c"/>
<rect x="276.19" y="76.8" width="5.63" height="5.7" fill="#3c4a9c"/>
<rect x="276.19" y="82.5" width="5.63" height="5.7" fill="#3c4a9c"/>
<rect x="276.19" y="88.2" width="5.63" height="5.7" fill="#f6f4f6"/>
<rect x="276.19" y="93.9" width="5.63" height="5.7" fill="#cacde8"/>
<rect x="276.19" y="99.6" width="5.63" height="5.7" fill="#f3d5d6"/>
<rect x="276.19" y="105.3" width="5.63" height="5.7" fill="#cacde8"/>
<rect x="276.19" y="111" width="5.63" height="5.7" fill="#f3d5d6"/>
<rect x="276.19" y="116.7" width="5.63" height="5.7" fill="#f3d5d6"/>
<rect x="276.19" y="122.4" width="5.63" height="5.7" fill="#f3d5d6"/>
<rect x="276.19" y="128.1" width="5.63" height="5.7" fill="#f3d5d6"/>
<path d="M34.1 71.1V133.8M39.73 71.1V133.8M45.36 71.1V133.8M50.99 71.1V133.8M56.62 71.1V133.8M62.25 71.1V133.8M67.88 71.1V133.8M73.51 71.1V133.8M79.14 71.1V133.8M84.77 71.1V133.8M90.4 71.1V133.8M96.03 71.1V133.8M101.66 71.1V133.8M107.29 71.1V133.8M112.92 71.1V133.8M118.55 71.1V133.8M124.18 71.1V133.8M129.81 71.1V133.8M135.44 71.1V133.8M141.07 71.1V133.8M146.7 71.1V133.8M152.33 71.1V133.8M157.96 71.1V133.8M163.59 71.1V133.8M169.22 71.1V133.8M174.85 71.1V133.8M180.48 71.1V133.8M186.11 71.1V133.8M191.74 71.1V133.8M197.37 71.1V133.8M203 71.1V133.8M208.63 71.1V133.8M214.26 71.1V133.8M219.89 71.1V133.8M225.52 71.1V133.8M231.15 71.1V133.8M236.78 71.1V133.8M242.41 71.1V133.8M248.04 71.1V133.8M253.67 71.1V133.8M259.3 71.1V133.8M264.93 71.1V133.8M270.56 71.1V133.8M276.19 71.1V133.8M281.82 71.1V133.8M34.1 71.1H281.82M34.1 76.8H281.82M34.1 82.5H281.82M34.1 88.2H281.82M34.1 93.9H281.82M34.1 99.6H281.82M34.1 105.3H281.82M34.1 111H281.82M34.1 116.7H281.82M34.1 122.4H281.82M34.1 128.1H281.82M34.1 133.8H281.82" stroke="#85858d" stroke-width="0.85" fill="none"/>
<g font-family="'Liberation Sans', Arial, sans-serif" font-size="5.6" fill="#111" stroke="#111" stroke-width="0.1">
<text x="285" y="7.82">Pan-HER</text>
<text x="285" y="13.48">EGFR+HER2</text>
<text x="285" y="19.12">EGFR+HER3</text>
<text x="285" y="24.78">HER2+HER3</text>
<text x="285" y="30.43">EGFR</text>
<text x="285" y="36.08">HER2</text>
<text x="285" y="41.73">HER3</text>
<text x="285" y="47.38">Cetuximab</text>
<text x="285" y="53.03">Trastuzumab</text>
<text x="285" y="58.68">MM-121</text>
<text x="285" y="64.33">Neg. control</text>
<text x="285" y="75.45">Pan-HER</text>
<text x="285" y="81.15">EGFR+HER2</text>
<text x="285" y="86.85">EGFR+HER3</text>
<text x="285" y="92.55">HER2+HER3</text>
<text x="285" y="98.25">EGFR</text>
<text x="285" y="103.95">HER2</text>
<text x="285" y="109.65">HER3</text>
<text x="285" y="115.35">Cetuximab</text>
<text x="285" y="121.05">Trastuzumab</text>
<text x="285" y="126.75">MM-121</text>
<text x="285" y="132.45">Neg. control</text>
</g>
<g font-family="'Liberation Sans', Arial, sans-serif" font-size="5.6" fill="#111" stroke="#111" stroke-width="0.1">
<text transform="translate(34.91 136.6) rotate(90)">SW837</text>
<text transform="translate(40.55 136.6) rotate(90)">RMUG-S</text>
<text transform="translate(46.17 136.6) rotate(90)">RL95-2</text>
<text transform="translate(51.8 136.6) rotate(90)">OVCAR-8</text>
<text transform="translate(57.44 136.6) rotate(90)">SW403</text>
<text transform="translate(63.06 136.6) rotate(90)">SK-BR-3</text>
<text transform="translate(68.69 136.6) rotate(90)">OVCAR-3</text>
<text transform="translate(74.33 136.6) rotate(90)">OVCAR-5</text>
<text transform="translate(79.95 136.6) rotate(90)">MFE-280</text>
<text transform="translate(85.59 136.6) rotate(90)">H661</text>
<text transform="translate(91.22 136.6) rotate(90)">HCC1937</text>
<text transform="translate(96.84 136.6) rotate(90)">AsPC1</text>
<text transform="translate(102.47 136.6) rotate(90)">COLO680N</text>
<text transform="translate(108.1 136.6) rotate(90)">HE30</text>
<text transform="translate(113.74 136.6) rotate(90)">COLO678</text>
<text transform="translate(119.37 136.6) rotate(90)">SW1463</text>
<text transform="translate(125 136.6) rotate(90)">A-431</text>
<text transform="translate(130.62 136.6) rotate(90)">BxPC3</text>
<text transform="translate(136.25 136.6) rotate(90)">CFPAC-1</text>
<text transform="translate(141.88 136.6) rotate(90)">PK-1</text>
<text transform="translate(147.51 136.6) rotate(90)">OE33</text>
<text transform="translate(153.15 136.6) rotate(90)">IGR-OV1</text>
<text transform="translate(158.78 136.6) rotate(90)">CAPAN-1</text>
<text transform="translate(164.41 136.6) rotate(90)">AU-565</text>
<text transform="translate(170.03 136.6) rotate(90)">KYSE520</text>
<text transform="translate(175.66 136.6) rotate(90)">H1975</text>
<text transform="translate(181.29 136.6) rotate(90)">ZR-75-30</text>
<text transform="translate(186.92 136.6) rotate(90)">LS-174T</text>
<text transform="translate(192.55 136.6) rotate(90)">HCC202</text>
<text transform="translate(198.19 136.6) rotate(90)">H292</text>
<text transform="translate(203.81 136.6) rotate(90)">CALU-3</text>
<text transform="translate(209.44 136.6) rotate(90)">H358</text>
<text transform="translate(215.07 136.6) rotate(90)">CSO</text>
<text transform="translate(220.7 136.6) rotate(90)">TE11</text>
<text transform="translate(226.33 136.6) rotate(90)">RMG-I</text>
<text transform="translate(231.97 136.6) rotate(90)">BT474</text>
<text transform="translate(237.59 136.6) rotate(90)">SW948</text>
<text transform="translate(243.22 136.6) rotate(90)">OE19</text>
<text transform="translate(248.85 136.6) rotate(90)">A431NS</text>
<text transform="translate(254.49 136.6) rotate(90)">FaDu</text>
<text transform="translate(260.12 136.6) rotate(90)">N87</text>
<text transform="translate(265.75 136.6) rotate(90)">HCC827</text>
<text transform="translate(271.38 136.6) rotate(90)">MDA-MB175-VII</text>
<text transform="translate(277 136.6) rotate(90)">HN5</text>
<text transform="translate(284.4 136.6) rotate(90)">Cell line</text>
</g>
<text x="325.2" y="14" font-family="'Liberation Sans', Arial, sans-serif" font-weight="bold" font-size="13.6" stroke="#000" stroke-width="0.35">B</text>
<path d="M348.6 99.9H520" stroke="#b0b0b0" stroke-width="0.9"/>
<path d="M348.6 7.5V146.3H520" stroke="#222" stroke-width="0.9" fill="none"/>
<path d="M346.6 146H348.6M346.6 99.9H348.6M346.6 53.8H348.6M346.6 7.7H348.6" stroke="#222" stroke-width="0.8"/>
<g font-family="'Liberation Sans', Arial, sans-serif" font-size="3.8" text-anchor="end" font-weight="bold">
<text x="346.3" y="147.4">0</text>
<text x="346.3" y="101.3">100</text>
<text x="346.3" y="55.2">200</text>
<text x="346.3" y="9.1">300</text>
</g>
<text transform="translate(336.2 79.5) rotate(-90)" text-anchor="middle" font-family="'Liberation Sans', Arial, sans-serif" font-weight="bold" font-size="8.8" textLength="79" lengthAdjust="spacingAndGlyphs">Metabolic activity %</text>
<rect x="352.1" y="6.3" width="20.6" height="11" fill="#fff" stroke="#555" stroke-width="0.6"/>
<circle cx="354.5" cy="9.3" r="0.65" fill="#111"/><circle cx="354.5" cy="14.9" r="0.6" fill="#aaa"/>
<g font-family="'Liberation Sans', Arial, sans-serif" font-size="4" fill="#333"><text x="360.2" y="10.7">+EGF</text><text x="360.2" y="16.2">+NRG</text></g>
<g fill="#111"><rect x="350.4" y="83.43" width="1.6" height="1.6"/><rect x="350.4" y="85.66" width="1.6" height="1.6"/><rect x="350.4" y="91.02" width="1.6" height="1.6"/><rect x="350.4" y="96.32" width="1.6" height="1.6"/><rect x="348.7" y="97.38" width="1.6" height="1.6"/><rect x="350.4" y="98.45" width="1.6" height="1.6"/><rect x="348.7" y="99.78" width="1.6" height="1.6"/><rect x="350.4" y="100.86" width="1.6" height="1.6"/><rect x="348.7" y="101.86" width="1.6" height="1.6"/><rect x="350.4" y="103.31" width="1.6" height="1.6"/><rect x="348.7" y="104.55" width="1.6" height="1.6"/><rect x="350.4" y="105.7" width="1.6" height="1.6"/><rect x="348.7" y="106.31" width="1.6" height="1.6"/><rect x="352.1" y="107" width="1.6" height="1.6"/><rect x="350.4" y="107.54" width="1.6" height="1.6"/><rect x="348.7" y="108.19" width="1.6" height="1.6"/><rect x="352.1" y="108.95" width="1.6" height="1.6"/><rect x="350.4" y="109.37" width="1.6" height="1.6"/><rect x="348.7" y="110.16" width="1.6" height="1.6"/><rect x="352.1" y="110.86" width="1.6" height="1.6"/><rect x="350.4" y="111.48" width="1.6" height="1.6"/><rect x="348.7" y="112.06" width="1.6" height="1.6"/><rect x="347" y="112.5" width="1.6" height="1.6"/><rect x="350.4" y="114.01" width="1.6" height="1.6"/><rect x="348.7" y="114.76" width="1.6" height="1.6"/><rect x="350.4" y="116.68" width="1.6" height="1.6"/><rect x="348.7" y="118" width="1.6" height="1.6"/><rect x="350.4" y="119.18" width="1.6" height="1.6"/><rect x="350.4" y="120.9" width="1.6" height="1.6"/><rect x="350.4" y="122.68" width="1.6" height="1.6"/><rect x="348.7" y="124.22" width="1.6" height="1.6"/><rect x="350.4" y="125.14" width="1.6" height="1.6"/><rect x="350.4" y="126.92" width="1.6" height="1.6"/><rect x="350.4" y="128.65" width="1.6" height="1.6"/><rect x="348.7" y="129.6" width="1.6" height="1.6"/><rect x="352.1" y="130.2" width="1.6" height="1.6"/><rect x="350.4" y="131.1" width="1.6" height="1.6"/><rect x="348.7" y="131.66" width="1.6" height="1.6"/><rect x="352.1" y="132.57" width="1.6" height="1.6"/><rect x="350.4" y="133.19" width="1.6" height="1.6"/><rect x="348.7" y="133.87" width="1.6" height="1.6"/><rect x="352.1" y="134.79" width="1.6" height="1.6"/><rect x="350.4" y="135.3" width="1.6" height="1.6"/><rect x="350.4" y="137.32" width="1.6" height="1.6"/><rect x="350.4" y="140.22" width="1.6" height="1.6"/><rect x="348.7" y="141.51" width="1.6" height="1.6"/></g>
<path d="M348.5 113.73h5.4" stroke="#d8403c" stroke-width="1.1"/>
<g fill="#111"><rect x="358.1" y="85.73" width="1.6" height="1.6"/><rect x="356.4" y="86.92" width="1.6" height="1.6"/><rect x="358.1" y="91.83" width="1.6" height="1.6"/><rect x="358.1" y="94.7" width="1.6" height="1.6"/><rect x="356.4" y="95.55" width="1.6" height="1.6"/><rect x="359.8" y="96.08" width="1.6" height="1.6"/><rect x="358.1" y="97.18" width="1.6" height="1.6"/><rect x="356.4" y="97.96" width="1.6" height="1.6"/><rect x="359.8" y="98.74" width="1.6" height="1.6"/><rect x="358.1" y="99.42" width="1.6" height="1.6"/><rect x="356.4" y="100.4" width="1.6" height="1.6"/><rect x="359.8" y="100.93" width="1.6" height="1.6"/><rect x="358.1" y="101.76" width="1.6" height="1.6"/><rect x="356.4" y="102.42" width="1.6" height="1.6"/><rect x="359.8" y="102.87" width="1.6" height="1.6"/><rect x="354.7" y="103.44" width="1.6" height="1.6"/><rect x="358.1" y="104.19" width="1.6" height="1.6"/><rect x="356.4" y="104.8" width="1.6" height="1.6"/><rect x="359.8" y="105.64" width="1.6" height="1.6"/><rect x="358.1" y="106.07" width="1.6" height="1.6"/><rect x="356.4" y="106.76" width="1.6" height="1.6"/><rect x="354.7" y="107.23" width="1.6" height="1.6"/><rect x="358.1" y="107.89" width="1.6" height="1.6"/><rect x="356.4" y="109.09" width="1.6" height="1.6"/><rect x="358.1" y="110.46" width="1.6" height="1.6"/><rect x="356.4" y="111.91" width="1.6" height="1.6"/><rect x="358.1" y="113.3" width="1.6" height="1.6"/><rect x="358.1" y="115.06" width="1.6" height="1.6"/><rect x="356.4" y="116.1" width="1.6" height="1.6"/><rect x="358.1" y="117.8" width="1.6" height="1.6"/><rect x="356.4" y="119.12" width="1.6" height="1.6"/><rect x="358.1" y="120.66" width="1.6" height="1.6"/><rect x="358.1" y="122.61" width="1.6" height="1.6"/><rect x="356.4" y="123.73" width="1.6" height="1.6"/><rect x="358.1" y="125.09" width="1.6" height="1.6"/><rect x="356.4" y="125.73" width="1.6" height="1.6"/><rect x="358.1" y="126.83" width="1.6" height="1.6"/><rect x="356.4" y="127.91" width="1.6" height="1.6"/><rect x="359.8" y="128.42" width="1.6" height="1.6"/><rect x="358.1" y="129.69" width="1.6" height="1.6"/><rect x="356.4" y="130.41" width="1.6" height="1.6"/><rect x="359.8" y="131.27" width="1.6" height="1.6"/><rect x="358.1" y="132.37" width="1.6" height="1.6"/><rect x="356.4" y="133.96" width="1.6" height="1.6"/><rect x="358.1" y="138.67" width="1.6" height="1.6"/><rect x="356.4" y="140.13" width="1.6" height="1.6"/></g>
<path d="M356.2 109.12h5.4" stroke="#d8403c" stroke-width="1.1"/>
<g fill="#111"><rect x="365.8" y="85.73" width="1.6" height="1.6"/><rect x="365.8" y="88.81" width="1.6" height="1.6"/><rect x="365.8" y="93.66" width="1.6" height="1.6"/><rect x="365.8" y="96.11" width="1.6" height="1.6"/><rect x="364.1" y="96.89" width="1.6" height="1.6"/><rect x="365.8" y="97.9" width="1.6" height="1.6"/><rect x="364.1" y="98.79" width="1.6" height="1.6"/><rect x="365.8" y="99.78" width="1.6" height="1.6"/><rect x="364.1" y="100.7" width="1.6" height="1.6"/><rect x="367.5" y="101.35" width="1.6" height="1.6"/><rect x="365.8" y="102.52" width="1.6" height="1.6"/><rect x="364.1" y="103.3" width="1.6" height="1.6"/><rect x="367.5" y="104.18" width="1.6" height="1.6"/><rect x="365.8" y="104.84" width="1.6" height="1.6"/><rect x="364.1" y="105.64" width="1.6" height="1.6"/><rect x="367.5" y="106.52" width="1.6" height="1.6"/><rect x="365.8" y="107.31" width="1.6" height="1.6"/><rect x="364.1" y="108.52" width="1.6" height="1.6"/><rect x="365.8" y="109.08" width="1.6" height="1.6"/><rect x="367.5" y="109.94" width="1.6" height="1.6"/><rect x="365.8" y="110.83" width="1.6" height="1.6"/><rect x="364.1" y="111.59" width="1.6" height="1.6"/><rect x="367.5" y="112.31" width="1.6" height="1.6"/><rect x="365.8" y="113.42" width="1.6" height="1.6"/><rect x="364.1" y="114.57" width="1.6" height="1.6"/><rect x="365.8" y="115.59" width="1.6" height="1.6"/><rect x="364.1" y="116.87" width="1.6" height="1.6"/><rect x="365.8" y="117.78" width="1.6" height="1.6"/><rect x="364.1" y="118.64" width="1.6" height="1.6"/><rect x="365.8" y="119.75" width="1.6" height="1.6"/><rect x="364.1" y="120.94" width="1.6" height="1.6"/><rect x="365.8" y="121.98" width="1.6" height="1.6"/><rect x="364.1" y="123.06" width="1.6" height="1.6"/><rect x="365.8" y="124.12" width="1.6" height="1.6"/><rect x="367.5" y="124.66" width="1.6" height="1.6"/><rect x="364.1" y="125.49" width="1.6" height="1.6"/><rect x="365.8" y="126.5" width="1.6" height="1.6"/><rect x="364.1" y="127.28" width="1.6" height="1.6"/><rect x="367.5" y="128.13" width="1.6" height="1.6"/><rect x="365.8" y="128.68" width="1.6" height="1.6"/><rect x="364.1" y="129.49" width="1.6" height="1.6"/><rect x="367.5" y="130.26" width="1.6" height="1.6"/><rect x="365.8" y="131.2" width="1.6" height="1.6"/><rect x="364.1" y="132.79" width="1.6" height="1.6"/><rect x="365.8" y="136.87" width="1.6" height="1.6"/><rect x="364.1" y="137.82" width="1.6" height="1.6"/></g>
<path d="M363.9 113.73h5.4" stroke="#d8403c" stroke-width="1.1"/>
<g fill="#111"><rect x="373.5" y="44.7" width="1.6" height="1.6"/><rect x="373.5" y="47.63" width="1.6" height="1.6"/><rect x="373.5" y="55.14" width="1.6" height="1.6"/><rect x="373.5" y="62.17" width="1.6" height="1.6"/><rect x="371.8" y="63.73" width="1.6" height="1.6"/><rect x="373.5" y="65.22" width="1.6" height="1.6"/><rect x="373.5" y="66.97" width="1.6" height="1.6"/><rect x="373.5" y="69.07" width="1.6" height="1.6"/><rect x="371.8" y="70.58" width="1.6" height="1.6"/><rect x="373.5" y="71.81" width="1.6" height="1.6"/><rect x="373.5" y="73.62" width="1.6" height="1.6"/><rect x="371.8" y="75.02" width="1.6" height="1.6"/><rect x="373.5" y="77.04" width="1.6" height="1.6"/><rect x="371.8" y="78.35" width="1.6" height="1.6"/><rect x="373.5" y="79.9" width="1.6" height="1.6"/><rect x="371.8" y="81.03" width="1.6" height="1.6"/><rect x="373.5" y="82.37" width="1.6" height="1.6"/><rect x="371.8" y="83.75" width="1.6" height="1.6"/><rect x="373.5" y="85.56" width="1.6" height="1.6"/><rect x="373.5" y="87.42" width="1.6" height="1.6"/><rect x="371.8" y="88.48" width="1.6" height="1.6"/><rect x="373.5" y="90.26" width="1.6" height="1.6"/><rect x="371.8" y="91.43" width="1.6" height="1.6"/><rect x="373.5" y="92.57" width="1.6" height="1.6"/><rect x="373.5" y="94.75" width="1.6" height="1.6"/><rect x="371.8" y="96.11" width="1.6" height="1.6"/><rect x="373.5" y="97.06" width="1.6" height="1.6"/><rect x="373.5" y="98.97" width="1.6" height="1.6"/><rect x="371.8" y="100.37" width="1.6" height="1.6"/><rect x="373.5" y="102.03" width="1.6" height="1.6"/><rect x="371.8" y="103.51" width="1.6" height="1.6"/><rect x="373.5" y="104.67" width="1.6" height="1.6"/><rect x="371.8" y="106.15" width="1.6" height="1.6"/><rect x="373.5" y="107.2" width="1.6" height="1.6"/><rect x="371.8" y="108.78" width="1.6" height="1.6"/><rect x="373.5" y="110.79" width="1.6" height="1.6"/><rect x="371.8" y="112.06" width="1.6" height="1.6"/><rect x="373.5" y="113.53" width="1.6" height="1.6"/><rect x="371.8" y="115.05" width="1.6" height="1.6"/><rect x="373.5" y="116.59" width="1.6" height="1.6"/><rect x="371.8" y="117.69" width="1.6" height="1.6"/><rect x="373.5" y="118.94" width="1.6" height="1.6"/><rect x="373.5" y="121.05" width="1.6" height="1.6"/><rect x="373.5" y="123.83" width="1.6" height="1.6"/><rect x="373.5" y="130.94" width="1.6" height="1.6"/><rect x="373.5" y="132.75" width="1.6" height="1.6"/></g>
<path d="M371.6 92.98h5.4" stroke="#d8403c" stroke-width="1.1"/>
<g fill="#111"><rect x="381.2" y="51.16" width="1.6" height="1.6"/><rect x="381.2" y="55.01" width="1.6" height="1.6"/><rect x="381.2" y="65.83" width="1.6" height="1.6"/><rect x="381.2" y="77.39" width="1.6" height="1.6"/><rect x="381.2" y="79.75" width="1.6" height="1.6"/><rect x="381.2" y="82.03" width="1.6" height="1.6"/><rect x="379.5" y="83.68" width="1.6" height="1.6"/><rect x="381.2" y="85.74" width="1.6" height="1.6"/><rect x="381.2" y="88.75" width="1.6" height="1.6"/><rect x="381.2" y="91.09" width="1.6" height="1.6"/><rect x="379.5" y="92.71" width="1.6" height="1.6"/><rect x="381.2" y="95.26" width="1.6" height="1.6"/><rect x="381.2" y="97.26" width="1.6" height="1.6"/><rect x="379.5" y="97.87" width="1.6" height="1.6"/><rect x="382.9" y="98.92" width="1.6" height="1.6"/><rect x="381.2" y="99.59" width="1.6" height="1.6"/><rect x="379.5" y="100.27" width="1.6" height="1.6"/><rect x="382.9" y="101.06" width="1.6" height="1.6"/><rect x="381.2" y="101.8" width="1.6" height="1.6"/><rect x="379.5" y="102.7" width="1.6" height="1.6"/><rect x="381.2" y="103.74" width="1.6" height="1.6"/><rect x="382.9" y="104.23" width="1.6" height="1.6"/><rect x="379.5" y="105.09" width="1.6" height="1.6"/><rect x="381.2" y="106.11" width="1.6" height="1.6"/><rect x="379.5" y="106.99" width="1.6" height="1.6"/><rect x="381.2" y="108.05" width="1.6" height="1.6"/><rect x="379.5" y="109.3" width="1.6" height="1.6"/><rect x="381.2" y="110.63" width="1.6" height="1.6"/><rect x="379.5" y="111.72" width="1.6" height="1.6"/><rect x="381.2" y="112.79" width="1.6" height="1.6"/><rect x="379.5" y="113.89" width="1.6" height="1.6"/><rect x="381.2" y="114.89" width="1.6" height="1.6"/><rect x="379.5" y="115.64" width="1.6" height="1.6"/><rect x="381.2" y="116.71" width="1.6" height="1.6"/><rect x="379.5" y="117.81" width="1.6" height="1.6"/><rect x="381.2" y="119.05" width="1.6" height="1.6"/><rect x="379.5" y="119.77" width="1.6" height="1.6"/><rect x="381.2" y="120.9" width="1.6" height="1.6"/><rect x="379.5" y="122.11" width="1.6" height="1.6"/><rect x="381.2" y="123.09" width="1.6" height="1.6"/><rect x="379.5" y="124.21" width="1.6" height="1.6"/><rect x="381.2" y="125.19" width="1.6" height="1.6"/><rect x="379.5" y="126.01" width="1.6" height="1.6"/><rect x="381.2" y="127.73" width="1.6" height="1.6"/><rect x="381.2" y="132.63" width="1.6" height="1.6"/><rect x="379.5" y="134.14" width="1.6" height="1.6"/></g>
<path d="M379.3 106.35h5.4" stroke="#d8403c" stroke-width="1.1"/>
<g fill="#111"><rect x="388.9" y="36.4" width="1.6" height="1.6"/><rect x="388.9" y="41.55" width="1.6" height="1.6"/><rect x="388.9" y="53.1" width="1.6" height="1.6"/><rect x="388.9" y="60.06" width="1.6" height="1.6"/><rect x="388.9" y="62.01" width="1.6" height="1.6"/><rect x="388.9" y="64.44" width="1.6" height="1.6"/><rect x="388.9" y="66.93" width="1.6" height="1.6"/><rect x="387.2" y="68.36" width="1.6" height="1.6"/><rect x="388.9" y="71.41" width="1.6" height="1.6"/><rect x="388.9" y="73.35" width="1.6" height="1.6"/><rect x="388.9" y="75.2" width="1.6" height="1.6"/><rect x="388.9" y="77.83" width="1.6" height="1.6"/><rect x="387.2" y="78.97" width="1.6" height="1.6"/><rect x="388.9" y="80.22" width="1.6" height="1.6"/><rect x="387.2" y="81.5" width="1.6" height="1.6"/><rect x="388.9" y="82.48" width="1.6" height="1.6"/><rect x="387.2" y="84.07" width="1.6" height="1.6"/><rect x="388.9" y="85" width="1.6" height="1.6"/><rect x="387.2" y="86.47" width="1.6" height="1.6"/><rect x="388.9" y="87.81" width="1.6" height="1.6"/><rect x="387.2" y="89.14" width="1.6" height="1.6"/><rect x="388.9" y="90.03" width="1.6" height="1.6"/><rect x="388.9" y="91.8" width="1.6" height="1.6"/><rect x="387.2" y="92.75" width="1.6" height="1.6"/><rect x="388.9" y="93.89" width="1.6" height="1.6"/><rect x="387.2" y="94.76" width="1.6" height="1.6"/><rect x="388.9" y="96" width="1.6" height="1.6"/><rect x="387.2" y="97.01" width="1.6" height="1.6"/><rect x="388.9" y="98.08" width="1.6" height="1.6"/><rect x="387.2" y="99.16" width="1.6" height="1.6"/><rect x="388.9" y="99.86" width="1.6" height="1.6"/><rect x="387.2" y="100.89" width="1.6" height="1.6"/><rect x="388.9" y="102.18" width="1.6" height="1.6"/><rect x="387.2" y="102.95" width="1.6" height="1.6"/><rect x="388.9" y="104.27" width="1.6" height="1.6"/><rect x="387.2" y="105.35" width="1.6" height="1.6"/><rect x="388.9" y="106.3" width="1.6" height="1.6"/><rect x="388.9" y="108.04" width="1.6" height="1.6"/><rect x="387.2" y="109.12" width="1.6" height="1.6"/><rect x="388.9" y="110.02" width="1.6" height="1.6"/><rect x="387.2" y="111.29" width="1.6" height="1.6"/><rect x="388.9" y="112.26" width="1.6" height="1.6"/><rect x="387.2" y="113.21" width="1.6" height="1.6"/><rect x="388.9" y="114.79" width="1.6" height="1.6"/><rect x="388.9" y="121.52" width="1.6" height="1.6"/><rect x="387.2" y="123.07" width="1.6" height="1.6"/></g>
<path d="M387 92.98h5.4" stroke="#d8403c" stroke-width="1.1"/>
<g fill="#111"><rect x="396.6" y="32.25" width="1.6" height="1.6"/><rect x="396.6" y="35.41" width="1.6" height="1.6"/><rect x="396.6" y="52.2" width="1.6" height="1.6"/><rect x="396.6" y="59.01" width="1.6" height="1.6"/><rect x="396.6" y="61.6" width="1.6" height="1.6"/><rect x="396.6" y="65.04" width="1.6" height="1.6"/><rect x="396.6" y="66.84" width="1.6" height="1.6"/><rect x="396.6" y="69.24" width="1.6" height="1.6"/><rect x="396.6" y="72.45" width="1.6" height="1.6"/><rect x="394.9" y="73.95" width="1.6" height="1.6"/><rect x="396.6" y="76.58" width="1.6" height="1.6"/><rect x="396.6" y="79.2" width="1.6" height="1.6"/><rect x="396.6" y="81.42" width="1.6" height="1.6"/><rect x="394.9" y="82.38" width="1.6" height="1.6"/><rect x="396.6" y="83.52" width="1.6" height="1.6"/><rect x="394.9" y="84.36" width="1.6" height="1.6"/><rect x="396.6" y="85.58" width="1.6" height="1.6"/><rect x="394.9" y="86.62" width="1.6" height="1.6"/><rect x="398.3" y="87.28" width="1.6" height="1.6"/><rect x="396.6" y="88.27" width="1.6" height="1.6"/><rect x="394.9" y="89.53" width="1.6" height="1.6"/><rect x="396.6" y="90.75" width="1.6" height="1.6"/><rect x="394.9" y="91.42" width="1.6" height="1.6"/><rect x="398.3" y="92.44" width="1.6" height="1.6"/><rect x="396.6" y="93.35" width="1.6" height="1.6"/><rect x="394.9" y="94.09" width="1.6" height="1.6"/><rect x="396.6" y="95.13" width="1.6" height="1.6"/><rect x="394.9" y="95.94" width="1.6" height="1.6"/><rect x="398.3" y="96.82" width="1.6" height="1.6"/><rect x="396.6" y="97.55" width="1.6" height="1.6"/><rect x="394.9" y="98.47" width="1.6" height="1.6"/><rect x="396.6" y="99.31" width="1.6" height="1.6"/><rect x="398.3" y="100.1" width="1.6" height="1.6"/><rect x="396.6" y="101.01" width="1.6" height="1.6"/><rect x="394.9" y="101.65" width="1.6" height="1.6"/><rect x="398.3" y="102.56" width="1.6" height="1.6"/><rect x="396.6" y="103.5" width="1.6" height="1.6"/><rect x="394.9" y="104.38" width="1.6" height="1.6"/><rect x="398.3" y="105.11" width="1.6" height="1.6"/><rect x="396.6" y="106.18" width="1.6" height="1.6"/><rect x="394.9" y="107.05" width="1.6" height="1.6"/><rect x="398.3" y="107.76" width="1.6" height="1.6"/><rect x="396.6" y="108.81" width="1.6" height="1.6"/><rect x="394.9" y="109.67" width="1.6" height="1.6"/><rect x="396.6" y="113.76" width="1.6" height="1.6"/><rect x="396.6" y="115.7" width="1.6" height="1.6"/></g>
<path d="M394.7 92.98h5.4" stroke="#d8403c" stroke-width="1.1"/>
<g fill="#111"><rect x="404.3" y="62.22" width="1.6" height="1.6"/><rect x="404.3" y="64.58" width="1.6" height="1.6"/><rect x="404.3" y="72.1" width="1.6" height="1.6"/><rect x="404.3" y="77.53" width="1.6" height="1.6"/><rect x="404.3" y="79.59" width="1.6" height="1.6"/><rect x="402.6" y="80.74" width="1.6" height="1.6"/><rect x="404.3" y="81.96" width="1.6" height="1.6"/><rect x="404.3" y="83.85" width="1.6" height="1.6"/><rect x="402.6" y="85.24" width="1.6" height="1.6"/><rect x="404.3" y="86.19" width="1.6" height="1.6"/><rect x="402.6" y="87.71" width="1.6" height="1.6"/><rect x="404.3" y="88.86" width="1.6" height="1.6"/><rect x="402.6" y="90.54" width="1.6" height="1.6"/><rect x="404.3" y="91.45" width="1.6" height="1.6"/><rect x="406" y="92.13" width="1.6" height="1.6"/><rect x="402.6" y="93.04" width="1.6" height="1.6"/><rect x="404.3" y="94.26" width="1.6" height="1.6"/><rect x="402.6" y="95.37" width="1.6" height="1.6"/><rect x="404.3" y="96.26" width="1.6" height="1.6"/><rect x="406" y="96.97" width="1.6" height="1.6"/><rect x="404.3" y="98.31" width="1.6" height="1.6"/><rect x="402.6" y="99.16" width="1.6" height="1.6"/><rect x="404.3" y="100.2" width="1.6" height="1.6"/><rect x="406" y="100.71" width="1.6" height="1.6"/><rect x="402.6" y="101.73" width="1.6" height="1.6"/><rect x="404.3" y="102.55" width="1.6" height="1.6"/><rect x="402.6" y="103.92" width="1.6" height="1.6"/><rect x="404.3" y="104.63" width="1.6" height="1.6"/><rect x="406" y="105.49" width="1.6" height="1.6"/><rect x="404.3" y="106.56" width="1.6" height="1.6"/><rect x="402.6" y="107.63" width="1.6" height="1.6"/><rect x="404.3" y="108.35" width="1.6" height="1.6"/><rect x="406" y="109.22" width="1.6" height="1.6"/><rect x="404.3" y="110.4" width="1.6" height="1.6"/><rect x="402.6" y="111.28" width="1.6" height="1.6"/><rect x="404.3" y="113.34" width="1.6" height="1.6"/><rect x="404.3" y="115.15" width="1.6" height="1.6"/><rect x="402.6" y="116.72" width="1.6" height="1.6"/><rect x="404.3" y="118.27" width="1.6" height="1.6"/><rect x="404.3" y="120.04" width="1.6" height="1.6"/><rect x="404.3" y="121.99" width="1.6" height="1.6"/><rect x="402.6" y="123.09" width="1.6" height="1.6"/><rect x="404.3" y="124.65" width="1.6" height="1.6"/><rect x="404.3" y="128.29" width="1.6" height="1.6"/><rect x="404.3" y="135.95" width="1.6" height="1.6"/><rect x="404.3" y="139.21" width="1.6" height="1.6"/></g>
<path d="M402.4 101.28h5.4" stroke="#d8403c" stroke-width="1.1"/>
<g fill="#111"><rect x="412" y="53" width="1.6" height="1.6"/><rect x="412" y="55.47" width="1.6" height="1.6"/><rect x="412" y="61.01" width="1.6" height="1.6"/><rect x="412" y="65.82" width="1.6" height="1.6"/><rect x="410.3" y="67.31" width="1.6" height="1.6"/><rect x="412" y="68.09" width="1.6" height="1.6"/><rect x="410.3" y="69.45" width="1.6" height="1.6"/><rect x="412" y="70.74" width="1.6" height="1.6"/><rect x="410.3" y="71.99" width="1.6" height="1.6"/><rect x="412" y="72.9" width="1.6" height="1.6"/><rect x="410.3" y="74.29" width="1.6" height="1.6"/><rect x="412" y="75.5" width="1.6" height="1.6"/><rect x="410.3" y="76.65" width="1.6" height="1.6"/><rect x="412" y="79.13" width="1.6" height="1.6"/><rect x="410.3" y="80.14" width="1.6" height="1.6"/><rect x="412" y="82.38" width="1.6" height="1.6"/><rect x="412" y="84.45" width="1.6" height="1.6"/><rect x="410.3" y="85.91" width="1.6" height="1.6"/><rect x="412" y="87.54" width="1.6" height="1.6"/><rect x="412" y="90.03" width="1.6" height="1.6"/><rect x="410.3" y="91.61" width="1.6" height="1.6"/><rect x="412" y="93.63" width="1.6" height="1.6"/><rect x="410.3" y="95.12" width="1.6" height="1.6"/><rect x="412" y="96.35" width="1.6" height="1.6"/><rect x="410.3" y="96.94" width="1.6" height="1.6"/><rect x="413.7" y="97.73" width="1.6" height="1.6"/><rect x="412" y="98.27" width="1.6" height="1.6"/><rect x="410.3" y="99.15" width="1.6" height="1.6"/><rect x="413.7" y="99.86" width="1.6" height="1.6"/><rect x="412" y="100.62" width="1.6" height="1.6"/><rect x="410.3" y="101.39" width="1.6" height="1.6"/><rect x="413.7" y="102.06" width="1.6" height="1.6"/><rect x="412" y="102.79" width="1.6" height="1.6"/><rect x="410.3" y="103.45" width="1.6" height="1.6"/><rect x="413.7" y="104.11" width="1.6" height="1.6"/><rect x="412" y="105.11" width="1.6" height="1.6"/><rect x="410.3" y="105.87" width="1.6" height="1.6"/><rect x="413.7" y="106.41" width="1.6" height="1.6"/><rect x="412" y="107.39" width="1.6" height="1.6"/><rect x="410.3" y="108.31" width="1.6" height="1.6"/><rect x="413.7" y="109.08" width="1.6" height="1.6"/><rect x="412" y="109.73" width="1.6" height="1.6"/><rect x="410.3" y="110.9" width="1.6" height="1.6"/><rect x="412" y="111.57" width="1.6" height="1.6"/><rect x="412" y="116.55" width="1.6" height="1.6"/><rect x="410.3" y="117.54" width="1.6" height="1.6"/></g>
<path d="M410.1 96.67h5.4" stroke="#d8403c" stroke-width="1.1"/>
<g fill="#111"><rect x="419.7" y="57.61" width="1.6" height="1.6"/><rect x="419.7" y="59.53" width="1.6" height="1.6"/><rect x="419.7" y="63.92" width="1.6" height="1.6"/><rect x="419.7" y="68.02" width="1.6" height="1.6"/><rect x="418" y="68.94" width="1.6" height="1.6"/><rect x="419.7" y="70.05" width="1.6" height="1.6"/><rect x="418" y="70.96" width="1.6" height="1.6"/><rect x="419.7" y="72.04" width="1.6" height="1.6"/><rect x="418" y="72.98" width="1.6" height="1.6"/><rect x="421.4" y="73.74" width="1.6" height="1.6"/><rect x="419.7" y="74.84" width="1.6" height="1.6"/><rect x="418" y="75.7" width="1.6" height="1.6"/><rect x="419.7" y="77.07" width="1.6" height="1.6"/><rect x="418" y="78.06" width="1.6" height="1.6"/><rect x="419.7" y="79.61" width="1.6" height="1.6"/><rect x="418" y="80.74" width="1.6" height="1.6"/><rect x="419.7" y="82.1" width="1.6" height="1.6"/><rect x="418" y="83.51" width="1.6" height="1.6"/><rect x="419.7" y="85.12" width="1.6" height="1.6"/><rect x="418" y="86.21" width="1.6" height="1.6"/><rect x="419.7" y="87.58" width="1.6" height="1.6"/><rect x="418" y="88.46" width="1.6" height="1.6"/><rect x="419.7" y="90.31" width="1.6" height="1.6"/><rect x="418" y="91.26" width="1.6" height="1.6"/><rect x="421.4" y="92.01" width="1.6" height="1.6"/><rect x="419.7" y="92.98" width="1.6" height="1.6"/><rect x="418" y="94.3" width="1.6" height="1.6"/><rect x="419.7" y="95.17" width="1.6" height="1.6"/><rect x="418" y="96.28" width="1.6" height="1.6"/><rect x="419.7" y="97.09" width="1.6" height="1.6"/><rect x="418" y="98.14" width="1.6" height="1.6"/><rect x="419.7" y="99.13" width="1.6" height="1.6"/><rect x="418" y="100.07" width="1.6" height="1.6"/><rect x="419.7" y="100.84" width="1.6" height="1.6"/><rect x="421.4" y="101.7" width="1.6" height="1.6"/><rect x="419.7" y="102.67" width="1.6" height="1.6"/><rect x="418" y="104.02" width="1.6" height="1.6"/><rect x="419.7" y="104.94" width="1.6" height="1.6"/><rect x="418" y="105.85" width="1.6" height="1.6"/><rect x="421.4" y="106.57" width="1.6" height="1.6"/><rect x="419.7" y="107.87" width="1.6" height="1.6"/><rect x="418" y="108.8" width="1.6" height="1.6"/><rect x="419.7" y="109.79" width="1.6" height="1.6"/><rect x="419.7" y="111.68" width="1.6" height="1.6"/><rect x="419.7" y="115.68" width="1.6" height="1.6"/><rect x="419.7" y="117.54" width="1.6" height="1.6"/></g>
<path d="M417.8 91.6h5.4" stroke="#d8403c" stroke-width="1.1"/>
<g fill="#111"><rect x="427.4" y="5.06" width="1.6" height="1.6"/><rect x="427.4" y="15.16" width="1.6" height="1.6"/><rect x="427.4" y="27.08" width="1.6" height="1.6"/><rect x="427.4" y="42.03" width="1.6" height="1.6"/><rect x="427.4" y="44.28" width="1.6" height="1.6"/><rect x="427.4" y="47.78" width="1.6" height="1.6"/><rect x="427.4" y="51.11" width="1.6" height="1.6"/><rect x="427.4" y="53.96" width="1.6" height="1.6"/><rect x="427.4" y="57.15" width="1.6" height="1.6"/><rect x="427.4" y="61.8" width="1.6" height="1.6"/><rect x="427.4" y="64.24" width="1.6" height="1.6"/><rect x="427.4" y="67.18" width="1.6" height="1.6"/><rect x="427.4" y="69.79" width="1.6" height="1.6"/><rect x="425.7" y="71.3" width="1.6" height="1.6"/><rect x="427.4" y="72.86" width="1.6" height="1.6"/><rect x="425.7" y="74.15" width="1.6" height="1.6"/><rect x="427.4" y="76.24" width="1.6" height="1.6"/><rect x="425.7" y="77.54" width="1.6" height="1.6"/><rect x="427.4" y="79.23" width="1.6" height="1.6"/><rect x="425.7" y="80.82" width="1.6" height="1.6"/><rect x="427.4" y="82.17" width="1.6" height="1.6"/><rect x="425.7" y="83.31" width="1.6" height="1.6"/><rect x="427.4" y="84.83" width="1.6" height="1.6"/><rect x="425.7" y="85.96" width="1.6" height="1.6"/><rect x="427.4" y="86.89" width="1.6" height="1.6"/><rect x="429.1" y="87.58" width="1.6" height="1.6"/><rect x="425.7" y="88.39" width="1.6" height="1.6"/><rect x="427.4" y="89.17" width="1.6" height="1.6"/><rect x="425.7" y="90.11" width="1.6" height="1.6"/><rect x="427.4" y="90.9" width="1.6" height="1.6"/><rect x="425.7" y="91.85" width="1.6" height="1.6"/><rect x="429.1" y="92.37" width="1.6" height="1.6"/><rect x="427.4" y="93.2" width="1.6" height="1.6"/><rect x="425.7" y="94.04" width="1.6" height="1.6"/><rect x="429.1" y="94.86" width="1.6" height="1.6"/><rect x="427.4" y="96.16" width="1.6" height="1.6"/><rect x="427.4" y="97.95" width="1.6" height="1.6"/><rect x="425.7" y="98.81" width="1.6" height="1.6"/><rect x="427.4" y="100.02" width="1.6" height="1.6"/><rect x="425.7" y="101.67" width="1.6" height="1.6"/><rect x="427.4" y="102.37" width="1.6" height="1.6"/><rect x="427.4" y="104.07" width="1.6" height="1.6"/><rect x="425.7" y="105.29" width="1.6" height="1.6"/><rect x="427.4" y="106.48" width="1.6" height="1.6"/><rect x="427.4" y="112.37" width="1.6" height="1.6"/><rect x="427.4" y="115.7" width="1.6" height="1.6"/></g>
<path d="M425.5 86.53h5.4" stroke="#d8403c" stroke-width="1.1"/>
<g fill="#aaaaaa"><rect x="438.8" y="94.59" width="1.4" height="1.4"/><rect x="437.1" y="96.06" width="1.4" height="1.4"/><rect x="438.8" y="99.92" width="1.4" height="1.4"/><rect x="438.8" y="101.73" width="1.4" height="1.4"/><rect x="437.1" y="102.65" width="1.4" height="1.4"/><rect x="440.5" y="103.29" width="1.4" height="1.4"/><rect x="438.8" y="103.89" width="1.4" height="1.4"/><rect x="437.1" y="104.36" width="1.4" height="1.4"/><rect x="440.5" y="105.08" width="1.4" height="1.4"/><rect x="438.8" y="105.86" width="1.4" height="1.4"/><rect x="437.1" y="106.68" width="1.4" height="1.4"/><rect x="440.5" y="107.02" width="1.4" height="1.4"/><rect x="438.8" y="107.63" width="1.4" height="1.4"/><rect x="437.1" y="108.4" width="1.4" height="1.4"/><rect x="440.5" y="108.75" width="1.4" height="1.4"/><rect x="438.8" y="109.51" width="1.4" height="1.4"/><rect x="435.4" y="109.96" width="1.4" height="1.4"/><rect x="437.1" y="110.5" width="1.4" height="1.4"/><rect x="440.5" y="111.03" width="1.4" height="1.4"/><rect x="438.8" y="111.64" width="1.4" height="1.4"/><rect x="435.4" y="112.08" width="1.4" height="1.4"/><rect x="437.1" y="112.62" width="1.4" height="1.4"/><rect x="440.5" y="113.17" width="1.4" height="1.4"/><rect x="438.8" y="114.25" width="1.4" height="1.4"/><rect x="437.1" y="115.6" width="1.4" height="1.4"/><rect x="438.8" y="116.84" width="1.4" height="1.4"/><rect x="437.1" y="117.7" width="1.4" height="1.4"/><rect x="438.8" y="119.09" width="1.4" height="1.4"/><rect x="437.1" y="120.02" width="1.4" height="1.4"/><rect x="438.8" y="121.55" width="1.4" height="1.4"/><rect x="437.1" y="122.83" width="1.4" height="1.4"/><rect x="438.8" y="124.09" width="1.4" height="1.4"/><rect x="437.1" y="124.95" width="1.4" height="1.4"/><rect x="438.8" y="126.18" width="1.4" height="1.4"/><rect x="437.1" y="127.15" width="1.4" height="1.4"/><rect x="438.8" y="127.98" width="1.4" height="1.4"/><rect x="437.1" y="128.86" width="1.4" height="1.4"/><rect x="438.8" y="129.69" width="1.4" height="1.4"/><rect x="440.5" y="130.44" width="1.4" height="1.4"/><rect x="437.1" y="131.04" width="1.4" height="1.4"/><rect x="438.8" y="131.93" width="1.4" height="1.4"/><rect x="437.1" y="132.95" width="1.4" height="1.4"/><rect x="440.5" y="133.53" width="1.4" height="1.4"/><rect x="438.8" y="135.52" width="1.4" height="1.4"/><rect x="438.8" y="139.29" width="1.4" height="1.4"/><rect x="437.1" y="140.23" width="1.4" height="1.4"/></g>
<path d="M436.8 114.19h5.4" stroke="#d8403c" stroke-width="1.1"/>
<g fill="#aaaaaa"><rect x="446.35" y="71.08" width="1.4" height="1.4"/><rect x="446.35" y="74.98" width="1.4" height="1.4"/><rect x="446.35" y="79.86" width="1.4" height="1.4"/><rect x="446.35" y="84.52" width="1.4" height="1.4"/><rect x="444.65" y="85.73" width="1.4" height="1.4"/><rect x="446.35" y="86.5" width="1.4" height="1.4"/><rect x="444.65" y="88.11" width="1.4" height="1.4"/><rect x="446.35" y="88.97" width="1.4" height="1.4"/><rect x="444.65" y="90.63" width="1.4" height="1.4"/><rect x="446.35" y="91.87" width="1.4" height="1.4"/><rect x="444.65" y="92.93" width="1.4" height="1.4"/><rect x="446.35" y="94.03" width="1.4" height="1.4"/><rect x="444.65" y="94.97" width="1.4" height="1.4"/><rect x="448.05" y="95.56" width="1.4" height="1.4"/><rect x="446.35" y="96.09" width="1.4" height="1.4"/><rect x="444.65" y="96.97" width="1.4" height="1.4"/><rect x="448.05" y="97.65" width="1.4" height="1.4"/><rect x="446.35" y="98.35" width="1.4" height="1.4"/><rect x="444.65" y="98.81" width="1.4" height="1.4"/><rect x="448.05" y="99.54" width="1.4" height="1.4"/><rect x="446.35" y="100.14" width="1.4" height="1.4"/><rect x="444.65" y="101.09" width="1.4" height="1.4"/><rect x="448.05" y="101.51" width="1.4" height="1.4"/><rect x="446.35" y="102.49" width="1.4" height="1.4"/><rect x="446.35" y="104.48" width="1.4" height="1.4"/><rect x="444.65" y="105.27" width="1.4" height="1.4"/><rect x="446.35" y="107.09" width="1.4" height="1.4"/><rect x="444.65" y="108.5" width="1.4" height="1.4"/><rect x="446.35" y="110.07" width="1.4" height="1.4"/><rect x="444.65" y="111.38" width="1.4" height="1.4"/><rect x="446.35" y="112.69" width="1.4" height="1.4"/><rect x="444.65" y="114.08" width="1.4" height="1.4"/><rect x="446.35" y="115.88" width="1.4" height="1.4"/><rect x="444.65" y="117.29" width="1.4" height="1.4"/><rect x="446.35" y="118.25" width="1.4" height="1.4"/><rect x="444.65" y="119.2" width="1.4" height="1.4"/><rect x="446.35" y="120.83" width="1.4" height="1.4"/><rect x="444.65" y="121.74" width="1.4" height="1.4"/><rect x="446.35" y="122.83" width="1.4" height="1.4"/><rect x="444.65" y="124.28" width="1.4" height="1.4"/><rect x="446.35" y="125.28" width="1.4" height="1.4"/><rect x="444.65" y="126.93" width="1.4" height="1.4"/><rect x="446.35" y="127.61" width="1.4" height="1.4"/><rect x="446.35" y="130.08" width="1.4" height="1.4"/><rect x="446.35" y="136.31" width="1.4" height="1.4"/><rect x="444.65" y="137.92" width="1.4" height="1.4"/></g>
<path d="M444.35 102.67h5.4" stroke="#d8403c" stroke-width="1.1"/>
<g fill="#aaaaaa"><rect x="453.9" y="80.76" width="1.4" height="1.4"/><rect x="453.9" y="83.65" width="1.4" height="1.4"/><rect x="453.9" y="88.31" width="1.4" height="1.4"/><rect x="453.9" y="91.39" width="1.4" height="1.4"/><rect x="452.2" y="92.21" width="1.4" height="1.4"/><rect x="453.9" y="93.27" width="1.4" height="1.4"/><rect x="452.2" y="94.17" width="1.4" height="1.4"/><rect x="453.9" y="95.14" width="1.4" height="1.4"/><rect x="452.2" y="95.92" width="1.4" height="1.4"/><rect x="455.6" y="96.6" width="1.4" height="1.4"/><rect x="453.9" y="97.58" width="1.4" height="1.4"/><rect x="452.2" y="98.87" width="1.4" height="1.4"/><rect x="453.9" y="99.58" width="1.4" height="1.4"/><rect x="455.6" y="100.17" width="1.4" height="1.4"/><rect x="452.2" y="101.2" width="1.4" height="1.4"/><rect x="453.9" y="101.98" width="1.4" height="1.4"/><rect x="455.6" y="102.73" width="1.4" height="1.4"/><rect x="452.2" y="103.39" width="1.4" height="1.4"/><rect x="453.9" y="104.08" width="1.4" height="1.4"/><rect x="455.6" y="104.94" width="1.4" height="1.4"/><rect x="452.2" y="105.55" width="1.4" height="1.4"/><rect x="453.9" y="106.46" width="1.4" height="1.4"/><rect x="455.6" y="106.93" width="1.4" height="1.4"/><rect x="452.2" y="107.92" width="1.4" height="1.4"/><rect x="453.9" y="109.32" width="1.4" height="1.4"/><rect x="452.2" y="110.42" width="1.4" height="1.4"/><rect x="453.9" y="111.48" width="1.4" height="1.4"/><rect x="452.2" y="112.81" width="1.4" height="1.4"/><rect x="453.9" y="113.47" width="1.4" height="1.4"/><rect x="452.2" y="115.12" width="1.4" height="1.4"/><rect x="453.9" y="116.11" width="1.4" height="1.4"/><rect x="452.2" y="117.03" width="1.4" height="1.4"/><rect x="453.9" y="118.1" width="1.4" height="1.4"/><rect x="452.2" y="119.41" width="1.4" height="1.4"/><rect x="453.9" y="120.35" width="1.4" height="1.4"/><rect x="452.2" y="121.8" width="1.4" height="1.4"/><rect x="453.9" y="122.5" width="1.4" height="1.4"/><rect x="452.2" y="123.66" width="1.4" height="1.4"/><rect x="453.9" y="124.51" width="1.4" height="1.4"/><rect x="452.2" y="125.6" width="1.4" height="1.4"/><rect x="453.9" y="126.83" width="1.4" height="1.4"/><rect x="452.2" y="127.8" width="1.4" height="1.4"/><rect x="453.9" y="128.82" width="1.4" height="1.4"/><rect x="452.2" y="129.92" width="1.4" height="1.4"/><rect x="453.9" y="135.93" width="1.4" height="1.4"/><rect x="453.9" y="137.92" width="1.4" height="1.4"/></g>
<path d="M451.9 108.2h5.4" stroke="#d8403c" stroke-width="1.1"/>
<g fill="#aaaaaa"><rect x="461.45" y="42.5" width="1.4" height="1.4"/><rect x="461.45" y="46.57" width="1.4" height="1.4"/><rect x="461.45" y="58.56" width="1.4" height="1.4"/><rect x="461.45" y="67.77" width="1.4" height="1.4"/><rect x="461.45" y="69.81" width="1.4" height="1.4"/><rect x="461.45" y="72.44" width="1.4" height="1.4"/><rect x="461.45" y="74.94" width="1.4" height="1.4"/><rect x="461.45" y="77.7" width="1.4" height="1.4"/><rect x="461.45" y="80.07" width="1.4" height="1.4"/><rect x="461.45" y="82.21" width="1.4" height="1.4"/><rect x="459.75" y="83.63" width="1.4" height="1.4"/><rect x="461.45" y="86.09" width="1.4" height="1.4"/><rect x="461.45" y="88.06" width="1.4" height="1.4"/><rect x="459.75" y="89.17" width="1.4" height="1.4"/><rect x="461.45" y="90.68" width="1.4" height="1.4"/><rect x="459.75" y="92.09" width="1.4" height="1.4"/><rect x="461.45" y="92.9" width="1.4" height="1.4"/><rect x="459.75" y="94.15" width="1.4" height="1.4"/><rect x="461.45" y="95.06" width="1.4" height="1.4"/><rect x="459.75" y="96.35" width="1.4" height="1.4"/><rect x="461.45" y="97.94" width="1.4" height="1.4"/><rect x="459.75" y="99.12" width="1.4" height="1.4"/><rect x="461.45" y="99.77" width="1.4" height="1.4"/><rect x="459.75" y="100.87" width="1.4" height="1.4"/><rect x="461.45" y="101.75" width="1.4" height="1.4"/><rect x="459.75" y="102.91" width="1.4" height="1.4"/><rect x="461.45" y="103.86" width="1.4" height="1.4"/><rect x="459.75" y="104.85" width="1.4" height="1.4"/><rect x="461.45" y="105.77" width="1.4" height="1.4"/><rect x="459.75" y="106.71" width="1.4" height="1.4"/><rect x="463.15" y="107.32" width="1.4" height="1.4"/><rect x="461.45" y="108.36" width="1.4" height="1.4"/><rect x="459.75" y="109.34" width="1.4" height="1.4"/><rect x="461.45" y="110.45" width="1.4" height="1.4"/><rect x="463.15" y="110.98" width="1.4" height="1.4"/><rect x="461.45" y="112.37" width="1.4" height="1.4"/><rect x="459.75" y="113.5" width="1.4" height="1.4"/><rect x="461.45" y="114.37" width="1.4" height="1.4"/><rect x="459.75" y="115.36" width="1.4" height="1.4"/><rect x="461.45" y="116.3" width="1.4" height="1.4"/><rect x="459.75" y="117.37" width="1.4" height="1.4"/><rect x="461.45" y="118.39" width="1.4" height="1.4"/><rect x="459.75" y="119.22" width="1.4" height="1.4"/><rect x="461.45" y="120.35" width="1.4" height="1.4"/><rect x="461.45" y="125.44" width="1.4" height="1.4"/><rect x="461.45" y="127.78" width="1.4" height="1.4"/></g>
<path d="M459.45 101.28h5.4" stroke="#d8403c" stroke-width="1.1"/>
<g fill="#aaaaaa"><rect x="469" y="15.3" width="1.4" height="1.4"/><rect x="469" y="24.19" width="1.4" height="1.4"/><rect x="469" y="34.22" width="1.4" height="1.4"/><rect x="469" y="45.91" width="1.4" height="1.4"/><rect x="469" y="48.78" width="1.4" height="1.4"/><rect x="469" y="51.99" width="1.4" height="1.4"/><rect x="469" y="54.46" width="1.4" height="1.4"/><rect x="469" y="56.2" width="1.4" height="1.4"/><rect x="469" y="59.34" width="1.4" height="1.4"/><rect x="469" y="62.69" width="1.4" height="1.4"/><rect x="469" y="65.21" width="1.4" height="1.4"/><rect x="469" y="67.6" width="1.4" height="1.4"/><rect x="469" y="70.22" width="1.4" height="1.4"/><rect x="469" y="72.69" width="1.4" height="1.4"/><rect x="467.3" y="74.36" width="1.4" height="1.4"/><rect x="469" y="75.92" width="1.4" height="1.4"/><rect x="469" y="77.62" width="1.4" height="1.4"/><rect x="469" y="80.33" width="1.4" height="1.4"/><rect x="469" y="82.31" width="1.4" height="1.4"/><rect x="469" y="84.03" width="1.4" height="1.4"/><rect x="467.3" y="85.58" width="1.4" height="1.4"/><rect x="469" y="87.8" width="1.4" height="1.4"/><rect x="467.3" y="89.44" width="1.4" height="1.4"/><rect x="469" y="91.51" width="1.4" height="1.4"/><rect x="467.3" y="92.79" width="1.4" height="1.4"/><rect x="469" y="94.14" width="1.4" height="1.4"/><rect x="467.3" y="94.95" width="1.4" height="1.4"/><rect x="469" y="96.35" width="1.4" height="1.4"/><rect x="467.3" y="97.43" width="1.4" height="1.4"/><rect x="469" y="98.48" width="1.4" height="1.4"/><rect x="467.3" y="99.69" width="1.4" height="1.4"/><rect x="469" y="101.14" width="1.4" height="1.4"/><rect x="467.3" y="102.29" width="1.4" height="1.4"/><rect x="469" y="103.1" width="1.4" height="1.4"/><rect x="467.3" y="104.42" width="1.4" height="1.4"/><rect x="469" y="106.14" width="1.4" height="1.4"/><rect x="467.3" y="107.66" width="1.4" height="1.4"/><rect x="469" y="108.95" width="1.4" height="1.4"/><rect x="467.3" y="110.12" width="1.4" height="1.4"/><rect x="469" y="111.34" width="1.4" height="1.4"/><rect x="469" y="113.29" width="1.4" height="1.4"/><rect x="467.3" y="114.3" width="1.4" height="1.4"/><rect x="469" y="116.29" width="1.4" height="1.4"/><rect x="469" y="118.42" width="1.4" height="1.4"/><rect x="469" y="124.86" width="1.4" height="1.4"/><rect x="469" y="127.78" width="1.4" height="1.4"/></g>
<path d="M467 91.6h5.4" stroke="#d8403c" stroke-width="1.1"/>
<g fill="#aaaaaa"><rect x="476.55" y="57.71" width="1.4" height="1.4"/><rect x="476.55" y="61.38" width="1.4" height="1.4"/><rect x="476.55" y="67.96" width="1.4" height="1.4"/><rect x="476.55" y="72.38" width="1.4" height="1.4"/><rect x="474.85" y="73.57" width="1.4" height="1.4"/><rect x="476.55" y="74.75" width="1.4" height="1.4"/><rect x="474.85" y="76.02" width="1.4" height="1.4"/><rect x="476.55" y="77.31" width="1.4" height="1.4"/><rect x="474.85" y="78.41" width="1.4" height="1.4"/><rect x="476.55" y="80.14" width="1.4" height="1.4"/><rect x="474.85" y="80.95" width="1.4" height="1.4"/><rect x="476.55" y="82.12" width="1.4" height="1.4"/><rect x="474.85" y="83.65" width="1.4" height="1.4"/><rect x="476.55" y="84.46" width="1.4" height="1.4"/><rect x="478.25" y="85.06" width="1.4" height="1.4"/><rect x="474.85" y="85.91" width="1.4" height="1.4"/><rect x="476.55" y="86.92" width="1.4" height="1.4"/><rect x="474.85" y="87.73" width="1.4" height="1.4"/><rect x="478.25" y="88.6" width="1.4" height="1.4"/><rect x="476.55" y="89.72" width="1.4" height="1.4"/><rect x="474.85" y="90.75" width="1.4" height="1.4"/><rect x="476.55" y="91.63" width="1.4" height="1.4"/><rect x="474.85" y="92.47" width="1.4" height="1.4"/><rect x="478.25" y="92.89" width="1.4" height="1.4"/><rect x="476.55" y="93.72" width="1.4" height="1.4"/><rect x="474.85" y="94.25" width="1.4" height="1.4"/><rect x="478.25" y="94.91" width="1.4" height="1.4"/><rect x="473.15" y="95.25" width="1.4" height="1.4"/><rect x="476.55" y="95.92" width="1.4" height="1.4"/><rect x="474.85" y="96.59" width="1.4" height="1.4"/><rect x="478.25" y="97.23" width="1.4" height="1.4"/><rect x="476.55" y="97.83" width="1.4" height="1.4"/><rect x="474.85" y="98.32" width="1.4" height="1.4"/><rect x="473.15" y="98.77" width="1.4" height="1.4"/><rect x="476.55" y="99.53" width="1.4" height="1.4"/><rect x="478.25" y="99.95" width="1.4" height="1.4"/><rect x="474.85" y="100.65" width="1.4" height="1.4"/><rect x="473.15" y="101.2" width="1.4" height="1.4"/><rect x="476.55" y="101.58" width="1.4" height="1.4"/><rect x="478.25" y="102.27" width="1.4" height="1.4"/><rect x="474.85" y="102.63" width="1.4" height="1.4"/><rect x="476.55" y="103.4" width="1.4" height="1.4"/><rect x="473.15" y="103.86" width="1.4" height="1.4"/><rect x="474.85" y="104.59" width="1.4" height="1.4"/><rect x="476.55" y="106.87" width="1.4" height="1.4"/><rect x="474.85" y="108.42" width="1.4" height="1.4"/></g>
<path d="M474.55 93.45h5.4" stroke="#d8403c" stroke-width="1.1"/>
<g fill="#aaaaaa"><rect x="484.1" y="66.93" width="1.4" height="1.4"/><rect x="482.4" y="68.28" width="1.4" height="1.4"/><rect x="484.1" y="73.46" width="1.4" height="1.4"/><rect x="484.1" y="78.67" width="1.4" height="1.4"/><rect x="482.4" y="79.87" width="1.4" height="1.4"/><rect x="484.1" y="81.05" width="1.4" height="1.4"/><rect x="482.4" y="81.59" width="1.4" height="1.4"/><rect x="484.1" y="82.83" width="1.4" height="1.4"/><rect x="482.4" y="83.73" width="1.4" height="1.4"/><rect x="484.1" y="84.88" width="1.4" height="1.4"/><rect x="482.4" y="86.36" width="1.4" height="1.4"/><rect x="484.1" y="87.27" width="1.4" height="1.4"/><rect x="482.4" y="88.23" width="1.4" height="1.4"/><rect x="485.8" y="88.95" width="1.4" height="1.4"/><rect x="484.1" y="90.1" width="1.4" height="1.4"/><rect x="482.4" y="90.85" width="1.4" height="1.4"/><rect x="485.8" y="91.6" width="1.4" height="1.4"/><rect x="484.1" y="92.86" width="1.4" height="1.4"/><rect x="482.4" y="93.75" width="1.4" height="1.4"/><rect x="485.8" y="94.4" width="1.4" height="1.4"/><rect x="484.1" y="95.39" width="1.4" height="1.4"/><rect x="482.4" y="96.55" width="1.4" height="1.4"/><rect x="484.1" y="97.15" width="1.4" height="1.4"/><rect x="482.4" y="98.37" width="1.4" height="1.4"/><rect x="484.1" y="99.13" width="1.4" height="1.4"/><rect x="485.8" y="99.89" width="1.4" height="1.4"/><rect x="482.4" y="100.35" width="1.4" height="1.4"/><rect x="484.1" y="101.09" width="1.4" height="1.4"/><rect x="485.8" y="102" width="1.4" height="1.4"/><rect x="484.1" y="102.91" width="1.4" height="1.4"/><rect x="482.4" y="103.32" width="1.4" height="1.4"/><rect x="485.8" y="104.28" width="1.4" height="1.4"/><rect x="484.1" y="105.11" width="1.4" height="1.4"/><rect x="482.4" y="105.57" width="1.4" height="1.4"/><rect x="485.8" y="106.44" width="1.4" height="1.4"/><rect x="484.1" y="106.99" width="1.4" height="1.4"/><rect x="482.4" y="107.69" width="1.4" height="1.4"/><rect x="485.8" y="108.15" width="1.4" height="1.4"/><rect x="480.7" y="108.61" width="1.4" height="1.4"/><rect x="484.1" y="109.19" width="1.4" height="1.4"/><rect x="482.4" y="109.9" width="1.4" height="1.4"/><rect x="485.8" y="110.53" width="1.4" height="1.4"/><rect x="480.7" y="110.87" width="1.4" height="1.4"/><rect x="484.1" y="112.57" width="1.4" height="1.4"/><rect x="482.4" y="113.96" width="1.4" height="1.4"/><rect x="484.1" y="115.8" width="1.4" height="1.4"/></g>
<path d="M482.1 98.52h5.4" stroke="#d8403c" stroke-width="1.1"/>
<g fill="#aaaaaa"><rect x="491.65" y="24.06" width="1.4" height="1.4"/><rect x="491.65" y="30.79" width="1.4" height="1.4"/><rect x="491.65" y="41.44" width="1.4" height="1.4"/><rect x="491.65" y="51.17" width="1.4" height="1.4"/><rect x="491.65" y="52.89" width="1.4" height="1.4"/><rect x="491.65" y="56.24" width="1.4" height="1.4"/><rect x="491.65" y="57.97" width="1.4" height="1.4"/><rect x="491.65" y="60.17" width="1.4" height="1.4"/><rect x="491.65" y="62.72" width="1.4" height="1.4"/><rect x="491.65" y="65.25" width="1.4" height="1.4"/><rect x="491.65" y="67.74" width="1.4" height="1.4"/><rect x="491.65" y="70.43" width="1.4" height="1.4"/><rect x="491.65" y="72.75" width="1.4" height="1.4"/><rect x="489.95" y="74.42" width="1.4" height="1.4"/><rect x="491.65" y="76.05" width="1.4" height="1.4"/><rect x="491.65" y="78.14" width="1.4" height="1.4"/><rect x="491.65" y="80.43" width="1.4" height="1.4"/><rect x="491.65" y="82.33" width="1.4" height="1.4"/><rect x="491.65" y="84.03" width="1.4" height="1.4"/><rect x="489.95" y="85.2" width="1.4" height="1.4"/><rect x="491.65" y="87.19" width="1.4" height="1.4"/><rect x="491.65" y="88.98" width="1.4" height="1.4"/><rect x="491.65" y="91.52" width="1.4" height="1.4"/><rect x="489.95" y="92.78" width="1.4" height="1.4"/><rect x="491.65" y="94.11" width="1.4" height="1.4"/><rect x="489.95" y="95.15" width="1.4" height="1.4"/><rect x="491.65" y="96.09" width="1.4" height="1.4"/><rect x="489.95" y="96.86" width="1.4" height="1.4"/><rect x="491.65" y="98.21" width="1.4" height="1.4"/><rect x="489.95" y="99.33" width="1.4" height="1.4"/><rect x="491.65" y="99.99" width="1.4" height="1.4"/><rect x="489.95" y="101.27" width="1.4" height="1.4"/><rect x="491.65" y="102.34" width="1.4" height="1.4"/><rect x="489.95" y="103.38" width="1.4" height="1.4"/><rect x="491.65" y="104.52" width="1.4" height="1.4"/><rect x="489.95" y="105.97" width="1.4" height="1.4"/><rect x="491.65" y="107.52" width="1.4" height="1.4"/><rect x="489.95" y="109.18" width="1.4" height="1.4"/><rect x="491.65" y="110.72" width="1.4" height="1.4"/><rect x="491.65" y="112.83" width="1.4" height="1.4"/><rect x="489.95" y="113.8" width="1.4" height="1.4"/><rect x="491.65" y="115.75" width="1.4" height="1.4"/><rect x="489.95" y="117.4" width="1.4" height="1.4"/><rect x="491.65" y="121.19" width="1.4" height="1.4"/><rect x="491.65" y="127.54" width="1.4" height="1.4"/><rect x="491.65" y="130.55" width="1.4" height="1.4"/></g>
<path d="M489.65 92.98h5.4" stroke="#d8403c" stroke-width="1.1"/>
<g fill="#aaaaaa"><rect x="499.2" y="53.1" width="1.4" height="1.4"/><rect x="499.2" y="56.88" width="1.4" height="1.4"/><rect x="499.2" y="61.28" width="1.4" height="1.4"/><rect x="499.2" y="66.07" width="1.4" height="1.4"/><rect x="497.5" y="67.46" width="1.4" height="1.4"/><rect x="499.2" y="68.67" width="1.4" height="1.4"/><rect x="497.5" y="69.89" width="1.4" height="1.4"/><rect x="499.2" y="70.93" width="1.4" height="1.4"/><rect x="497.5" y="72.2" width="1.4" height="1.4"/><rect x="499.2" y="73.13" width="1.4" height="1.4"/><rect x="497.5" y="74.32" width="1.4" height="1.4"/><rect x="499.2" y="75.81" width="1.4" height="1.4"/><rect x="497.5" y="76.49" width="1.4" height="1.4"/><rect x="499.2" y="77.91" width="1.4" height="1.4"/><rect x="497.5" y="79.56" width="1.4" height="1.4"/><rect x="499.2" y="80.73" width="1.4" height="1.4"/><rect x="497.5" y="81.75" width="1.4" height="1.4"/><rect x="499.2" y="83.38" width="1.4" height="1.4"/><rect x="497.5" y="84.3" width="1.4" height="1.4"/><rect x="499.2" y="85.84" width="1.4" height="1.4"/><rect x="497.5" y="86.87" width="1.4" height="1.4"/><rect x="499.2" y="88.71" width="1.4" height="1.4"/><rect x="497.5" y="90.05" width="1.4" height="1.4"/><rect x="499.2" y="91.05" width="1.4" height="1.4"/><rect x="497.5" y="92.19" width="1.4" height="1.4"/><rect x="500.9" y="92.74" width="1.4" height="1.4"/><rect x="499.2" y="93.78" width="1.4" height="1.4"/><rect x="497.5" y="94.8" width="1.4" height="1.4"/><rect x="499.2" y="95.99" width="1.4" height="1.4"/><rect x="497.5" y="97.19" width="1.4" height="1.4"/><rect x="499.2" y="97.72" width="1.4" height="1.4"/><rect x="497.5" y="98.91" width="1.4" height="1.4"/><rect x="499.2" y="99.83" width="1.4" height="1.4"/><rect x="497.5" y="101.14" width="1.4" height="1.4"/><rect x="499.2" y="101.78" width="1.4" height="1.4"/><rect x="500.9" y="102.19" width="1.4" height="1.4"/><rect x="497.5" y="102.91" width="1.4" height="1.4"/><rect x="495.8" y="103.48" width="1.4" height="1.4"/><rect x="499.2" y="103.95" width="1.4" height="1.4"/><rect x="500.9" y="104.41" width="1.4" height="1.4"/><rect x="497.5" y="105.17" width="1.4" height="1.4"/><rect x="499.2" y="105.69" width="1.4" height="1.4"/><rect x="500.9" y="106.24" width="1.4" height="1.4"/><rect x="499.2" y="107.56" width="1.4" height="1.4"/><rect x="497.5" y="109.25" width="1.4" height="1.4"/><rect x="499.2" y="110.72" width="1.4" height="1.4"/></g>
<path d="M497.2 91.14h5.4" stroke="#d8403c" stroke-width="1.1"/>
<g fill="#aaaaaa"><rect x="506.75" y="53.1" width="1.4" height="1.4"/><rect x="506.75" y="56.61" width="1.4" height="1.4"/><rect x="506.75" y="66.95" width="1.4" height="1.4"/><rect x="506.75" y="70.99" width="1.4" height="1.4"/><rect x="506.75" y="72.87" width="1.4" height="1.4"/><rect x="506.75" y="74.6" width="1.4" height="1.4"/><rect x="506.75" y="76.72" width="1.4" height="1.4"/><rect x="505.05" y="78.24" width="1.4" height="1.4"/><rect x="506.75" y="79.63" width="1.4" height="1.4"/><rect x="505.05" y="80.91" width="1.4" height="1.4"/><rect x="506.75" y="82.98" width="1.4" height="1.4"/><rect x="505.05" y="84.27" width="1.4" height="1.4"/><rect x="506.75" y="86" width="1.4" height="1.4"/><rect x="505.05" y="86.88" width="1.4" height="1.4"/><rect x="506.75" y="88.61" width="1.4" height="1.4"/><rect x="505.05" y="89.66" width="1.4" height="1.4"/><rect x="506.75" y="90.51" width="1.4" height="1.4"/><rect x="505.05" y="92.01" width="1.4" height="1.4"/><rect x="506.75" y="93.08" width="1.4" height="1.4"/><rect x="505.05" y="93.86" width="1.4" height="1.4"/><rect x="506.75" y="95.12" width="1.4" height="1.4"/><rect x="505.05" y="96.57" width="1.4" height="1.4"/><rect x="506.75" y="97.78" width="1.4" height="1.4"/><rect x="505.05" y="98.61" width="1.4" height="1.4"/><rect x="508.45" y="99.42" width="1.4" height="1.4"/><rect x="506.75" y="99.89" width="1.4" height="1.4"/><rect x="505.05" y="100.84" width="1.4" height="1.4"/><rect x="508.45" y="101.57" width="1.4" height="1.4"/><rect x="506.75" y="102.23" width="1.4" height="1.4"/><rect x="505.05" y="102.84" width="1.4" height="1.4"/><rect x="508.45" y="103.75" width="1.4" height="1.4"/><rect x="506.75" y="104.49" width="1.4" height="1.4"/><rect x="505.05" y="104.99" width="1.4" height="1.4"/><rect x="508.45" y="105.74" width="1.4" height="1.4"/><rect x="506.75" y="106.43" width="1.4" height="1.4"/><rect x="505.05" y="107.1" width="1.4" height="1.4"/><rect x="508.45" y="107.69" width="1.4" height="1.4"/><rect x="503.35" y="108.12" width="1.4" height="1.4"/><rect x="506.75" y="108.62" width="1.4" height="1.4"/><rect x="505.05" y="109.37" width="1.4" height="1.4"/><rect x="508.45" y="109.92" width="1.4" height="1.4"/><rect x="506.75" y="110.53" width="1.4" height="1.4"/><rect x="503.35" y="110.96" width="1.4" height="1.4"/><rect x="506.75" y="112.31" width="1.4" height="1.4"/><rect x="506.75" y="115.2" width="1.4" height="1.4"/><rect x="505.05" y="115.8" width="1.4" height="1.4"/></g>
<path d="M504.75 98.98h5.4" stroke="#d8403c" stroke-width="1.1"/>
<g fill="#aaaaaa"><rect x="514.3" y="8.84" width="1.4" height="1.4"/><rect x="514.3" y="15.72" width="1.4" height="1.4"/><rect x="514.3" y="29.86" width="1.4" height="1.4"/><rect x="514.3" y="42.28" width="1.4" height="1.4"/><rect x="514.3" y="44.12" width="1.4" height="1.4"/><rect x="514.3" y="48.35" width="1.4" height="1.4"/><rect x="514.3" y="50.19" width="1.4" height="1.4"/><rect x="514.3" y="53.47" width="1.4" height="1.4"/><rect x="514.3" y="57.25" width="1.4" height="1.4"/><rect x="512.6" y="58.88" width="1.4" height="1.4"/><rect x="514.3" y="62.12" width="1.4" height="1.4"/><rect x="514.3" y="65.84" width="1.4" height="1.4"/><rect x="514.3" y="67.98" width="1.4" height="1.4"/><rect x="512.6" y="69.29" width="1.4" height="1.4"/><rect x="514.3" y="70.69" width="1.4" height="1.4"/><rect x="512.6" y="72.29" width="1.4" height="1.4"/><rect x="514.3" y="73.94" width="1.4" height="1.4"/><rect x="512.6" y="75.48" width="1.4" height="1.4"/><rect x="514.3" y="76.47" width="1.4" height="1.4"/><rect x="512.6" y="77.97" width="1.4" height="1.4"/><rect x="514.3" y="79.83" width="1.4" height="1.4"/><rect x="512.6" y="81.48" width="1.4" height="1.4"/><rect x="514.3" y="82.54" width="1.4" height="1.4"/><rect x="512.6" y="84.21" width="1.4" height="1.4"/><rect x="514.3" y="84.86" width="1.4" height="1.4"/><rect x="512.6" y="85.98" width="1.4" height="1.4"/><rect x="514.3" y="86.83" width="1.4" height="1.4"/><rect x="512.6" y="88.11" width="1.4" height="1.4"/><rect x="514.3" y="88.83" width="1.4" height="1.4"/><rect x="512.6" y="90.3" width="1.4" height="1.4"/><rect x="514.3" y="91.08" width="1.4" height="1.4"/><rect x="516" y="91.82" width="1.4" height="1.4"/><rect x="514.3" y="92.85" width="1.4" height="1.4"/><rect x="512.6" y="94.29" width="1.4" height="1.4"/><rect x="514.3" y="95.31" width="1.4" height="1.4"/><rect x="516" y="95.97" width="1.4" height="1.4"/><rect x="514.3" y="97.16" width="1.4" height="1.4"/><rect x="512.6" y="98.44" width="1.4" height="1.4"/><rect x="514.3" y="99.76" width="1.4" height="1.4"/><rect x="512.6" y="100.38" width="1.4" height="1.4"/><rect x="514.3" y="101.71" width="1.4" height="1.4"/><rect x="512.6" y="102.95" width="1.4" height="1.4"/><rect x="514.3" y="104.12" width="1.4" height="1.4"/><rect x="514.3" y="105.95" width="1.4" height="1.4"/><rect x="514.3" y="110.99" width="1.4" height="1.4"/><rect x="514.3" y="113.03" width="1.4" height="1.4"/></g>
<path d="M512.3 84.23h5.4" stroke="#d8403c" stroke-width="1.1"/>
<g font-family="'Liberation Sans', Arial, sans-serif" font-size="4.9" font-weight="bold" text-anchor="end" stroke="#000" stroke-width="0.3">
<text transform="translate(351.6 152.8) rotate(-45)">Pan-HER</text>
<text transform="translate(359.3 152.8) rotate(-45)">EGFR+HER2</text>
<text transform="translate(367 152.8) rotate(-45)">EGFR+HER3</text>
<text transform="translate(374.7 152.8) rotate(-45)">HER2+HER3</text>
<text transform="translate(382.4 152.8) rotate(-45)">EGFR</text>
<text transform="translate(390.1 152.8) rotate(-45)">HER2</text>
<text transform="translate(397.8 152.8) rotate(-45)">HER3</text>
<text transform="translate(405.5 152.8) rotate(-45)">Cetuximab</text>
<text transform="translate(413.2 152.8) rotate(-45)">Trastuzumab</text>
<text transform="translate(420.9 152.8) rotate(-45)">MM-121</text>
<text transform="translate(428.6 152.8) rotate(-45)">Neg. control</text>
<text transform="translate(439.9 152.8) rotate(-45)">Pan-HER</text>
<text transform="translate(447.45 152.8) rotate(-45)">EGFR+HER2</text>
<text transform="translate(455 152.8) rotate(-45)">EGFR+HER3</text>
<text transform="translate(462.55 152.8) rotate(-45)">HER2+HER3</text>
<text transform="translate(470.1 152.8) rotate(-45)">EGFR</text>
<text transform="translate(477.65 152.8) rotate(-45)">HER2</text>
<text transform="translate(485.2 152.8) rotate(-45)">HER3</text>
<text transform="translate(492.75 152.8) rotate(-45)">Cetuximab</text>
<text transform="translate(500.3 152.8) rotate(-45)">Trastuzumab</text>
<text transform="translate(507.85 152.8) rotate(-45)">MM-121</text>
<text transform="translate(515.4 152.8) rotate(-45)">Neg. control</text>
</g>
<text x="0.4" y="202.4" font-family="'Liberation Sans', Arial, sans-serif" font-weight="bold" font-size="13.6" stroke="#000" stroke-width="0.35">C</text>
<text x="0.4" y="472.1" font-family="'Liberation Sans', Arial, sans-serif" font-weight="bold" font-size="13.4" stroke="#000" stroke-width="0.35">D</text>
<path d="M49.5 242.2H177" stroke="#333" stroke-width="0.75" stroke-dasharray="1.1 1.1"/>
<path d="M49.5 208V310.6H177" stroke="#111" stroke-width="1" fill="none"/>
<path d="M47.1 310.6H49.5M47.1 276.4H49.5M47.1 242.2H49.5M47.1 208H49.5M49 310.6v2.6M56.71 310.6v1.4M61.21 310.6v1.4M64.41 310.6v1.4M66.89 310.6v1.4M68.92 310.6v1.4M70.63 310.6v1.4M72.12 310.6v1.4M73.43 310.6v1.4M74.6 310.6v2.6M82.31 310.6v1.4M86.81 310.6v1.4M90.01 310.6v1.4M92.49 310.6v1.4M94.52 310.6v1.4M96.23 310.6v1.4M97.72 310.6v1.4M99.03 310.6v1.4M100.2 310.6v2.6M107.91 310.6v1.4M112.41 310.6v1.4M115.61 310.6v1.4M118.09 310.6v1.4M120.12 310.6v1.4M121.83 310.6v1.4M123.32 310.6v1.4M124.63 310.6v1.4M125.8 310.6v2.6M133.51 310.6v1.4M138.01 310.6v1.4M141.21 310.6v1.4M143.69 310.6v1.4M145.72 310.6v1.4M147.43 310.6v1.4M148.92 310.6v1.4M150.23 310.6v1.4M151.4 310.6v2.6M159.11 310.6v1.4M163.61 310.6v1.4M166.81 310.6v1.4M169.29 310.6v1.4M171.32 310.6v1.4M173.03 310.6v1.4M174.52 310.6v1.4M175.83 310.6v1.4M177 310.6v2.6" stroke="#111" stroke-width="0.8"/>
<g font-family="'Liberation Sans', Arial, sans-serif" font-weight="bold" font-size="6.3" text-anchor="end">
<text x="46.7" y="312.87">0</text>
<text x="46.7" y="278.67">50</text>
<text x="46.7" y="244.47">100</text>
<text x="46.7" y="210.27">150</text>
</g>
<g font-family="'Liberation Sans', Arial, sans-serif" font-weight="bold" font-size="6.6" text-anchor="middle">
<text x="74.6" y="320.2">0.01</text>
<text x="100.2" y="320.2">0.1</text>
<text x="125.8" y="320.2">1</text>
<text x="151.4" y="320.2">10</text>
<text x="177" y="320.2">100</text>
</g>
<text x="113" y="328.5" text-anchor="middle" font-family="'Liberation Sans', Arial, sans-serif" font-weight="bold" font-size="6.5">[Antibody] (µg/mL)</text>
<text x="110.4" y="197" text-anchor="middle" font-family="'Liberation Sans', Arial, sans-serif" font-weight="bold" font-size="8.6">NO LIGAND</text>
<polyline points="61.67,246.3 63.5,246.3 65.33,246.3 67.15,246.3 68.98,246.3 70.81,246.3 72.64,246.3 74.47,246.3 76.3,246.3 78.13,246.3 79.95,246.3 81.78,246.3 83.61,246.3 85.44,246.3 87.27,246.3 89.1,246.3 90.93,246.3 92.75,246.3 94.58,246.3 96.41,246.3 98.24,246.3 100.07,246.3 101.9,246.3 103.73,246.3 105.56,246.3 107.38,246.3 109.21,246.3 111.04,246.3 112.87,246.3 114.7,246.31 116.53,246.31 118.36,246.31 120.18,246.31 122.01,246.31 123.84,246.31 125.67,246.31 127.5,246.32 129.33,246.32 131.16,246.33 132.98,246.34 134.81,246.36 136.64,246.37 138.47,246.4 140.3,246.44 142.13,246.49 143.96,246.57 145.79,246.67 147.61,246.81 149.44,247 151.27,247.27 153.1,247.64 154.93,248.14 156.76,248.82 158.59,249.73 160.41,250.95 162.24,252.53 164.07,254.56 165.9,257.09 167.73,260.15 169.56,263.69" fill="none" stroke="#a8742e" stroke-width="1.15" stroke-linejoin="round"/>
<path d="M61.67 242.2V246.3M59.87 242.2h3.6M59.87 246.3h3.6M77.08 239.74V245.21M75.28 239.74h3.6M75.28 245.21h3.6M92.49 241.24V245.35M90.69 241.24h3.6M90.69 245.35h3.6M107.91 244.94V249.04M106.11 244.94h3.6M106.11 249.04h3.6M123.32 245.62V248.36M121.52 245.62h3.6M121.52 248.36h3.6M138.73 245.62V249.72M136.93 245.62h3.6M136.93 249.72h3.6M154.14 244.25V249.72M152.34 244.25h3.6M152.34 249.72h3.6M169.56 262.04V268.88M167.76 262.04h3.6M167.76 268.88h3.6" stroke="#a8742e" stroke-width="0.9" fill="none"/>
<path d="M59.87 242.75L63.47 242.75L61.67 246.05Z" fill="#a8742e"/><path d="M75.28 240.97L78.88 240.97L77.08 244.27Z" fill="#a8742e"/><path d="M90.69 241.79L94.29 241.79L92.49 245.09Z" fill="#a8742e"/><path d="M106.11 245.49L109.71 245.49L107.91 248.79Z" fill="#a8742e"/><path d="M121.52 245.49L125.12 245.49L123.32 248.79Z" fill="#a8742e"/><path d="M136.93 246.17L140.53 246.17L138.73 249.47Z" fill="#a8742e"/><path d="M152.34 245.49L155.94 245.49L154.14 248.79Z" fill="#a8742e"/><path d="M167.76 263.96L171.36 263.96L169.56 267.26Z" fill="#a8742e"/>
<polyline points="61.67,245.96 63.5,245.96 65.33,245.96 67.15,245.96 68.98,245.96 70.81,245.96 72.64,245.96 74.47,245.96 76.3,245.96 78.13,245.96 79.95,245.96 81.78,245.96 83.61,245.96 85.44,245.96 87.27,245.96 89.1,245.96 90.93,245.96 92.75,245.96 94.58,245.96 96.41,245.96 98.24,245.96 100.07,245.96 101.9,245.96 103.73,245.96 105.56,245.96 107.38,245.96 109.21,245.96 111.04,245.96 112.87,245.96 114.7,245.96 116.53,245.96 118.36,245.96 120.18,245.96 122.01,245.96 123.84,245.96 125.67,245.97 127.5,245.97 129.33,245.97 131.16,245.97 132.98,245.98 134.81,245.98 136.64,245.99 138.47,246 140.3,246.02 142.13,246.04 143.96,246.08 145.79,246.13 147.61,246.2 149.44,246.3 151.27,246.44 153.1,246.65 154.93,246.94 156.76,247.36 158.59,247.94 160.41,248.75 162.24,249.87 164.07,251.38 165.9,253.37 167.73,255.92 169.56,259.07" fill="none" stroke="#7d9dbb" stroke-width="1.15" stroke-linejoin="round"/>
<path d="M61.67 239.46V244.94M59.87 239.46h3.6M59.87 244.94h3.6M77.08 243.57V247.67M75.28 243.57h3.6M75.28 247.67h3.6M92.49 244.94V253.14M90.69 244.94h3.6M90.69 253.14h3.6M107.91 235.36V246.3M106.11 235.36h3.6M106.11 246.3h3.6M123.32 243.57V247.67M121.52 243.57h3.6M121.52 247.67h3.6M138.73 245.62V252.46M136.93 245.62h3.6M136.93 252.46h3.6M154.14 239.46V250.41M152.34 239.46h3.6M152.34 250.41h3.6M169.56 258.62V268.19M167.76 258.62h3.6M167.76 268.19h3.6" stroke="#7d9dbb" stroke-width="0.9" fill="none"/>
<path d="M61.67 240.25L63.47 242.2L61.67 244.15L59.87 242.2Z" fill="#7d9dbb"/><path d="M77.08 243.67L78.88 245.62L77.08 247.57L75.28 245.62Z" fill="#7d9dbb"/><path d="M92.49 247.09L94.29 249.04L92.49 250.99L90.69 249.04Z" fill="#7d9dbb"/><path d="M107.91 238.88L109.71 240.83L107.91 242.78L106.11 240.83Z" fill="#7d9dbb"/><path d="M123.32 243.67L125.12 245.62L123.32 247.57L121.52 245.62Z" fill="#7d9dbb"/><path d="M138.73 247.09L140.53 249.04L138.73 250.99L136.93 249.04Z" fill="#7d9dbb"/><path d="M154.14 242.99L155.94 244.94L154.14 246.89L152.34 244.94Z" fill="#7d9dbb"/><path d="M169.56 261.45L171.36 263.4L169.56 265.35L167.76 263.4Z" fill="#7d9dbb"/>
<polyline points="61.67,251.44 63.5,252.32 65.33,253.16 67.15,253.96 68.98,254.71 70.81,255.42 72.64,256.1 74.47,256.73 76.3,257.33 78.13,257.9 79.95,258.43 81.78,258.93 83.61,259.4 85.44,259.84 87.27,260.25 89.1,260.64 90.93,261 92.75,261.34 94.58,261.66 96.41,261.96 98.24,262.24 100.07,262.49 101.9,262.74 103.73,262.96 105.56,263.17 107.38,263.37 109.21,263.55 111.04,263.72 112.87,263.88 114.7,264.03 116.53,264.17 118.36,264.29 120.18,264.41 122.01,264.52 123.84,264.63 125.67,264.72 127.5,264.81 129.33,264.9 131.16,264.97 132.98,265.04 134.81,265.11 136.64,265.17 138.47,265.23 140.3,265.28 142.13,265.33 143.96,265.38 145.79,265.42 147.61,265.46 149.44,265.5 151.27,265.53 153.1,265.56 154.93,265.59 156.76,265.62 158.59,265.65 160.41,265.67 162.24,265.69 164.07,265.71 165.9,265.73 167.73,265.75 169.56,265.76" fill="none" stroke="#3a4f9e" stroke-width="1.15" stroke-linejoin="round"/>
<path d="M61.67 246.99V255.2M59.87 246.99h3.6M59.87 255.2h3.6M77.08 256.15V261.63M75.28 256.15h3.6M75.28 261.63h3.6M92.49 257.93V262.04M90.69 257.93h3.6M90.69 262.04h3.6M107.91 261.69V264.43M106.11 261.69h3.6M106.11 264.43h3.6M123.32 264.43V267.17M121.52 264.43h3.6M121.52 267.17h3.6M138.73 263.13V265.87M136.93 263.13h3.6M136.93 265.87h3.6M154.14 264.09V266.82M152.34 264.09h3.6M152.34 266.82h3.6M169.56 264.09V268.19M167.76 264.09h3.6M167.76 268.19h3.6" stroke="#3a4f9e" stroke-width="0.9" fill="none"/>
<circle cx="61.67" cy="251.09" r="1.58" fill="#3a4f9e"/><circle cx="77.08" cy="258.89" r="1.58" fill="#3a4f9e"/><circle cx="92.49" cy="259.98" r="1.58" fill="#3a4f9e"/><circle cx="107.91" cy="263.06" r="1.58" fill="#3a4f9e"/><circle cx="123.32" cy="265.8" r="1.58" fill="#3a4f9e"/><circle cx="138.73" cy="264.5" r="1.58" fill="#3a4f9e"/><circle cx="154.14" cy="265.46" r="1.58" fill="#3a4f9e"/><circle cx="169.56" cy="266.14" r="1.58" fill="#3a4f9e"/>
<polyline points="61.67,243.6 63.5,244.47 65.33,245.32 67.15,246.16 68.98,246.98 70.81,247.78 72.64,248.57 74.47,249.34 76.3,250.09 78.13,250.82 79.95,251.54 81.78,252.24 83.61,252.92 85.44,253.58 87.27,254.23 89.1,254.86 90.93,255.47 92.75,256.06 94.58,256.64 96.41,257.2 98.24,257.74 100.07,258.27 101.9,258.78 103.73,259.28 105.56,259.76 107.38,260.23 109.21,260.68 111.04,261.12 112.87,261.54 114.7,261.95 116.53,262.34 118.36,262.72 120.18,263.09 122.01,263.45 123.84,263.79 125.67,264.12 127.5,264.44 129.33,264.75 131.16,265.05 132.98,265.34 134.81,265.61 136.64,265.88 138.47,266.14 140.3,266.38 142.13,266.62 143.96,266.85 145.79,267.07 147.61,267.29 149.44,267.49 151.27,267.69 153.1,267.88 154.93,268.06 156.76,268.23 158.59,268.4 160.41,268.56 162.24,268.72 164.07,268.87 165.9,269.01 167.73,269.15 169.56,269.28" fill="none" stroke="#2fae4c" stroke-width="1.15" stroke-linejoin="round"/>
<path d="M61.67 241.52V245.62M59.87 241.52h3.6M59.87 245.62h3.6M77.08 248.36V252.46M75.28 248.36h3.6M75.28 252.46h3.6M92.49 253.83V257.93M90.69 253.83h3.6M90.69 257.93h3.6M107.91 259.3V262.04M106.11 259.3h3.6M106.11 262.04h3.6M123.32 262.72V265.46M121.52 262.72h3.6M121.52 265.46h3.6M138.73 264.09V266.82M136.93 264.09h3.6M136.93 266.82h3.6M154.14 266.14V268.88M152.34 266.14h3.6M152.34 268.88h3.6M169.56 267.17V272.64M167.76 267.17h3.6M167.76 272.64h3.6" stroke="#2fae4c" stroke-width="0.9" fill="none"/>
<rect x="60.17" y="242.07" width="3" height="3" fill="#2fae4c"/><rect x="75.58" y="248.91" width="3" height="3" fill="#2fae4c"/><rect x="90.99" y="254.38" width="3" height="3" fill="#2fae4c"/><rect x="106.41" y="259.17" width="3" height="3" fill="#2fae4c"/><rect x="121.82" y="262.59" width="3" height="3" fill="#2fae4c"/><rect x="137.23" y="263.96" width="3" height="3" fill="#2fae4c"/><rect x="152.64" y="266.01" width="3" height="3" fill="#2fae4c"/><rect x="168.06" y="268.4" width="3" height="3" fill="#2fae4c"/>
<polyline points="61.67,236.93 77.08,233.99 92.49,232.83 107.91,236.45 123.32,242.47 138.73,239.74 154.14,241.11 169.56,245.89" fill="none" stroke="#111111" stroke-width="1.15" stroke-linejoin="round"/>
<path d="M61.67 234.88V238.99M59.87 234.88h3.6M59.87 238.99h3.6M77.08 231.26V236.73M75.28 231.26h3.6M75.28 236.73h3.6M92.49 231.46V234.2M90.69 231.46h3.6M90.69 234.2h3.6M107.91 233.72V239.19M106.11 233.72h3.6M106.11 239.19h3.6M123.32 241.11V243.84M121.52 241.11h3.6M121.52 243.84h3.6M138.73 238.37V241.11M136.93 238.37h3.6M136.93 241.11h3.6M154.14 238.37V243.84M152.34 238.37h3.6M152.34 243.84h3.6" stroke="#111111" stroke-width="0.9" fill="none"/>
<circle cx="61.67" cy="236.93" r="1.58" fill="#111111"/><circle cx="77.08" cy="233.99" r="1.58" fill="#111111"/><circle cx="92.49" cy="232.83" r="1.58" fill="#111111"/><circle cx="107.91" cy="236.45" r="1.58" fill="#111111"/><circle cx="123.32" cy="242.47" r="1.58" fill="#111111"/><circle cx="138.73" cy="239.74" r="1.58" fill="#111111"/><circle cx="154.14" cy="241.11" r="1.58" fill="#111111"/><circle cx="169.56" cy="245.89" r="1.58" fill="#111111"/>
<path d="M54.6 266.6H64.4" stroke="#2fae4c" stroke-width="1"/>
<rect x="58.2" y="265.3" width="2.6" height="2.6" fill="#2fae4c"/>
<text x="68.5" y="269.26" font-family="'Liberation Sans', Arial, sans-serif" font-weight="bold" font-size="7.4">Pan-HER</text>
<path d="M54.6 275.9H64.4" stroke="#3a4f9e" stroke-width="1"/>
<circle cx="59.5" cy="275.9" r="1.37" fill="#3a4f9e"/>
<text x="68.5" y="278.56" font-family="'Liberation Sans', Arial, sans-serif" font-weight="bold" font-size="7.4">Cetuximab</text>
<path d="M54.6 285.2H64.4" stroke="#a8742e" stroke-width="1"/>
<path d="M57.94 283.9L61.06 283.9L59.5 286.76Z" fill="#a8742e"/>
<text x="68.5" y="287.86" font-family="'Liberation Sans', Arial, sans-serif" font-weight="bold" font-size="7.4">Trastuzumab</text>
<path d="M54.6 294.5H64.4" stroke="#7d9dbb" stroke-width="1"/>
<path d="M59.5 292.81L61.06 294.5L59.5 296.19L57.94 294.5Z" fill="#7d9dbb"/>
<text x="68.5" y="297.16" font-family="'Liberation Sans', Arial, sans-serif" font-weight="bold" font-size="7.4">MM-121</text>
<path d="M54.6 303.8H64.4" stroke="#111111" stroke-width="1"/>
<circle cx="59.5" cy="303.8" r="1.37" fill="#111111"/>
<text x="68.5" y="306.46" font-family="'Liberation Sans', Arial, sans-serif" font-weight="bold" font-size="7.4">Neg. control</text>
<path d="M209.4 256.2H337.7" stroke="#333" stroke-width="0.75" stroke-dasharray="1.1 1.1"/>
<path d="M209.4 235.89H337.7" stroke="#333" stroke-width="0.75" stroke-dasharray="1.1 1.1"/>
<text x="206.4" y="238.19" text-anchor="end" font-family="'Liberation Sans', Arial, sans-serif" font-weight="bold" font-size="6.3">EGF</text>
<path d="M209.4 201.3V311.1H337.7" stroke="#111" stroke-width="1" fill="none"/>
<path d="M207 311.1H209.4M207 283.65H209.4M207 256.2H209.4M207 228.75H209.4M207 201.3H209.4M209.2 311.1v2.6M216.94 311.1v1.4M221.46 311.1v1.4M224.67 311.1v1.4M227.16 311.1v1.4M229.2 311.1v1.4M230.92 311.1v1.4M232.41 311.1v1.4M233.72 311.1v1.4M234.9 311.1v2.6M242.64 311.1v1.4M247.16 311.1v1.4M250.37 311.1v1.4M252.86 311.1v1.4M254.9 311.1v1.4M256.62 311.1v1.4M258.11 311.1v1.4M259.42 311.1v1.4M260.6 311.1v2.6M268.34 311.1v1.4M272.86 311.1v1.4M276.07 311.1v1.4M278.56 311.1v1.4M280.6 311.1v1.4M282.32 311.1v1.4M283.81 311.1v1.4M285.12 311.1v1.4M286.3 311.1v2.6M294.04 311.1v1.4M298.56 311.1v1.4M301.77 311.1v1.4M304.26 311.1v1.4M306.3 311.1v1.4M308.02 311.1v1.4M309.51 311.1v1.4M310.82 311.1v1.4M312 311.1v2.6M319.74 311.1v1.4M324.26 311.1v1.4M327.47 311.1v1.4M329.96 311.1v1.4M332 311.1v1.4M333.72 311.1v1.4M335.21 311.1v1.4M336.52 311.1v1.4M337.7 311.1v2.6" stroke="#111" stroke-width="0.8"/>
<g font-family="'Liberation Sans', Arial, sans-serif" font-weight="bold" font-size="6.3" text-anchor="end">
<text x="206.6" y="313.37">0</text>
<text x="206.6" y="285.92">50</text>
<text x="206.6" y="258.47">100</text>
<text x="206.6" y="231.02">150</text>
<text x="206.6" y="203.57">200</text>
</g>
<g font-family="'Liberation Sans', Arial, sans-serif" font-weight="bold" font-size="6.6" text-anchor="middle">
<text x="234.9" y="320.7">0.01</text>
<text x="260.6" y="320.7">0.1</text>
<text x="286.3" y="320.7">1</text>
<text x="312" y="320.7">10</text>
<text x="337.7" y="320.7">100</text>
</g>
<text x="275.2" y="329" text-anchor="middle" font-family="'Liberation Sans', Arial, sans-serif" font-weight="bold" font-size="6.5">[Antibody] (µg/mL)</text>
<text x="282.5" y="197" text-anchor="middle" font-family="'Liberation Sans', Arial, sans-serif" font-weight="bold" font-size="8.6">+ 1 nmol/L EGF</text>
<polyline points="221.92,236.99 223.25,236.99 224.58,236.99 225.91,236.99 227.24,236.99 228.57,236.99 229.9,236.99 231.23,236.99 232.56,236.99 233.89,236.99 235.23,236.99 236.56,236.99 237.89,236.99 239.22,236.99 240.55,236.99 241.88,236.99 243.21,236.99 244.54,236.99 245.87,236.99 247.2,236.99 248.53,236.99 249.86,236.99 251.2,236.99 252.53,236.99 253.86,236.99 255.19,236.99 256.52,236.99 257.85,236.99 259.18,236.99 260.51,236.99 261.84,236.99 263.17,236.99 264.5,236.99 265.83,236.99 267.16,236.99 268.5,236.99 269.83,236.99 271.16,236.99 272.49,236.99 273.82,236.99 275.15,236.99 276.48,236.99 277.81,236.99 279.14,236.99 280.47,236.99 281.8,236.99 283.13,236.99 284.47,236.99 285.8,236.99 287.13,236.99 288.46,236.99 289.79,236.99 291.12,236.99 292.45,236.99 293.78,236.99 295.11,236.99 296.44,236.99 297.77,236.99 299.1,236.99 300.44,236.99" fill="none" stroke="#a8742e" stroke-width="1.15" stroke-linejoin="round"/>
<path d="M221.92 233.69V236.99M220.12 233.69h3.6M220.12 236.99h3.6M237.39 235.89V240.28M235.59 235.89h3.6M235.59 240.28h3.6M252.86 236.44V240.83M251.06 236.44h3.6M251.06 240.83h3.6M268.34 235.34V238.63M266.54 235.34h3.6M266.54 238.63h3.6M283.81 235.89V238.08M282.01 235.89h3.6M282.01 238.08h3.6M299.28 235.34V238.63M297.48 235.34h3.6M297.48 238.63h3.6M314.76 227.1V232.59M312.96 227.1h3.6M312.96 232.59h3.6M330.23 226.55V233.14M328.43 226.55h3.6M328.43 233.14h3.6" stroke="#a8742e" stroke-width="0.9" fill="none"/>
<path d="M220.12 233.84L223.72 233.84L221.92 237.14Z" fill="#a8742e"/><path d="M235.59 236.58L239.19 236.58L237.39 239.88Z" fill="#a8742e"/><path d="M251.06 237.13L254.66 237.13L252.86 240.43Z" fill="#a8742e"/><path d="M266.54 235.49L270.14 235.49L268.34 238.79Z" fill="#a8742e"/><path d="M282.01 235.49L285.61 235.49L283.81 238.79Z" fill="#a8742e"/><path d="M297.48 235.49L301.08 235.49L299.28 238.79Z" fill="#a8742e"/><path d="M312.96 228.35L316.56 228.35L314.76 231.65Z" fill="#a8742e"/><path d="M328.43 228.35L332.03 228.35L330.23 231.65Z" fill="#a8742e"/>
<polyline points="221.92,234.79 237.39,232.04 252.86,231.5 268.34,233.14 283.81,226 299.28,218.59 314.76,224.63 330.23,232.21" fill="none" stroke="#7d9dbb" stroke-width="1.15" stroke-linejoin="round"/>
<path d="M221.92 232.59V236.99M220.12 232.59h3.6M220.12 236.99h3.6M237.39 229.85V234.24M235.59 229.85h3.6M235.59 234.24h3.6M252.86 229.3V233.69M251.06 229.3h3.6M251.06 233.69h3.6M268.34 230.4V235.89M266.54 230.4h3.6M266.54 235.89h3.6M283.81 223.26V228.75M282.01 223.26h3.6M282.01 228.75h3.6M299.28 213.65V223.53M297.48 213.65h3.6M297.48 223.53h3.6M314.76 222.44V226.83M312.96 222.44h3.6M312.96 226.83h3.6M330.23 228.91V235.5M328.43 228.91h3.6M328.43 235.5h3.6" stroke="#7d9dbb" stroke-width="0.9" fill="none"/>
<path d="M221.92 232.84L223.72 234.79L221.92 236.74L220.12 234.79Z" fill="#7d9dbb"/><path d="M237.39 230.09L239.19 232.04L237.39 233.99L235.59 232.04Z" fill="#7d9dbb"/><path d="M252.86 229.55L254.66 231.5L252.86 233.44L251.06 231.5Z" fill="#7d9dbb"/><path d="M268.34 231.19L270.14 233.14L268.34 235.09L266.54 233.14Z" fill="#7d9dbb"/><path d="M283.81 224.06L285.61 226L283.81 227.95L282.01 226Z" fill="#7d9dbb"/><path d="M299.28 216.64L301.08 218.59L299.28 220.54L297.48 218.59Z" fill="#7d9dbb"/><path d="M314.76 222.68L316.56 224.63L314.76 226.58L312.96 224.63Z" fill="#7d9dbb"/><path d="M330.23 230.26L332.03 232.21L330.23 234.16L328.43 232.21Z" fill="#7d9dbb"/>
<polyline points="221.92,233.75 237.39,229.63 252.86,230.45 268.34,231.06 283.81,225.07 299.28,234.24 314.76,230.23 330.23,236.99" fill="none" stroke="#111111" stroke-width="1.15" stroke-linejoin="round"/>
<path d="M221.92 232.1V235.39M220.12 232.1h3.6M220.12 235.39h3.6M237.39 228.53V230.73M235.59 228.53h3.6M235.59 230.73h3.6M252.86 227.71V233.2M251.06 227.71h3.6M251.06 233.2h3.6M268.34 225.02V237.09M266.54 225.02h3.6M266.54 237.09h3.6M283.81 220.68V229.46M282.01 220.68h3.6M282.01 229.46h3.6M299.28 233.14V235.34M297.48 233.14h3.6M297.48 235.34h3.6M314.76 228.04V232.43M312.96 228.04h3.6M312.96 232.43h3.6M330.23 235.34V238.63M328.43 235.34h3.6M328.43 238.63h3.6" stroke="#111111" stroke-width="0.9" fill="none"/>
<circle cx="221.92" cy="233.75" r="1.58" fill="#111111"/><circle cx="237.39" cy="229.63" r="1.58" fill="#111111"/><circle cx="252.86" cy="230.45" r="1.58" fill="#111111"/><circle cx="268.34" cy="231.06" r="1.58" fill="#111111"/><circle cx="283.81" cy="225.07" r="1.58" fill="#111111"/><circle cx="299.28" cy="234.24" r="1.58" fill="#111111"/><circle cx="314.76" cy="230.23" r="1.58" fill="#111111"/><circle cx="330.23" cy="236.99" r="1.58" fill="#111111"/>
<polyline points="221.92,240.48 223.75,240.63 225.59,240.78 227.42,240.93 229.26,241.09 231.1,241.26 232.93,241.44 234.77,241.62 236.6,241.81 238.44,242 240.28,242.21 242.11,242.42 243.95,242.64 245.78,242.86 247.62,243.1 249.45,243.34 251.29,243.6 253.13,243.86 254.96,244.13 256.8,244.41 258.63,244.7 260.47,245.01 262.3,245.32 264.14,245.64 265.98,245.98 267.81,246.33 269.65,246.68 271.48,247.05 273.32,247.44 275.16,247.83 276.99,248.24 278.83,248.66 280.66,249.1 282.5,249.55 284.33,250.01 286.17,250.49 288.01,250.98 289.84,251.48 291.68,252 293.51,252.54 295.35,253.09 297.18,253.66 299.02,254.24 300.86,254.84 302.69,255.45 304.53,256.08 306.36,256.72 308.2,257.38 310.03,258.05 311.87,258.74 313.71,259.45 315.54,260.17 317.38,260.91 319.21,261.66 321.05,262.43 322.89,263.21 324.72,264 326.56,264.81 328.39,265.64 330.23,266.47" fill="none" stroke="#3a4f9e" stroke-width="1.15" stroke-linejoin="round"/>
<path d="M221.92 237.2V242.69M220.12 237.2h3.6M220.12 242.69h3.6M237.39 237.75V245.44M235.59 237.75h3.6M235.59 245.44h3.6M252.86 243.02V246.32M251.06 243.02h3.6M251.06 246.32h3.6M268.34 246.04V248.24M266.54 246.04h3.6M266.54 248.24h3.6M283.81 244.12V254M282.01 244.12h3.6M282.01 254h3.6M299.28 254.55V256.75M297.48 254.55h3.6M297.48 256.75h3.6M314.76 253.18V261.96M312.96 253.18h3.6M312.96 261.96h3.6" stroke="#3a4f9e" stroke-width="0.9" fill="none"/>
<circle cx="221.92" cy="239.95" r="1.58" fill="#3a4f9e"/><circle cx="237.39" cy="241.6" r="1.58" fill="#3a4f9e"/><circle cx="252.86" cy="244.67" r="1.58" fill="#3a4f9e"/><circle cx="268.34" cy="247.14" r="1.58" fill="#3a4f9e"/><circle cx="283.81" cy="249.06" r="1.58" fill="#3a4f9e"/><circle cx="299.28" cy="255.65" r="1.58" fill="#3a4f9e"/><circle cx="314.76" cy="257.57" r="1.58" fill="#3a4f9e"/><circle cx="330.23" cy="267.51" r="1.58" fill="#3a4f9e"/>
<polyline points="221.92,232.82 223.75,233.51 225.59,234.22 227.42,234.94 229.26,235.66 231.1,236.39 232.93,237.13 234.77,237.87 236.6,238.62 238.44,239.38 240.28,240.14 242.11,240.91 243.95,241.68 245.78,242.46 247.62,243.24 249.45,244.03 251.29,244.82 253.13,245.61 254.96,246.41 256.8,247.2 258.63,248 260.47,248.8 262.3,249.6 264.14,250.4 265.98,251.2 267.81,252 269.65,252.8 271.48,253.6 273.32,254.39 275.16,255.18 276.99,255.97 278.83,256.76 280.66,257.54 282.5,258.32 284.33,259.09 286.17,259.86 288.01,260.62 289.84,261.37 291.68,262.12 293.51,262.87 295.35,263.6 297.18,264.33 299.02,265.05 300.86,265.77 302.69,266.47 304.53,267.17 306.36,267.86 308.2,268.53 310.03,269.2 311.87,269.86 313.71,270.52 315.54,271.16 317.38,271.79 319.21,272.41 321.05,273.02 322.89,273.62 324.72,274.21 326.56,274.79 328.39,275.36 330.23,275.92" fill="none" stroke="#2fae4c" stroke-width="1.15" stroke-linejoin="round"/>
<path d="M221.92 230.95V235.34M220.12 230.95h3.6M220.12 235.34h3.6M237.39 236.66V241.05M235.59 236.66h3.6M235.59 241.05h3.6M252.86 242.48V245.77M251.06 242.48h3.6M251.06 245.77h3.6M268.34 251.53V254.83M266.54 251.53h3.6M266.54 254.83h3.6M283.81 258.94V261.14M282.01 258.94h3.6M282.01 261.14h3.6M299.28 263.72V265.92M297.48 263.72h3.6M297.48 265.92h3.6M314.76 266.63V272.12M312.96 266.63h3.6M312.96 272.12h3.6M330.23 275.69V277.89M328.43 275.69h3.6M328.43 277.89h3.6" stroke="#2fae4c" stroke-width="0.9" fill="none"/>
<rect x="220.42" y="231.64" width="3" height="3" fill="#2fae4c"/><rect x="235.89" y="237.35" width="3" height="3" fill="#2fae4c"/><rect x="251.36" y="242.62" width="3" height="3" fill="#2fae4c"/><rect x="266.84" y="251.68" width="3" height="3" fill="#2fae4c"/><rect x="282.31" y="258.54" width="3" height="3" fill="#2fae4c"/><rect x="297.78" y="263.32" width="3" height="3" fill="#2fae4c"/><rect x="313.26" y="267.88" width="3" height="3" fill="#2fae4c"/><rect x="328.73" y="275.29" width="3" height="3" fill="#2fae4c"/>
<path d="M375.8 281.52H504.4" stroke="#333" stroke-width="0.75" stroke-dasharray="1.1 1.1"/>
<path d="M375.8 249.95H504.4" stroke="#333" stroke-width="0.75" stroke-dasharray="1.1 1.1"/>
<text x="372.8" y="252.25" text-anchor="end" font-family="'Liberation Sans', Arial, sans-serif" font-weight="bold" font-size="6.3">NRG</text>
<path d="M375.8 207.07V311.3H504.4" stroke="#111" stroke-width="1" fill="none"/>
<path d="M373.4 296.41H375.8M373.4 266.63H375.8M373.4 236.85H375.8M373.4 207.07H375.8M375.9 311.3v2.6M383.64 311.3v1.4M388.16 311.3v1.4M391.37 311.3v1.4M393.86 311.3v1.4M395.9 311.3v1.4M397.62 311.3v1.4M399.11 311.3v1.4M400.42 311.3v1.4M401.6 311.3v2.6M409.34 311.3v1.4M413.86 311.3v1.4M417.07 311.3v1.4M419.56 311.3v1.4M421.6 311.3v1.4M423.32 311.3v1.4M424.81 311.3v1.4M426.12 311.3v1.4M427.3 311.3v2.6M435.04 311.3v1.4M439.56 311.3v1.4M442.77 311.3v1.4M445.26 311.3v1.4M447.3 311.3v1.4M449.02 311.3v1.4M450.51 311.3v1.4M451.82 311.3v1.4M453 311.3v2.6M460.74 311.3v1.4M465.26 311.3v1.4M468.47 311.3v1.4M470.96 311.3v1.4M473 311.3v1.4M474.72 311.3v1.4M476.21 311.3v1.4M477.52 311.3v1.4M478.7 311.3v2.6M486.44 311.3v1.4M490.96 311.3v1.4M494.17 311.3v1.4M496.66 311.3v1.4M498.7 311.3v1.4M500.42 311.3v1.4M501.91 311.3v1.4M503.22 311.3v1.4M504.4 311.3v2.6" stroke="#111" stroke-width="0.8"/>
<g font-family="'Liberation Sans', Arial, sans-serif" font-weight="bold" font-size="6.3" text-anchor="end">
<text x="373" y="298.68">50</text>
<text x="373" y="268.9">150</text>
<text x="373" y="239.12">250</text>
<text x="373" y="209.34">350</text>
</g>
<g font-family="'Liberation Sans', Arial, sans-serif" font-weight="bold" font-size="6.6" text-anchor="middle">
<text x="401.6" y="320.9">0.01</text>
<text x="427.3" y="320.9">0.1</text>
<text x="453" y="320.9">1</text>
<text x="478.7" y="320.9">10</text>
<text x="504.4" y="320.9">100</text>
</g>
<text x="440.15" y="329.2" text-anchor="middle" font-family="'Liberation Sans', Arial, sans-serif" font-weight="bold" font-size="6.5">[Antibody] (µg/mL)</text>
<text x="450" y="197" text-anchor="middle" font-family="'Liberation Sans', Arial, sans-serif" font-weight="bold" font-size="8.6">+ 5 nmol/L NRG</text>
<polyline points="388.62,253.57 390.45,254.07 392.29,254.56 394.12,255.02 395.96,255.47 397.8,255.9 399.63,256.31 401.47,256.71 403.3,257.09 405.14,257.46 406.98,257.81 408.81,258.14 410.65,258.46 412.48,258.77 414.32,259.06 416.15,259.33 417.99,259.6 419.83,259.85 421.66,260.09 423.5,260.31 425.33,260.53 427.17,260.74 429,260.93 430.84,261.12 432.68,261.29 434.51,261.46 436.35,261.61 438.18,261.76 440.02,261.9 441.86,262.04 443.69,262.16 445.53,262.28 447.36,262.4 449.2,262.5 451.03,262.6 452.87,262.7 454.71,262.79 456.54,262.88 458.38,262.96 460.21,263.03 462.05,263.1 463.88,263.17 465.72,263.23 467.56,263.29 469.39,263.35 471.23,263.4 473.06,263.46 474.9,263.5 476.73,263.55 478.57,263.59 480.41,263.63 482.24,263.67 484.08,263.7 485.91,263.74 487.75,263.77 489.59,263.8 491.42,263.83 493.26,263.85 495.09,263.88 496.93,263.9" fill="none" stroke="#a8742e" stroke-width="1.15" stroke-linejoin="round"/>
<path d="M388.62 252.04V255.02M386.82 252.04h3.6M386.82 255.02h3.6M404.09 254.72V259.48M402.29 254.72h3.6M402.29 259.48h3.6M419.56 257.99V262.76M417.76 257.99h3.6M417.76 262.76h3.6M435.04 259.78V262.76M433.24 259.78h3.6M433.24 262.76h3.6M450.51 261.69V264.66M448.71 261.69h3.6M448.71 264.66h3.6M465.98 257.4V266.33M464.18 257.4h3.6M464.18 266.33h3.6M481.46 257.1V269.01M479.66 257.1h3.6M479.66 269.01h3.6M496.93 262.76V267.52M495.13 262.76h3.6M495.13 267.52h3.6" stroke="#a8742e" stroke-width="0.9" fill="none"/>
<path d="M386.82 252.03L390.42 252.03L388.62 255.33Z" fill="#a8742e"/><path d="M402.29 255.6L405.89 255.6L404.09 258.9Z" fill="#a8742e"/><path d="M417.76 258.88L421.36 258.88L419.56 262.18Z" fill="#a8742e"/><path d="M433.24 259.77L436.84 259.77L435.04 263.07Z" fill="#a8742e"/><path d="M448.71 261.68L452.31 261.68L450.51 264.98Z" fill="#a8742e"/><path d="M464.18 260.37L467.78 260.37L465.98 263.67Z" fill="#a8742e"/><path d="M479.66 261.56L483.26 261.56L481.46 264.86Z" fill="#a8742e"/><path d="M495.13 263.64L498.73 263.64L496.93 266.94Z" fill="#a8742e"/>
<polyline points="388.62,254.7 390.45,255.05 392.29,255.4 394.12,255.73 395.96,256.06 397.8,256.39 399.63,256.71 401.47,257.02 403.3,257.32 405.14,257.61 406.98,257.9 408.81,258.18 410.65,258.46 412.48,258.72 414.32,258.98 416.15,259.24 417.99,259.48 419.83,259.72 421.66,259.95 423.5,260.18 425.33,260.4 427.17,260.61 429,260.81 430.84,261.01 432.68,261.2 434.51,261.39 436.35,261.57 438.18,261.74 440.02,261.91 441.86,262.08 443.69,262.23 445.53,262.39 447.36,262.53 449.2,262.67 451.03,262.81 452.87,262.94 454.71,263.07 456.54,263.19 458.38,263.31 460.21,263.43 462.05,263.54 463.88,263.64 465.72,263.74 467.56,263.84 469.39,263.94 471.23,264.03 473.06,264.11 474.9,264.2 476.73,264.28 478.57,264.36 480.41,264.43 482.24,264.5 484.08,264.57 485.91,264.64 487.75,264.7 489.59,264.76 491.42,264.82 493.26,264.88 495.09,264.93 496.93,264.99" fill="none" stroke="#3a4f9e" stroke-width="1.15" stroke-linejoin="round"/>
<path d="M388.62 252.63V255.61M386.82 252.63h3.6M386.82 255.61h3.6M404.09 256.8V259.78M402.29 256.8h3.6M402.29 259.78h3.6M419.56 257.1V263.06M417.76 257.1h3.6M417.76 263.06h3.6M435.04 259.78V262.76M433.24 259.78h3.6M433.24 262.76h3.6M450.51 260.67V263.65M448.71 260.67h3.6M448.71 263.65h3.6M465.98 262.16V265.14M464.18 262.16h3.6M464.18 265.14h3.6M481.46 262.16V265.14M479.66 262.16h3.6M479.66 265.14h3.6M496.93 263.65V268.42M495.13 263.65h3.6M495.13 268.42h3.6" stroke="#3a4f9e" stroke-width="0.9" fill="none"/>
<circle cx="388.62" cy="254.12" r="1.58" fill="#3a4f9e"/><circle cx="404.09" cy="258.29" r="1.58" fill="#3a4f9e"/><circle cx="419.56" cy="260.08" r="1.58" fill="#3a4f9e"/><circle cx="435.04" cy="261.27" r="1.58" fill="#3a4f9e"/><circle cx="450.51" cy="262.16" r="1.58" fill="#3a4f9e"/><circle cx="465.98" cy="263.65" r="1.58" fill="#3a4f9e"/><circle cx="481.46" cy="263.65" r="1.58" fill="#3a4f9e"/><circle cx="496.93" cy="266.03" r="1.58" fill="#3a4f9e"/>
<polyline points="388.62,248.58 390.45,248.82 392.29,249.06 394.12,249.31 395.96,249.57 397.8,249.84 399.63,250.12 401.47,250.41 403.3,250.71 405.14,251.02 406.98,251.35 408.81,251.68 410.65,252.03 412.48,252.39 414.32,252.77 416.15,253.16 417.99,253.56 419.83,253.98 421.66,254.41 423.5,254.85 425.33,255.31 427.17,255.78 429,256.27 430.84,256.78 432.68,257.29 434.51,257.83 436.35,258.38 438.18,258.95 440.02,259.53 441.86,260.13 443.69,260.75 445.53,261.38 447.36,262.03 449.2,262.69 451.03,263.38 452.87,264.07 454.71,264.78 456.54,265.51 458.38,266.26 460.21,267.02 462.05,267.79 463.88,268.58 465.72,269.38 467.56,270.19 469.39,271.02 471.23,271.86 473.06,272.72 474.9,273.58 476.73,274.45 478.57,275.34 480.41,276.23 482.24,277.13 484.08,278.04 485.91,278.96 487.75,279.88 489.59,280.8 491.42,281.73 493.26,282.67 495.09,283.6 496.93,284.54" fill="none" stroke="#7d9dbb" stroke-width="1.15" stroke-linejoin="round"/>
<path d="M388.62 245.78V249.36M386.82 245.78h3.6M386.82 249.36h3.6M404.09 249.36V252.34M402.29 249.36h3.6M402.29 252.34h3.6M419.56 252.63V257.4M417.76 252.63h3.6M417.76 257.4h3.6M435.04 257.7V260.67M433.24 257.7h3.6M433.24 260.67h3.6M450.51 260.67V263.65M448.71 260.67h3.6M448.71 263.65h3.6M465.98 265.74V274.67M464.18 265.74h3.6M464.18 274.67h3.6M481.46 272.59V275.56M479.66 272.59h3.6M479.66 275.56h3.6M496.93 285.09V287.48M495.13 285.09h3.6M495.13 287.48h3.6" stroke="#7d9dbb" stroke-width="0.9" fill="none"/>
<path d="M388.62 245.62L390.42 247.57L388.62 249.52L386.82 247.57Z" fill="#7d9dbb"/><path d="M404.09 248.9L405.89 250.85L404.09 252.8L402.29 250.85Z" fill="#7d9dbb"/><path d="M419.56 253.07L421.36 255.02L419.56 256.97L417.76 255.02Z" fill="#7d9dbb"/><path d="M435.04 257.24L436.84 259.19L435.04 261.13L433.24 259.19Z" fill="#7d9dbb"/><path d="M450.51 260.21L452.31 262.16L450.51 264.11L448.71 262.16Z" fill="#7d9dbb"/><path d="M465.98 268.25L467.78 270.2L465.98 272.15L464.18 270.2Z" fill="#7d9dbb"/><path d="M481.46 272.12L483.26 274.07L481.46 276.02L479.66 274.07Z" fill="#7d9dbb"/><path d="M496.93 284.33L498.73 286.28L496.93 288.23L495.13 286.28Z" fill="#7d9dbb"/>
<polyline points="388.62,242.51 404.09,245.19 419.56,245.19 435.04,256.21 450.51,247.27 465.98,247.27 481.46,244.41 496.93,249.36" fill="none" stroke="#111111" stroke-width="1.15" stroke-linejoin="round"/>
<path d="M388.62 238.34V246.68M386.82 238.34h3.6M386.82 246.68h3.6M404.09 240.42V249.95M402.29 240.42h3.6M402.29 249.95h3.6M419.56 241.02V249.36M417.76 241.02h3.6M417.76 249.36h3.6M435.04 254.42V257.99M433.24 254.42h3.6M433.24 257.99h3.6M450.51 241.91V252.63M448.71 241.91h3.6M448.71 252.63h3.6M481.46 239.35V249.48M479.66 239.35h3.6M479.66 249.48h3.6M496.93 246.98V251.74M495.13 246.98h3.6M495.13 251.74h3.6" stroke="#111111" stroke-width="0.9" fill="none"/>
<circle cx="388.62" cy="242.51" r="1.58" fill="#111111"/><circle cx="404.09" cy="245.19" r="1.58" fill="#111111"/><circle cx="419.56" cy="245.19" r="1.58" fill="#111111"/><circle cx="435.04" cy="256.21" r="1.58" fill="#111111"/><circle cx="450.51" cy="247.27" r="1.58" fill="#111111"/><circle cx="465.98" cy="247.27" r="1.58" fill="#111111"/><circle cx="481.46" cy="244.41" r="1.58" fill="#111111"/><circle cx="496.93" cy="249.36" r="1.58" fill="#111111"/>
<polyline points="388.62,253.21 390.45,253.92 392.29,254.7 394.12,255.53 395.96,256.42 397.8,257.38 399.63,258.39 401.47,259.47 403.3,260.6 405.14,261.78 406.98,263.01 408.81,264.28 410.65,265.59 412.48,266.92 414.32,268.27 416.15,269.63 417.99,270.99 419.83,272.34 421.66,273.67 423.5,274.98 425.33,276.25 427.17,277.47 429,278.66 430.84,279.78 432.68,280.86 434.51,281.87 436.35,282.82 438.18,283.71 440.02,284.54 441.86,285.31 443.69,286.02 445.53,286.68 447.36,287.28 449.2,287.83 451.03,288.33 452.87,288.79 454.71,289.2 456.54,289.58 458.38,289.92 460.21,290.22 462.05,290.5 463.88,290.75 465.72,290.97 467.56,291.17 469.39,291.35 471.23,291.51 473.06,291.66 474.9,291.79 476.73,291.9 478.57,292.01 480.41,292.1 482.24,292.18 484.08,292.26 485.91,292.32 487.75,292.38 489.59,292.43 491.42,292.48 493.26,292.52 495.09,292.56 496.93,292.59" fill="none" stroke="#2fae4c" stroke-width="1.15" stroke-linejoin="round"/>
<path d="M388.62 252.04V255.02M386.82 252.04h3.6M386.82 255.02h3.6M404.09 257.4V263.35M402.29 257.4h3.6M402.29 263.35h3.6M419.56 271.1V274.07M417.76 271.1h3.6M417.76 274.07h3.6M465.98 289.26V294.03M464.18 289.26h3.6M464.18 294.03h3.6M496.93 292.54V294.92M495.13 292.54h3.6M495.13 294.92h3.6" stroke="#2fae4c" stroke-width="0.9" fill="none"/>
<rect x="387.12" y="252.03" width="3" height="3" fill="#2fae4c"/><rect x="402.59" y="258.88" width="3" height="3" fill="#2fae4c"/><rect x="418.06" y="271.09" width="3" height="3" fill="#2fae4c"/><rect x="433.54" y="281.21" width="3" height="3" fill="#2fae4c"/><rect x="449.01" y="285.53" width="3" height="3" fill="#2fae4c"/><rect x="464.48" y="290.15" width="3" height="3" fill="#2fae4c"/><rect x="479.96" y="289.43" width="3" height="3" fill="#2fae4c"/><rect x="495.43" y="292.23" width="3" height="3" fill="#2fae4c"/>
<path d="M49.3 374.8H177" stroke="#333" stroke-width="0.75" stroke-dasharray="1.1 1.1"/>
<path d="M49.3 340.9V442.6H177" stroke="#111" stroke-width="1" fill="none"/>
<path d="M46.9 442.6H49.3M46.9 408.7H49.3M46.9 374.8H49.3M46.9 340.9H49.3M49 442.6v2.6M56.71 442.6v1.4M61.21 442.6v1.4M64.41 442.6v1.4M66.89 442.6v1.4M68.92 442.6v1.4M70.63 442.6v1.4M72.12 442.6v1.4M73.43 442.6v1.4M74.6 442.6v2.6M82.31 442.6v1.4M86.81 442.6v1.4M90.01 442.6v1.4M92.49 442.6v1.4M94.52 442.6v1.4M96.23 442.6v1.4M97.72 442.6v1.4M99.03 442.6v1.4M100.2 442.6v2.6M107.91 442.6v1.4M112.41 442.6v1.4M115.61 442.6v1.4M118.09 442.6v1.4M120.12 442.6v1.4M121.83 442.6v1.4M123.32 442.6v1.4M124.63 442.6v1.4M125.8 442.6v2.6M133.51 442.6v1.4M138.01 442.6v1.4M141.21 442.6v1.4M143.69 442.6v1.4M145.72 442.6v1.4M147.43 442.6v1.4M148.92 442.6v1.4M150.23 442.6v1.4M151.4 442.6v2.6M159.11 442.6v1.4M163.61 442.6v1.4M166.81 442.6v1.4M169.29 442.6v1.4M171.32 442.6v1.4M173.03 442.6v1.4M174.52 442.6v1.4M175.83 442.6v1.4M177 442.6v2.6" stroke="#111" stroke-width="0.8"/>
<g font-family="'Liberation Sans', Arial, sans-serif" font-weight="bold" font-size="6.3" text-anchor="end">
<text x="46.5" y="444.87">0</text>
<text x="46.5" y="410.97">50</text>
<text x="46.5" y="377.07">100</text>
<text x="46.5" y="343.17">150</text>
</g>
<g font-family="'Liberation Sans', Arial, sans-serif" font-weight="bold" font-size="6.6" text-anchor="middle">
<text x="74.6" y="452.2">0.01</text>
<text x="100.2" y="452.2">0.1</text>
<text x="125.8" y="452.2">1</text>
<text x="151.4" y="452.2">10</text>
<text x="177" y="452.2">100</text>
</g>
<text x="113" y="460.5" text-anchor="middle" font-family="'Liberation Sans', Arial, sans-serif" font-weight="bold" font-size="6.5">[Antibody] (µg/mL)</text>
<polyline points="61.67,370.05 77.08,381.92 92.49,383.21 107.91,377.51 123.32,377.51 138.73,381.92 154.14,386.33 169.56,380.9" fill="none" stroke="#7d9dbb" stroke-width="1.15" stroke-linejoin="round"/>
<path d="M61.67 366.66V373.44M59.87 366.66h3.6M59.87 373.44h3.6M77.08 379.89V383.95M75.28 379.89h3.6M75.28 383.95h3.6M92.49 380.5V385.92M90.69 380.5h3.6M90.69 385.92h3.6M107.91 373.44V381.58M106.11 373.44h3.6M106.11 381.58h3.6M123.32 374.8V380.22M121.52 374.8h3.6M121.52 380.22h3.6M138.73 379.89V383.95M136.93 379.89h3.6M136.93 383.95h3.6M154.14 383.61V389.04M152.34 383.61h3.6M152.34 389.04h3.6M169.56 375.48V386.33M167.76 375.48h3.6M167.76 386.33h3.6" stroke="#7d9dbb" stroke-width="0.9" fill="none"/>
<path d="M61.67 368.1L63.47 370.05L61.67 372L59.87 370.05Z" fill="#7d9dbb"/><path d="M77.08 379.97L78.88 381.92L77.08 383.87L75.28 381.92Z" fill="#7d9dbb"/><path d="M92.49 381.26L94.29 383.21L92.49 385.16L90.69 383.21Z" fill="#7d9dbb"/><path d="M107.91 375.56L109.71 377.51L107.91 379.46L106.11 377.51Z" fill="#7d9dbb"/><path d="M123.32 375.56L125.12 377.51L123.32 379.46L121.52 377.51Z" fill="#7d9dbb"/><path d="M138.73 379.97L140.53 381.92L138.73 383.87L136.93 381.92Z" fill="#7d9dbb"/><path d="M154.14 384.38L155.94 386.33L154.14 388.28L152.34 386.33Z" fill="#7d9dbb"/><path d="M169.56 378.95L171.36 380.9L169.56 382.85L167.76 380.9Z" fill="#7d9dbb"/>
<polyline points="61.67,384.29 77.08,380.9 92.49,387.48 107.91,375.68 123.32,391.34 138.73,381.58 154.14,380.22 169.56,371.41" fill="none" stroke="#111111" stroke-width="1.15" stroke-linejoin="round"/>
<path d="M61.67 381.58V387M59.87 381.58h3.6M59.87 387h3.6M77.08 378.19V383.61M75.28 378.19h3.6M75.28 383.61h3.6M92.49 385.44V389.51M90.69 385.44h3.6M90.69 389.51h3.6M107.91 370.26V381.11M106.11 370.26h3.6M106.11 381.11h3.6M123.32 387.28V395.41M121.52 387.28h3.6M121.52 395.41h3.6M138.73 380.22V382.94M136.93 380.22h3.6M136.93 382.94h3.6M154.14 377.51V382.94M152.34 377.51h3.6M152.34 382.94h3.6M169.56 368.7V374.12M167.76 368.7h3.6M167.76 374.12h3.6" stroke="#111111" stroke-width="0.9" fill="none"/>
<circle cx="61.67" cy="384.29" r="1.58" fill="#111111"/><circle cx="77.08" cy="380.9" r="1.58" fill="#111111"/><circle cx="92.49" cy="387.48" r="1.58" fill="#111111"/><circle cx="107.91" cy="375.68" r="1.58" fill="#111111"/><circle cx="123.32" cy="391.34" r="1.58" fill="#111111"/><circle cx="138.73" cy="381.58" r="1.58" fill="#111111"/><circle cx="154.14" cy="380.22" r="1.58" fill="#111111"/><circle cx="169.56" cy="371.41" r="1.58" fill="#111111"/>
<polyline points="61.67,368.7 77.08,365.04 92.49,376.83 107.91,368.02 123.32,380.9 138.73,372.77 154.14,378.19 169.56,372.09" fill="none" stroke="#3a4f9e" stroke-width="1.15" stroke-linejoin="round"/>
<path d="M61.67 365.99V371.41M59.87 365.99h3.6M59.87 371.41h3.6M77.08 362.32V367.75M75.28 362.32h3.6M75.28 367.75h3.6M92.49 374.12V379.55M90.69 374.12h3.6M90.69 379.55h3.6M107.91 363.95V372.09M106.11 363.95h3.6M106.11 372.09h3.6M123.32 378.19V383.61M121.52 378.19h3.6M121.52 383.61h3.6M138.73 370.73V374.8M136.93 370.73h3.6M136.93 374.8h3.6M154.14 375.48V380.9M152.34 375.48h3.6M152.34 380.9h3.6M169.56 369.38V374.8M167.76 369.38h3.6M167.76 374.8h3.6" stroke="#3a4f9e" stroke-width="0.9" fill="none"/>
<circle cx="61.67" cy="368.7" r="1.58" fill="#3a4f9e"/><circle cx="77.08" cy="365.04" r="1.58" fill="#3a4f9e"/><circle cx="92.49" cy="376.83" r="1.58" fill="#3a4f9e"/><circle cx="107.91" cy="368.02" r="1.58" fill="#3a4f9e"/><circle cx="123.32" cy="380.9" r="1.58" fill="#3a4f9e"/><circle cx="138.73" cy="372.77" r="1.58" fill="#3a4f9e"/><circle cx="154.14" cy="378.19" r="1.58" fill="#3a4f9e"/><circle cx="169.56" cy="372.09" r="1.58" fill="#3a4f9e"/>
<polyline points="57.83,369.38 59.72,369.38 61.62,369.38 63.51,369.38 65.4,369.38 67.3,369.38 69.19,369.38 71.08,369.39 72.98,369.57 74.87,371.43 76.77,383.99 78.66,402.94 80.55,407.49 82.45,407.97 84.34,408.02 86.23,408.02 88.13,408.02 90.02,408.02 91.92,408.02 93.81,408.02 95.7,408.02 97.6,408.02 99.49,408.02 101.38,408.02 103.28,408.02 105.17,408.02 107.06,408.02 108.96,408.02 110.85,408.02 112.75,408.02 114.64,408.02 116.53,408.02 118.43,408.02 120.32,408.02 122.21,408.02 124.11,408.02 126,408.02 127.9,408.02 129.79,408.02 131.68,408.02 133.58,408.02 135.47,408.02 137.36,408.02 139.26,408.02 141.15,408.02 143.05,408.02 144.94,408.02 146.83,408.02 148.73,408.02 150.62,408.02 152.51,408.02 154.41,408.02 156.3,408.02 158.2,408.02 160.09,408.02 161.98,408.02 163.88,408.02 165.77,408.02 167.66,408.02 169.56,408.02" fill="none" stroke="#a8742e" stroke-width="1.15" stroke-linejoin="round"/>
<path d="M61.67 366.66V372.09M59.87 366.66h3.6M59.87 372.09h3.6M77.08 385.65V391.07M75.28 385.65h3.6M75.28 391.07h3.6M92.49 411.07V415.14M90.69 411.07h3.6M90.69 415.14h3.6M107.91 405.31V410.73M106.11 405.31h3.6M106.11 410.73h3.6M138.73 398.53V409.38M136.93 398.53h3.6M136.93 409.38h3.6M154.14 400.56V407.34M152.34 400.56h3.6M152.34 407.34h3.6" stroke="#a8742e" stroke-width="0.9" fill="none"/>
<path d="M59.87 367.88L63.47 367.88L61.67 371.18Z" fill="#a8742e"/><path d="M75.28 386.86L78.88 386.86L77.08 390.16Z" fill="#a8742e"/><path d="M90.69 411.61L94.29 411.61L92.49 414.91Z" fill="#a8742e"/><path d="M106.11 406.52L109.71 406.52L107.91 409.82Z" fill="#a8742e"/><path d="M121.52 405.17L125.12 405.17L123.32 408.47Z" fill="#a8742e"/><path d="M136.93 402.45L140.53 402.45L138.73 405.75Z" fill="#a8742e"/><path d="M152.34 402.45L155.94 402.45L154.14 405.75Z" fill="#a8742e"/><path d="M167.76 409.91L171.36 409.91L169.56 413.21Z" fill="#a8742e"/>
<polyline points="61.67,387.35 63.5,387.46 65.33,387.6 67.15,387.78 68.98,387.99 70.81,388.25 72.64,388.57 74.47,388.97 76.3,389.45 78.13,390.03 79.95,390.74 81.78,391.58 83.61,392.57 85.44,393.73 87.27,395.08 89.1,396.61 90.93,398.33 92.75,400.21 94.58,402.25 96.41,404.39 98.24,406.59 100.07,408.8 101.9,410.98 103.73,413.06 105.56,415 107.38,416.79 109.21,418.39 111.04,419.81 112.87,421.04 114.7,422.1 116.53,422.99 118.36,423.75 120.18,424.37 122.01,424.89 123.84,425.32 125.67,425.67 127.5,425.95 129.33,426.18 131.16,426.37 132.98,426.52 134.81,426.65 136.64,426.74 138.47,426.82 140.3,426.89 142.13,426.94 143.96,426.98 145.79,427.01 147.61,427.04 149.44,427.06 151.27,427.08 153.1,427.09 154.93,427.11 156.76,427.11 158.59,427.12 160.41,427.13 162.24,427.13 164.07,427.14 165.9,427.14 167.73,427.14 169.56,427.14" fill="none" stroke="#2fae4c" stroke-width="1.15" stroke-linejoin="round"/>
<path d="M61.67 381.85V392.7M59.87 381.85h3.6M59.87 392.7h3.6M77.08 387.28V392.7M75.28 387.28h3.6M75.28 392.7h3.6M92.49 396.7V402.12M90.69 396.7h3.6M90.69 402.12h3.6M107.91 415.48V420.9M106.11 415.48h3.6M106.11 420.9h3.6" stroke="#2fae4c" stroke-width="0.9" fill="none"/>
<rect x="60.17" y="385.78" width="3" height="3" fill="#2fae4c"/><rect x="75.58" y="388.49" width="3" height="3" fill="#2fae4c"/><rect x="90.99" y="397.91" width="3" height="3" fill="#2fae4c"/><rect x="106.41" y="416.69" width="3" height="3" fill="#2fae4c"/><rect x="121.82" y="422.12" width="3" height="3" fill="#2fae4c"/><rect x="137.23" y="424.83" width="3" height="3" fill="#2fae4c"/><rect x="152.64" y="426.18" width="3" height="3" fill="#2fae4c"/><rect x="168.06" y="426.52" width="3" height="3" fill="#2fae4c"/>
<path d="M209.5 391.2H337.7" stroke="#333" stroke-width="0.75" stroke-dasharray="1.1 1.1"/>
<path d="M209.5 373.42H337.7" stroke="#333" stroke-width="0.75" stroke-dasharray="1.1 1.1"/>
<text x="206.5" y="375.72" text-anchor="end" font-family="'Liberation Sans', Arial, sans-serif" font-weight="bold" font-size="6.3">EGF</text>
<path d="M209.5 339.8V442.6H337.7" stroke="#111" stroke-width="1" fill="none"/>
<path d="M207.1 442.6H209.5M207.1 416.9H209.5M207.1 391.2H209.5M207.1 365.5H209.5M207.1 339.8H209.5M209.2 442.6v2.6M216.94 442.6v1.4M221.46 442.6v1.4M224.67 442.6v1.4M227.16 442.6v1.4M229.2 442.6v1.4M230.92 442.6v1.4M232.41 442.6v1.4M233.72 442.6v1.4M234.9 442.6v2.6M242.64 442.6v1.4M247.16 442.6v1.4M250.37 442.6v1.4M252.86 442.6v1.4M254.9 442.6v1.4M256.62 442.6v1.4M258.11 442.6v1.4M259.42 442.6v1.4M260.6 442.6v2.6M268.34 442.6v1.4M272.86 442.6v1.4M276.07 442.6v1.4M278.56 442.6v1.4M280.6 442.6v1.4M282.32 442.6v1.4M283.81 442.6v1.4M285.12 442.6v1.4M286.3 442.6v2.6M294.04 442.6v1.4M298.56 442.6v1.4M301.77 442.6v1.4M304.26 442.6v1.4M306.3 442.6v1.4M308.02 442.6v1.4M309.51 442.6v1.4M310.82 442.6v1.4M312 442.6v2.6M319.74 442.6v1.4M324.26 442.6v1.4M327.47 442.6v1.4M329.96 442.6v1.4M332 442.6v1.4M333.72 442.6v1.4M335.21 442.6v1.4M336.52 442.6v1.4M337.7 442.6v2.6" stroke="#111" stroke-width="0.8"/>
<g font-family="'Liberation Sans', Arial, sans-serif" font-weight="bold" font-size="6.3" text-anchor="end">
<text x="206.7" y="444.87">0</text>
<text x="206.7" y="419.17">50</text>
<text x="206.7" y="393.47">100</text>
<text x="206.7" y="367.77">150</text>
<text x="206.7" y="342.07">200</text>
</g>
<g font-family="'Liberation Sans', Arial, sans-serif" font-weight="bold" font-size="6.6" text-anchor="middle">
<text x="234.9" y="452.2">0.01</text>
<text x="260.6" y="452.2">0.1</text>
<text x="286.3" y="452.2">1</text>
<text x="312" y="452.2">10</text>
<text x="337.7" y="452.2">100</text>
</g>
<text x="275.2" y="460.5" text-anchor="middle" font-family="'Liberation Sans', Arial, sans-serif" font-weight="bold" font-size="6.5">[Antibody] (µg/mL)</text>
<polyline points="221.92,363.75 237.39,366.17 252.86,375.06 268.34,369.66 283.81,364.27 299.28,368.33 314.76,369.66 330.23,374.24" fill="none" stroke="#111111" stroke-width="1.15" stroke-linejoin="round"/>
<path d="M221.92 360.67V366.84M220.12 360.67h3.6M220.12 366.84h3.6M237.39 365.14V367.2M235.59 365.14h3.6M235.59 367.2h3.6M252.86 365.81V384.31M251.06 365.81h3.6M251.06 384.31h3.6M268.34 368.12V371.21M266.54 368.12h3.6M266.54 371.21h3.6M283.81 363.24V365.29M282.01 363.24h3.6M282.01 365.29h3.6M299.28 362.16V374.5M297.48 362.16h3.6M297.48 374.5h3.6M314.76 367.09V372.23M312.96 367.09h3.6M312.96 372.23h3.6M330.23 373.21V375.27M328.43 373.21h3.6M328.43 375.27h3.6" stroke="#111111" stroke-width="0.9" fill="none"/>
<circle cx="221.92" cy="363.75" r="1.58" fill="#111111"/><circle cx="237.39" cy="366.17" r="1.58" fill="#111111"/><circle cx="252.86" cy="375.06" r="1.58" fill="#111111"/><circle cx="268.34" cy="369.66" r="1.58" fill="#111111"/><circle cx="283.81" cy="364.27" r="1.58" fill="#111111"/><circle cx="299.28" cy="368.33" r="1.58" fill="#111111"/><circle cx="314.76" cy="369.66" r="1.58" fill="#111111"/><circle cx="330.23" cy="374.24" r="1.58" fill="#111111"/>
<polyline points="221.92,365.9 223.75,366.08 225.59,366.25 227.42,366.44 229.26,366.62 231.1,366.82 232.93,367.01 234.77,367.22 236.6,367.43 238.44,367.64 240.28,367.87 242.11,368.09 243.95,368.33 245.78,368.57 247.62,368.81 249.45,369.06 251.29,369.32 253.13,369.59 254.96,369.86 256.8,370.14 258.63,370.43 260.47,370.72 262.3,371.03 264.14,371.34 265.98,371.65 267.81,371.98 269.65,372.31 271.48,372.65 273.32,373 275.16,373.35 276.99,373.72 278.83,374.09 280.66,374.47 282.5,374.86 284.33,375.25 286.17,375.66 288.01,376.07 289.84,376.5 291.68,376.93 293.51,377.37 295.35,377.81 297.18,378.27 299.02,378.74 300.86,379.21 302.69,379.69 304.53,380.18 306.36,380.68 308.2,381.19 310.03,381.7 311.87,382.23 313.71,382.76 315.54,383.3 317.38,383.85 319.21,384.4 321.05,384.97 322.89,385.54 324.72,386.12 326.56,386.7 328.39,387.3 330.23,387.89" fill="none" stroke="#7d9dbb" stroke-width="1.15" stroke-linejoin="round"/>
<path d="M221.92 368.07V373.21M220.12 368.07h3.6M220.12 373.21h3.6M237.39 369.1V374.24M235.59 369.1h3.6M235.59 374.24h3.6M252.86 370.13V378.35M251.06 370.13h3.6M251.06 378.35h3.6M268.34 374.24V379.38M266.54 374.24h3.6M266.54 379.38h3.6M283.81 375.78V380.92M282.01 375.78h3.6M282.01 380.92h3.6M299.28 376.81V381.95M297.48 376.81h3.6M297.48 381.95h3.6M314.76 379.38V384.52M312.96 379.38h3.6M312.96 384.52h3.6M330.23 382.46V387.6M328.43 382.46h3.6M328.43 387.6h3.6" stroke="#7d9dbb" stroke-width="0.9" fill="none"/>
<path d="M221.92 368.69L223.72 370.64L221.92 372.59L220.12 370.64Z" fill="#7d9dbb"/><path d="M237.39 369.72L239.19 371.67L237.39 373.62L235.59 371.67Z" fill="#7d9dbb"/><path d="M252.86 372.29L254.66 374.24L252.86 376.19L251.06 374.24Z" fill="#7d9dbb"/><path d="M268.34 374.86L270.14 376.81L268.34 378.76L266.54 376.81Z" fill="#7d9dbb"/><path d="M283.81 376.4L285.61 378.35L283.81 380.3L282.01 378.35Z" fill="#7d9dbb"/><path d="M299.28 377.43L301.08 379.38L299.28 381.33L297.48 379.38Z" fill="#7d9dbb"/><path d="M314.76 380L316.56 381.95L314.76 383.9L312.96 381.95Z" fill="#7d9dbb"/><path d="M330.23 383.08L332.03 385.03L330.23 386.98L328.43 385.03Z" fill="#7d9dbb"/>
<polyline points="221.92,366.12 223.75,366.32 225.59,366.52 227.42,366.73 229.26,366.95 231.1,367.17 232.93,367.4 234.77,367.63 236.6,367.88 238.44,368.13 240.28,368.39 242.11,368.65 243.95,368.93 245.78,369.21 247.62,369.5 249.45,369.8 251.29,370.1 253.13,370.42 254.96,370.74 256.8,371.07 258.63,371.41 260.47,371.77 262.3,372.13 264.14,372.5 265.98,372.87 267.81,373.26 269.65,373.66 271.48,374.07 273.32,374.49 275.16,374.92 276.99,375.36 278.83,375.8 280.66,376.26 282.5,376.73 284.33,377.21 286.17,377.7 288.01,378.2 289.84,378.71 291.68,379.23 293.51,379.77 295.35,380.31 297.18,380.86 299.02,381.42 300.86,381.99 302.69,382.58 304.53,383.17 306.36,383.77 308.2,384.38 310.03,385 311.87,385.63 313.71,386.27 315.54,386.91 317.38,387.57 319.21,388.23 321.05,388.9 322.89,389.58 324.72,390.26 326.56,390.95 328.39,391.65 330.23,392.36" fill="none" stroke="#3a4f9e" stroke-width="1.15" stroke-linejoin="round"/>
<path d="M221.92 369.87V375.01M220.12 369.87h3.6M220.12 375.01h3.6M237.39 370.64V375.78M235.59 370.64h3.6M235.59 375.78h3.6M252.86 381.95V387.09M251.06 381.95h3.6M251.06 387.09h3.6M268.34 374.75V380.92M266.54 374.75h3.6M266.54 380.92h3.6M283.81 379.07V387.29M282.01 379.07h3.6M282.01 387.29h3.6M299.28 377.07V381.18M297.48 377.07h3.6M297.48 381.18h3.6M314.76 378.45V382.56M312.96 378.45h3.6M312.96 382.56h3.6M330.23 387.86V391.97M328.43 387.86h3.6M328.43 391.97h3.6" stroke="#3a4f9e" stroke-width="0.9" fill="none"/>
<circle cx="221.92" cy="372.44" r="1.58" fill="#3a4f9e"/><circle cx="237.39" cy="373.21" r="1.58" fill="#3a4f9e"/><circle cx="252.86" cy="384.52" r="1.58" fill="#3a4f9e"/><circle cx="268.34" cy="377.84" r="1.58" fill="#3a4f9e"/><circle cx="283.81" cy="383.18" r="1.58" fill="#3a4f9e"/><circle cx="299.28" cy="379.12" r="1.58" fill="#3a4f9e"/><circle cx="314.76" cy="380.51" r="1.58" fill="#3a4f9e"/><circle cx="330.23" cy="389.92" r="1.58" fill="#3a4f9e"/>
<polyline points="221.92,368.75 223.75,369.6 225.59,370.65 227.42,371.9 229.26,373.37 231.1,375.06 232.93,376.96 234.77,379.01 236.6,381.17 238.44,383.36 240.28,385.52 242.11,387.57 243.95,389.45 245.78,391.13 247.62,392.59 249.45,393.83 251.29,394.86 253.13,395.71 254.96,396.39 256.8,396.94 258.63,397.38 260.47,397.72 262.3,397.99 264.14,398.2 265.98,398.36 267.81,398.48 269.65,398.58 271.48,398.66 273.32,398.72 275.16,398.76 276.99,398.79 278.83,398.82 280.66,398.84 282.5,398.86 284.33,398.87 286.17,398.88 288.01,398.89 289.84,398.89 291.68,398.9 293.51,398.9 295.35,398.9 297.18,398.9 299.02,398.91 300.86,398.91 302.69,398.91 304.53,398.91 306.36,398.91 308.2,398.91 310.03,398.91 311.87,398.91 313.71,398.91 315.54,398.91 317.38,398.91 319.21,398.91 321.05,398.91 322.89,398.91 324.72,398.91 326.56,398.91 328.39,398.91 330.23,398.91" fill="none" stroke="#a8742e" stroke-width="1.15" stroke-linejoin="round"/>
<path d="M221.92 366.01V371.15M220.12 366.01h3.6M220.12 371.15h3.6M237.39 384.52V389.66M235.59 384.52h3.6M235.59 389.66h3.6M252.86 394.8V398.91M251.06 394.8h3.6M251.06 398.91h3.6M268.34 396.85V398.91M266.54 396.85h3.6M266.54 398.91h3.6M283.81 394.28V399.42M282.01 394.28h3.6M282.01 399.42h3.6M299.28 396.85V398.91M297.48 396.85h3.6M297.48 398.91h3.6M314.76 398.91V400.97M312.96 398.91h3.6M312.96 400.97h3.6M330.23 395.83V403.02M328.43 395.83h3.6M328.43 403.02h3.6" stroke="#a8742e" stroke-width="0.9" fill="none"/>
<path d="M220.12 367.08L223.72 367.08L221.92 370.38Z" fill="#a8742e"/><path d="M235.59 385.59L239.19 385.59L237.39 388.89Z" fill="#a8742e"/><path d="M251.06 395.35L254.66 395.35L252.86 398.65Z" fill="#a8742e"/><path d="M266.54 396.38L270.14 396.38L268.34 399.68Z" fill="#a8742e"/><path d="M282.01 395.35L285.61 395.35L283.81 398.65Z" fill="#a8742e"/><path d="M297.48 396.38L301.08 396.38L299.28 399.68Z" fill="#a8742e"/><path d="M312.96 398.44L316.56 398.44L314.76 401.74Z" fill="#a8742e"/><path d="M328.43 397.92L332.03 397.92L330.23 401.22Z" fill="#a8742e"/>
<polyline points="221.92,366.87 223.75,367.56 225.59,368.34 227.42,369.21 229.26,370.18 231.1,371.26 232.93,372.46 234.77,373.77 236.6,375.21 238.44,376.78 240.28,378.47 242.11,380.28 243.95,382.22 245.78,384.26 247.62,386.4 249.45,388.63 251.29,390.92 253.13,393.25 254.96,395.6 256.8,397.96 258.63,400.29 260.47,402.57 262.3,404.79 264.14,406.92 265.98,408.95 267.81,410.88 269.65,412.68 271.48,414.36 273.32,415.92 275.16,417.34 276.99,418.65 278.83,419.83 280.66,420.9 282.5,421.86 284.33,422.72 286.17,423.49 288.01,424.18 289.84,424.78 291.68,425.32 293.51,425.8 295.35,426.22 297.18,426.59 299.02,426.91 300.86,427.19 302.69,427.44 304.53,427.66 306.36,427.85 308.2,428.02 310.03,428.16 311.87,428.29 313.71,428.4 315.54,428.5 317.38,428.58 319.21,428.66 321.05,428.72 322.89,428.78 324.72,428.82 326.56,428.87 328.39,428.9 330.23,428.93" fill="none" stroke="#2fae4c" stroke-width="1.15" stroke-linejoin="round"/>
<path d="M221.92 366.01V371.15M220.12 366.01h3.6M220.12 371.15h3.6M237.39 370.9V373.98M235.59 370.9h3.6M235.59 373.98h3.6M252.86 393.26V397.37M251.06 393.26h3.6M251.06 397.37h3.6M268.34 410.32V412.38M266.54 410.32h3.6M266.54 412.38h3.6M283.81 420.55V422.61M282.01 420.55h3.6M282.01 422.61h3.6M299.28 423.79V425.84M297.48 423.79h3.6M297.48 425.84h3.6M314.76 427.8V429.85M312.96 427.8h3.6M312.96 429.85h3.6M330.23 429.96V432.01M328.43 429.96h3.6M328.43 432.01h3.6" stroke="#2fae4c" stroke-width="0.9" fill="none"/>
<rect x="220.42" y="367.08" width="3" height="3" fill="#2fae4c"/><rect x="235.89" y="370.94" width="3" height="3" fill="#2fae4c"/><rect x="251.36" y="393.81" width="3" height="3" fill="#2fae4c"/><rect x="266.84" y="409.85" width="3" height="3" fill="#2fae4c"/><rect x="282.31" y="420.08" width="3" height="3" fill="#2fae4c"/><rect x="297.78" y="423.32" width="3" height="3" fill="#2fae4c"/><rect x="313.26" y="427.32" width="3" height="3" fill="#2fae4c"/><rect x="328.73" y="429.48" width="3" height="3" fill="#2fae4c"/>
<path d="M375.6 390.8H504.4" stroke="#333" stroke-width="0.75" stroke-dasharray="1.1 1.1"/>
<path d="M375.6 357.32H504.4" stroke="#333" stroke-width="0.75" stroke-dasharray="1.1 1.1"/>
<text x="372.6" y="359.62" text-anchor="end" font-family="'Liberation Sans', Arial, sans-serif" font-weight="bold" font-size="6.3">NRG</text>
<path d="M375.6 339.3V442.3H504.4" stroke="#111" stroke-width="1" fill="none"/>
<path d="M373.2 442.3H375.6M373.2 416.55H375.6M373.2 390.8H375.6M373.2 365.05H375.6M373.2 339.3H375.6M375.9 442.3v2.6M383.64 442.3v1.4M388.16 442.3v1.4M391.37 442.3v1.4M393.86 442.3v1.4M395.9 442.3v1.4M397.62 442.3v1.4M399.11 442.3v1.4M400.42 442.3v1.4M401.6 442.3v2.6M409.34 442.3v1.4M413.86 442.3v1.4M417.07 442.3v1.4M419.56 442.3v1.4M421.6 442.3v1.4M423.32 442.3v1.4M424.81 442.3v1.4M426.12 442.3v1.4M427.3 442.3v2.6M435.04 442.3v1.4M439.56 442.3v1.4M442.77 442.3v1.4M445.26 442.3v1.4M447.3 442.3v1.4M449.02 442.3v1.4M450.51 442.3v1.4M451.82 442.3v1.4M453 442.3v2.6M460.74 442.3v1.4M465.26 442.3v1.4M468.47 442.3v1.4M470.96 442.3v1.4M473 442.3v1.4M474.72 442.3v1.4M476.21 442.3v1.4M477.52 442.3v1.4M478.7 442.3v2.6M486.44 442.3v1.4M490.96 442.3v1.4M494.17 442.3v1.4M496.66 442.3v1.4M498.7 442.3v1.4M500.42 442.3v1.4M501.91 442.3v1.4M503.22 442.3v1.4M504.4 442.3v2.6" stroke="#111" stroke-width="0.8"/>
<g font-family="'Liberation Sans', Arial, sans-serif" font-weight="bold" font-size="6.3" text-anchor="end">
<text x="372.8" y="444.57">0</text>
<text x="372.8" y="418.82">50</text>
<text x="372.8" y="393.07">100</text>
<text x="372.8" y="367.32">150</text>
<text x="372.8" y="341.57">200</text>
</g>
<g font-family="'Liberation Sans', Arial, sans-serif" font-weight="bold" font-size="6.6" text-anchor="middle">
<text x="401.6" y="451.9">0.01</text>
<text x="427.3" y="451.9">0.1</text>
<text x="453" y="451.9">1</text>
<text x="478.7" y="451.9">10</text>
<text x="504.4" y="451.9">100</text>
</g>
<text x="440.15" y="460.2" text-anchor="middle" font-family="'Liberation Sans', Arial, sans-serif" font-weight="bold" font-size="6.5">[Antibody] (µg/mL)</text>
<polyline points="388.62,342.85 390.45,343.11 392.29,343.43 394.12,343.83 395.96,344.32 397.8,344.91 399.63,345.62 401.47,346.46 403.3,347.44 405.14,348.55 406.98,349.78 408.81,351.11 410.65,352.5 412.48,353.93 414.32,355.34 416.15,356.7 417.99,357.97 419.83,359.12 421.66,360.14 423.5,361.03 425.33,361.79 427.17,362.42 429,362.94 430.84,363.37 432.68,363.72 434.51,363.99 436.35,364.22 438.18,364.39 440.02,364.53 441.86,364.64 443.69,364.73 445.53,364.8 447.36,364.85 449.2,364.9 451.03,364.93 452.87,364.96 454.71,364.98 456.54,364.99 458.38,365.01 460.21,365.02 462.05,365.02 463.88,365.03 465.72,365.03 467.56,365.04 469.39,365.04 471.23,365.04 473.06,365.04 474.9,365.05 476.73,365.05 478.57,365.05 480.41,365.05 482.24,365.05 484.08,365.05 485.91,365.05 487.75,365.05 489.59,365.05 491.42,365.05 493.26,365.05 495.09,365.05 496.93,365.05" fill="none" stroke="#a8742e" stroke-width="1.15" stroke-linejoin="round"/>
<path d="M388.62 336.73V347.02M386.82 336.73h3.6M386.82 347.02h3.6M404.09 345.48V353.72M402.29 345.48h3.6M402.29 353.72h3.6M419.56 357.32V362.47M417.76 357.32h3.6M417.76 362.47h3.6M435.04 364.54V372.78M433.24 364.54h3.6M433.24 372.78h3.6M450.51 362.48V367.62M448.71 362.48h3.6M448.71 367.62h3.6M465.98 357.32V372.78M464.18 357.32h3.6M464.18 372.78h3.6M481.46 355.78V374.32M479.66 355.78h3.6M479.66 374.32h3.6M496.93 360.93V369.17M495.13 360.93h3.6M495.13 369.17h3.6" stroke="#a8742e" stroke-width="0.9" fill="none"/>
<path d="M386.82 340.38L390.42 340.38L388.62 343.68Z" fill="#a8742e"/><path d="M402.29 348.1L405.89 348.1L404.09 351.4Z" fill="#a8742e"/><path d="M417.76 358.4L421.36 358.4L419.56 361.7Z" fill="#a8742e"/><path d="M433.24 367.16L436.84 367.16L435.04 370.46Z" fill="#a8742e"/><path d="M448.71 363.55L452.31 363.55L450.51 366.85Z" fill="#a8742e"/><path d="M464.18 363.55L467.78 363.55L465.98 366.85Z" fill="#a8742e"/><path d="M479.66 363.55L483.26 363.55L481.46 366.85Z" fill="#a8742e"/><path d="M495.13 363.55L498.73 363.55L496.93 366.85Z" fill="#a8742e"/>
<polyline points="388.62,353.96 390.45,354.21 392.29,354.5 394.12,354.82 395.96,355.16 397.8,355.52 399.63,355.92 401.47,356.33 403.3,356.76 405.14,357.2 406.98,357.64 408.81,358.08 410.65,358.52 412.48,358.94 414.32,359.35 416.15,359.74 417.99,360.1 419.83,360.43 421.66,360.74 423.5,361.02 425.33,361.27 427.17,361.5 429,361.69 430.84,361.87 432.68,362.03 434.51,362.16 436.35,362.28 438.18,362.38 440.02,362.47 441.86,362.54 443.69,362.61 445.53,362.67 447.36,362.71 449.2,362.75 451.03,362.79 452.87,362.82 454.71,362.84 456.54,362.87 458.38,362.89 460.21,362.9 462.05,362.91 463.88,362.93 465.72,362.94 467.56,362.94 469.39,362.95 471.23,362.96 473.06,362.96 474.9,362.97 476.73,362.97 478.57,362.97 480.41,362.98 482.24,362.98 484.08,362.98 485.91,362.98 487.75,362.98 489.59,362.98 491.42,362.98 493.26,362.99 495.09,362.99 496.93,362.99" fill="none" stroke="#3a4f9e" stroke-width="1.15" stroke-linejoin="round"/>
<path d="M388.62 349.6V357.84M386.82 349.6h3.6M386.82 357.84h3.6M404.09 354.75V359.9M402.29 354.75h3.6M402.29 359.9h3.6M419.56 362.48V370.72M417.76 362.48h3.6M417.76 370.72h3.6M435.04 357.84V366.08M433.24 357.84h3.6M433.24 366.08h3.6M450.51 364.02V376.38M448.71 364.02h3.6M448.71 376.38h3.6M465.98 362.48V367.62M464.18 362.48h3.6M464.18 367.62h3.6M481.46 361.44V366.59M479.66 361.44h3.6M479.66 366.59h3.6M496.93 360.42V365.56M495.13 360.42h3.6M495.13 365.56h3.6" stroke="#3a4f9e" stroke-width="0.9" fill="none"/>
<circle cx="388.62" cy="353.72" r="1.58" fill="#3a4f9e"/><circle cx="404.09" cy="357.32" r="1.58" fill="#3a4f9e"/><circle cx="419.56" cy="366.6" r="1.58" fill="#3a4f9e"/><circle cx="435.04" cy="361.96" r="1.58" fill="#3a4f9e"/><circle cx="450.51" cy="370.2" r="1.58" fill="#3a4f9e"/><circle cx="465.98" cy="365.05" r="1.58" fill="#3a4f9e"/><circle cx="481.46" cy="364.02" r="1.58" fill="#3a4f9e"/><circle cx="496.93" cy="362.99" r="1.58" fill="#3a4f9e"/>
<polyline points="388.62,354.95 390.45,354.99 392.29,355.02 394.12,355.06 395.96,355.11 397.8,355.16 399.63,355.21 401.47,355.27 403.3,355.34 405.14,355.41 406.98,355.49 408.81,355.57 410.65,355.66 412.48,355.76 414.32,355.87 416.15,355.99 417.99,356.12 419.83,356.26 421.66,356.42 423.5,356.58 425.33,356.77 427.17,356.97 429,357.19 430.84,357.42 432.68,357.68 434.51,357.96 436.35,358.27 438.18,358.6 440.02,358.96 441.86,359.35 443.69,359.78 445.53,360.24 447.36,360.74 449.2,361.28 451.03,361.86 452.87,362.5 454.71,363.18 456.54,363.92 458.38,364.71 460.21,365.56 462.05,366.48 463.88,367.47 465.72,368.52 467.56,369.65 469.39,370.85 471.23,372.14 473.06,373.5 474.9,374.95 476.73,376.48 478.57,378.1 480.41,379.81 482.24,381.6 484.08,383.48 485.91,385.45 487.75,387.49 489.59,389.61 491.42,391.81 493.26,394.07 495.09,396.4 496.93,398.78" fill="none" stroke="#7d9dbb" stroke-width="1.15" stroke-linejoin="round"/>
<path d="M388.62 345.63V353.87M386.82 345.63h3.6M386.82 353.87h3.6M404.09 353.21V358.36M402.29 353.21h3.6M402.29 358.36h3.6M419.56 356.3V361.44M417.76 356.3h3.6M417.76 361.44h3.6M435.04 356.81V365.05M433.24 356.81h3.6M433.24 365.05h3.6M450.51 360.93V366.08M448.71 360.93h3.6M448.71 366.08h3.6M465.98 364.02V369.17M464.18 364.02h3.6M464.18 369.17h3.6M481.46 376.07V382.25M479.66 376.07h3.6M479.66 382.25h3.6M496.93 398.01V402.13M495.13 398.01h3.6M495.13 402.13h3.6" stroke="#7d9dbb" stroke-width="0.9" fill="none"/>
<path d="M388.62 347.8L390.42 349.75L388.62 351.7L386.82 349.75Z" fill="#7d9dbb"/><path d="M404.09 353.83L405.89 355.78L404.09 357.73L402.29 355.78Z" fill="#7d9dbb"/><path d="M419.56 356.92L421.36 358.87L419.56 360.82L417.76 358.87Z" fill="#7d9dbb"/><path d="M435.04 358.98L436.84 360.93L435.04 362.88L433.24 360.93Z" fill="#7d9dbb"/><path d="M450.51 361.56L452.31 363.5L450.51 365.45L448.71 363.5Z" fill="#7d9dbb"/><path d="M465.98 364.65L467.78 366.6L465.98 368.55L464.18 366.6Z" fill="#7d9dbb"/><path d="M481.46 377.21L483.26 379.16L481.46 381.11L479.66 379.16Z" fill="#7d9dbb"/><path d="M496.93 398.12L498.73 400.07L496.93 402.02L495.13 400.07Z" fill="#7d9dbb"/>
<polyline points="388.62,360.47 404.09,354.34 419.56,360.47 435.04,353.26 450.51,359.13 465.98,353.77 481.46,353.26 496.93,363.14" fill="none" stroke="#111111" stroke-width="1.15" stroke-linejoin="round"/>
<path d="M388.62 354.29V366.65M386.82 354.29h3.6M386.82 366.65h3.6M404.09 351.25V357.43M402.29 351.25h3.6M402.29 357.43h3.6M419.56 357.38V363.56M417.76 357.38h3.6M417.76 363.56h3.6M435.04 343.99V362.53M433.24 343.99h3.6M433.24 362.53h3.6M450.51 353.98V364.28M448.71 353.98h3.6M448.71 364.28h3.6M465.98 351.71V355.83M464.18 351.71h3.6M464.18 355.83h3.6M481.46 350.17V356.35M479.66 350.17h3.6M479.66 356.35h3.6M496.93 361.08V365.2M495.13 361.08h3.6M495.13 365.2h3.6" stroke="#111111" stroke-width="0.9" fill="none"/>
<circle cx="388.62" cy="360.47" r="1.58" fill="#111111"/><circle cx="404.09" cy="354.34" r="1.58" fill="#111111"/><circle cx="419.56" cy="360.47" r="1.58" fill="#111111"/><circle cx="435.04" cy="353.26" r="1.58" fill="#111111"/><circle cx="450.51" cy="359.13" r="1.58" fill="#111111"/><circle cx="465.98" cy="353.77" r="1.58" fill="#111111"/><circle cx="481.46" cy="353.26" r="1.58" fill="#111111"/><circle cx="496.93" cy="363.14" r="1.58" fill="#111111"/>
<polyline points="388.62,348.2 390.45,349.75 392.29,351.35 394.12,353 395.96,354.7 397.8,356.44 399.63,358.22 401.47,360.04 403.3,361.9 405.14,363.78 406.98,365.68 408.81,367.61 410.65,369.56 412.48,371.51 414.32,373.47 416.15,375.43 417.99,377.38 419.83,379.32 421.66,381.25 423.5,383.16 425.33,385.04 427.17,386.9 429,388.72 430.84,390.5 432.68,392.24 434.51,393.94 436.35,395.59 438.18,397.19 440.02,398.74 441.86,400.24 443.69,401.68 445.53,403.07 447.36,404.41 449.2,405.69 451.03,406.91 452.87,408.08 454.71,409.2 456.54,410.26 458.38,411.27 460.21,412.23 462.05,413.14 463.88,414.01 465.72,414.82 467.56,415.6 469.39,416.32 471.23,417.01 473.06,417.66 474.9,418.27 476.73,418.84 478.57,419.38 480.41,419.89 482.24,420.36 484.08,420.81 485.91,421.23 487.75,421.62 489.59,421.99 491.42,422.33 493.26,422.65 495.09,422.95 496.93,423.23" fill="none" stroke="#2fae4c" stroke-width="1.15" stroke-linejoin="round"/>
<path d="M388.62 345.48V351.66M386.82 345.48h3.6M386.82 351.66h3.6M404.09 361.44V364.54M402.29 361.44h3.6M402.29 364.54h3.6M419.56 371.95V378.13M417.76 371.95h3.6M417.76 378.13h3.6M435.04 399.71V402.8M433.24 399.71h3.6M433.24 402.8h3.6M450.51 400.59V405.74M448.71 400.59h3.6M448.71 405.74h3.6M465.98 412.02V417.17M464.18 412.02h3.6M464.18 417.17h3.6M481.46 415.78V420.93M479.66 415.78h3.6M479.66 420.93h3.6M496.93 423.25V427.37M495.13 423.25h3.6M495.13 427.37h3.6" stroke="#2fae4c" stroke-width="0.9" fill="none"/>
<rect x="387.12" y="347.07" width="3" height="3" fill="#2fae4c"/><rect x="402.59" y="361.49" width="3" height="3" fill="#2fae4c"/><rect x="418.06" y="373.54" width="3" height="3" fill="#2fae4c"/><rect x="433.54" y="399.75" width="3" height="3" fill="#2fae4c"/><rect x="449.01" y="401.66" width="3" height="3" fill="#2fae4c"/><rect x="464.48" y="413.09" width="3" height="3" fill="#2fae4c"/><rect x="479.96" y="416.85" width="3" height="3" fill="#2fae4c"/><rect x="495.43" y="423.81" width="3" height="3" fill="#2fae4c"/>
<path d="M51.1 508H183.65" stroke="#333" stroke-width="0.75" stroke-dasharray="1.1 1.1"/>
<path d="M51.1 477.6V584H183.65" stroke="#111" stroke-width="1" fill="none"/>
<path d="M48.7 584H51.1M48.7 568.8H51.1M48.7 553.6H51.1M48.7 538.4H51.1M48.7 523.2H51.1M48.7 508H51.1M48.7 492.8H51.1M48.7 477.6H51.1M52.4 584v2.6M60.3 584v1.4M64.92 584v1.4M68.2 584v1.4M70.75 584v1.4M72.83 584v1.4M74.58 584v1.4M76.11 584v1.4M77.45 584v1.4M78.65 584v2.6M86.55 584v1.4M91.17 584v1.4M94.45 584v1.4M97 584v1.4M99.08 584v1.4M100.83 584v1.4M102.36 584v1.4M103.7 584v1.4M104.9 584v2.6M112.8 584v1.4M117.42 584v1.4M120.7 584v1.4M123.25 584v1.4M125.33 584v1.4M127.08 584v1.4M128.61 584v1.4M129.95 584v1.4M131.15 584v2.6M139.05 584v1.4M143.67 584v1.4M146.95 584v1.4M149.5 584v1.4M151.58 584v1.4M153.33 584v1.4M154.86 584v1.4M156.2 584v1.4M157.4 584v2.6M165.3 584v1.4M169.92 584v1.4M173.2 584v1.4M175.75 584v1.4M177.83 584v1.4M179.58 584v1.4M181.11 584v1.4M182.45 584v1.4M183.65 584v2.6" stroke="#111" stroke-width="0.8"/>
<g font-family="'Liberation Sans', Arial, sans-serif" font-weight="bold" font-size="6.6" text-anchor="end">
<text x="48.3" y="586.38">0</text>
<text x="48.3" y="571.18">20</text>
<text x="48.3" y="555.98">40</text>
<text x="48.3" y="540.78">60</text>
<text x="48.3" y="525.58">80</text>
<text x="48.3" y="510.38">100</text>
<text x="48.3" y="495.18">120</text>
<text x="48.3" y="479.98">140</text>
</g>
<g font-family="'Liberation Sans', Arial, sans-serif" font-weight="bold" font-size="6.9" text-anchor="middle">
<text x="78.65" y="593.3">0.01</text>
<text x="104.9" y="593.3">0.1</text>
<text x="131.15" y="593.3">1</text>
<text x="157.4" y="593.3">10</text>
<text x="183.65" y="593.3">100</text>
</g>
<text x="119.5" y="602.4" text-anchor="middle" font-family="'Liberation Sans', Arial, sans-serif" font-weight="bold" font-size="6.8">[Antibody] (µg/mL)</text>
<text x="118.3" y="479.4" text-anchor="middle" font-family="'Liberation Sans', Arial, sans-serif" font-weight="bold" font-size="9.1">HN5 CR2</text>
<polyline points="57.12,508 57.93,508 58.73,508 59.53,508 60.33,508 61.13,508 61.93,508 62.73,508 63.53,508 64.33,508 65.13,508 65.93,508 66.74,508 67.54,508 68.34,508 69.14,508 69.94,508 70.74,508 71.54,508 72.34,508 73.14,508 73.94,508 74.74,508 75.54,508 76.35,508 77.15,508 77.95,508 78.75,508 79.55,508 80.35,508 81.15,508 81.95,508 82.75,508 83.55,508 84.35,508 85.15,508 85.96,508 86.76,508 87.56,508 88.36,508 89.16,508 89.96,508 90.76,508 91.56,508 92.36,508 93.16,508 93.96,508 94.76,508 95.57,508 96.37,508 97.17,508 97.97,508 98.77,508 99.57,508 100.37,508 101.17,508 101.97,508 102.77,508 103.57,508 104.38,508" fill="none" stroke="#6cd0a6" stroke-width="1.15" stroke-linejoin="round"/>
<path d="M57.12 504.2V511.8M55.33 504.2h3.6M55.33 511.8h3.6M72.88 501.92V512.56M71.08 501.92h3.6M71.08 512.56h3.6M88.62 504.2V511.8M86.83 504.2h3.6M86.83 511.8h3.6M104.38 505.72V511.8M102.58 505.72h3.6M102.58 511.8h3.6" stroke="#6cd0a6" stroke-width="0.9" fill="none"/>
<path d="M57.12 506.05L58.92 508L57.12 509.95L55.33 508Z" fill="#6cd0a6"/><path d="M72.88 505.29L74.67 507.24L72.88 509.19L71.08 507.24Z" fill="#6cd0a6"/><path d="M88.62 506.05L90.42 508L88.62 509.95L86.83 508Z" fill="#6cd0a6"/><path d="M104.38 506.81L106.17 508.76L104.38 510.71L102.58 508.76Z" fill="#6cd0a6"/>
<polyline points="57.12,508 57.93,508 58.73,508 59.53,508 60.33,508 61.13,508 61.93,508 62.73,508 63.53,508 64.33,508 65.13,508 65.93,508 66.74,508 67.54,508 68.34,508 69.14,508 69.94,508 70.74,508 71.54,508 72.34,508 73.14,508 73.94,508 74.74,508 75.54,508 76.35,508 77.15,508 77.95,508 78.75,508 79.55,508 80.35,508 81.15,508 81.95,508 82.75,508 83.55,508 84.35,508 85.15,508 85.96,508 86.76,508 87.56,508 88.36,508 89.16,508 89.96,508 90.76,508 91.56,508 92.36,508 93.16,508 93.96,508 94.76,508 95.57,508 96.37,508 97.17,508 97.97,508 98.77,508 99.57,508 100.37,508 101.17,508 101.97,508 102.77,508 103.57,508 104.38,508" fill="none" stroke="#9b3d9c" stroke-width="1.15" stroke-linejoin="round"/>
<path d="M57.12 504.96V511.04M55.33 504.96h3.6M55.33 511.04h3.6M72.88 501.92V511.04M71.08 501.92h3.6M71.08 511.04h3.6M88.62 504.2V510.28M86.83 504.2h3.6M86.83 510.28h3.6M104.38 507.24V511.8M102.58 507.24h3.6M102.58 511.8h3.6" stroke="#9b3d9c" stroke-width="0.9" fill="none"/>
<path d="M55.33 506.5L58.92 506.5L57.12 509.8Z" fill="#9b3d9c"/><path d="M71.08 504.98L74.67 504.98L72.88 508.28Z" fill="#9b3d9c"/><path d="M86.83 505.74L90.42 505.74L88.62 509.04Z" fill="#9b3d9c"/><path d="M102.58 508.02L106.17 508.02L104.38 511.32Z" fill="#9b3d9c"/>
<polyline points="57.12,508 57.93,508 58.73,508 59.53,508 60.33,508 61.13,508 61.93,508 62.73,508 63.53,508 64.33,508 65.13,508 65.93,508 66.74,508 67.54,508 68.34,508 69.14,508 69.94,508 70.74,508 71.54,508 72.34,508 73.14,508 73.94,508 74.74,508 75.54,508 76.35,508 77.15,508 77.95,508 78.75,508 79.55,508 80.35,508 81.15,508 81.95,508 82.75,508 83.55,508 84.35,508 85.15,508 85.96,508 86.76,508 87.56,508 88.36,508 89.16,508 89.96,508 90.76,508 91.56,508 92.36,508 93.16,508 93.96,508 94.76,508 95.57,508 96.37,508 97.17,508 97.97,508 98.77,508 99.57,508 100.37,508 101.17,508 101.97,508 102.77,508 103.57,508 104.38,508" fill="none" stroke="#a8742e" stroke-width="1.15" stroke-linejoin="round"/>
<path d="M57.12 505.72V511.8M55.33 505.72h3.6M55.33 511.8h3.6M72.88 501.16V513.32M71.08 501.16h3.6M71.08 513.32h3.6M88.62 504.96V511.04M86.83 504.96h3.6M86.83 511.04h3.6M104.38 506.48V512.56M102.58 506.48h3.6M102.58 512.56h3.6" stroke="#a8742e" stroke-width="0.9" fill="none"/>
<path d="M55.33 507.26L58.92 507.26L57.12 510.56Z" fill="#a8742e"/><path d="M71.08 505.74L74.67 505.74L72.88 509.04Z" fill="#a8742e"/><path d="M86.83 506.5L90.42 506.5L88.62 509.8Z" fill="#a8742e"/><path d="M102.58 508.02L106.17 508.02L104.38 511.32Z" fill="#a8742e"/>
<polyline points="57.12,514.38 72.88,510.43 88.62,506.48 104.38,507.7 120.12,504.96 135.88,504.96 151.62,506.94 167.38,504.5" fill="none" stroke="#111111" stroke-width="1.15" stroke-linejoin="round"/>
<path d="M57.12 509.82V518.94M55.33 509.82h3.6M55.33 518.94h3.6M72.88 508.15V512.71M71.08 508.15h3.6M71.08 512.71h3.6M88.62 502.68V510.28M86.83 502.68h3.6M86.83 510.28h3.6M104.38 504.66V510.74M102.58 504.66h3.6M102.58 510.74h3.6M120.12 501.16V508.76M118.33 501.16h3.6M118.33 508.76h3.6M135.88 499.64V510.28M134.07 499.64h3.6M134.07 510.28h3.6M151.62 503.9V509.98M149.82 503.9h3.6M149.82 509.98h3.6M167.38 501.46V507.54M165.58 501.46h3.6M165.58 507.54h3.6" stroke="#111111" stroke-width="0.9" fill="none"/>
<circle cx="57.12" cy="514.38" r="1.58" fill="#111111"/><circle cx="72.88" cy="510.43" r="1.58" fill="#111111"/><circle cx="88.62" cy="506.48" r="1.58" fill="#111111"/><circle cx="104.38" cy="507.7" r="1.58" fill="#111111"/><circle cx="120.12" cy="504.96" r="1.58" fill="#111111"/><circle cx="135.88" cy="504.96" r="1.58" fill="#111111"/><circle cx="151.62" cy="506.94" r="1.58" fill="#111111"/><circle cx="167.38" cy="504.5" r="1.58" fill="#111111"/>
<polyline points="57.12,507.3 58.99,507.3 60.86,507.31 62.73,507.32 64.6,507.33 66.47,507.34 68.34,507.36 70.21,507.37 72.07,507.39 73.94,507.41 75.81,507.43 77.68,507.46 79.55,507.49 81.42,507.52 83.29,507.55 85.15,507.59 87.02,507.64 88.89,507.69 90.76,507.75 92.63,507.82 94.5,507.89 96.37,507.97 98.24,508.07 100.1,508.17 101.97,508.29 103.84,508.42 105.71,508.57 107.58,508.74 109.45,508.93 111.32,509.14 113.18,509.37 115.05,509.63 116.92,509.92 118.79,510.24 120.66,510.59 122.53,510.98 124.4,511.41 126.26,511.89 128.13,512.4 130,512.97 131.87,513.58 133.74,514.25 135.61,514.96 137.48,515.72 139.35,516.54 141.21,517.4 143.08,518.31 144.95,519.26 146.82,520.25 148.69,521.27 150.56,522.31 152.43,523.37 154.29,524.44 156.16,525.52 158.03,526.59 159.9,527.64 161.77,528.67 163.64,529.68 165.51,530.65 167.38,531.58" fill="none" stroke="#3a4f9e" stroke-width="1.15" stroke-linejoin="round"/>
<path d="M57.12 502.68V511.8M55.33 502.68h3.6M55.33 511.8h3.6M72.88 500.4V506.48M71.08 500.4h3.6M71.08 506.48h3.6M88.62 503.44V509.52M86.83 503.44h3.6M86.83 509.52h3.6M104.38 508V512.56M102.58 508h3.6M102.58 512.56h3.6M120.12 507.24V511.8M118.33 507.24h3.6M118.33 511.8h3.6M135.88 514.84V520.92M134.07 514.84h3.6M134.07 520.92h3.6M151.62 520.92V527M149.82 520.92h3.6M149.82 527h3.6M167.38 525.48V534.6M165.58 525.48h3.6M165.58 534.6h3.6" stroke="#3a4f9e" stroke-width="0.9" fill="none"/>
<circle cx="57.12" cy="507.24" r="1.58" fill="#3a4f9e"/><circle cx="72.88" cy="503.44" r="1.58" fill="#3a4f9e"/><circle cx="88.62" cy="506.48" r="1.58" fill="#3a4f9e"/><circle cx="104.38" cy="510.28" r="1.58" fill="#3a4f9e"/><circle cx="120.12" cy="509.52" r="1.58" fill="#3a4f9e"/><circle cx="135.88" cy="517.88" r="1.58" fill="#3a4f9e"/><circle cx="151.62" cy="523.96" r="1.58" fill="#3a4f9e"/><circle cx="167.38" cy="530.04" r="1.58" fill="#3a4f9e"/>
<polyline points="57.12,508.76 58.99,508.76 60.86,508.76 62.73,508.76 64.6,508.76 66.47,508.76 68.34,508.76 70.21,508.76 72.07,508.76 73.94,508.76 75.81,508.76 77.68,508.76 79.55,508.76 81.42,508.76 83.29,508.76 85.15,508.76 87.02,508.76 88.89,508.76 90.76,508.76 92.63,508.76 94.5,508.77 96.37,508.77 98.24,508.78 100.1,508.79 101.97,508.82 103.84,508.86 105.71,508.94 107.58,509.07 109.45,509.32 111.32,509.74 113.18,510.47 115.05,511.73 116.92,513.84 118.79,517.21 120.66,522.24 122.53,529.06 124.4,537.16 126.26,545.39 128.13,552.54 130,557.95 131.87,561.63 133.74,563.96 135.61,565.36 137.48,566.18 139.35,566.66 141.21,566.93 143.08,567.08 144.95,567.17 146.82,567.22 148.69,567.24 150.56,567.26 152.43,567.27 154.29,567.27 156.16,567.28 158.03,567.28 159.9,567.28 161.77,567.28 163.64,567.28 165.51,567.28 167.38,567.28" fill="none" stroke="#2fae4c" stroke-width="1.15" stroke-linejoin="round"/>
<path d="M57.12 504.96V511.04M55.33 504.96h3.6M55.33 511.04h3.6M72.88 505.72V513.32M71.08 505.72h3.6M71.08 513.32h3.6M88.62 504.2V511.8M86.83 504.2h3.6M86.83 511.8h3.6M104.38 507.24V514.84M102.58 507.24h3.6M102.58 514.84h3.6M120.12 518.18V527.3M118.33 518.18h3.6M118.33 527.3h3.6M135.88 563.48V569.56M134.07 563.48h3.6M134.07 569.56h3.6M151.62 565V569.56M149.82 565h3.6M149.82 569.56h3.6M167.38 565.76V568.8M165.58 565.76h3.6M165.58 568.8h3.6" stroke="#2fae4c" stroke-width="0.9" fill="none"/>
<rect x="55.62" y="506.5" width="3" height="3" fill="#2fae4c"/><rect x="71.38" y="508.02" width="3" height="3" fill="#2fae4c"/><rect x="87.12" y="506.5" width="3" height="3" fill="#2fae4c"/><rect x="102.88" y="509.54" width="3" height="3" fill="#2fae4c"/><rect x="118.62" y="521.24" width="3" height="3" fill="#2fae4c"/><rect x="134.38" y="565.02" width="3" height="3" fill="#2fae4c"/><rect x="150.12" y="565.78" width="3" height="3" fill="#2fae4c"/><rect x="165.88" y="565.78" width="3" height="3" fill="#2fae4c"/>
<path d="M56 540.3H63.2" stroke="#2fae4c" stroke-width="1"/>
<rect x="58.3" y="539" width="2.6" height="2.6" fill="#2fae4c"/>
<text x="65.6" y="542.35" font-family="'Liberation Sans', Arial, sans-serif" font-weight="bold" font-size="5.7">Pan-HER</text>
<path d="M56 547.7H63.2" stroke="#3a4f9e" stroke-width="1"/>
<circle cx="59.6" cy="547.7" r="1.37" fill="#3a4f9e"/>
<text x="65.6" y="549.75" font-family="'Liberation Sans', Arial, sans-serif" font-weight="bold" font-size="5.7">Cetuximab</text>
<path d="M56 555.1H63.2" stroke="#a8742e" stroke-width="1"/>
<path d="M58.04 553.8L61.16 553.8L59.6 556.66Z" fill="#a8742e"/>
<text x="65.6" y="557.15" font-family="'Liberation Sans', Arial, sans-serif" font-weight="bold" font-size="5.7">Trastuzumab</text>
<path d="M56 562.5H63.2" stroke="#9b3d9c" stroke-width="1"/>
<path d="M58.04 561.2L61.16 561.2L59.6 564.06Z" fill="#9b3d9c"/>
<text x="65.6" y="564.55" font-family="'Liberation Sans', Arial, sans-serif" font-weight="bold" font-size="5.7">Pertuzumab</text>
<path d="M56 569.9H63.2" stroke="#6cd0a6" stroke-width="1"/>
<path d="M59.6 568.21L61.16 569.9L59.6 571.59L58.04 569.9Z" fill="#6cd0a6"/>
<text x="65.6" y="571.95" font-family="'Liberation Sans', Arial, sans-serif" font-weight="bold" font-size="5.7">Trastuzumab+Pertuzumab</text>
<path d="M56 577.3H63.2" stroke="#111111" stroke-width="1"/>
<circle cx="59.6" cy="577.3" r="1.37" fill="#111111"/>
<text x="65.6" y="579.35" font-family="'Liberation Sans', Arial, sans-serif" font-weight="bold" font-size="5.7">Neg.control</text>
<path d="M212.5 508.19H343.1" stroke="#333" stroke-width="0.75" stroke-dasharray="1.1 1.1"/>
<path d="M212.5 477.91V583.9H343.1" stroke="#111" stroke-width="1" fill="none"/>
<path d="M210.1 583.9H212.5M210.1 568.76H212.5M210.1 553.62H212.5M210.1 538.47H212.5M210.1 523.33H212.5M210.1 508.19H212.5M210.1 493.05H212.5M210.1 477.91H212.5M212.6 583.9v2.6M220.46 583.9v1.4M225.05 583.9v1.4M228.31 583.9v1.4M230.84 583.9v1.4M232.91 583.9v1.4M234.66 583.9v1.4M236.17 583.9v1.4M237.51 583.9v1.4M238.7 583.9v2.6M246.56 583.9v1.4M251.15 583.9v1.4M254.41 583.9v1.4M256.94 583.9v1.4M259.01 583.9v1.4M260.76 583.9v1.4M262.27 583.9v1.4M263.61 583.9v1.4M264.8 583.9v2.6M272.66 583.9v1.4M277.25 583.9v1.4M280.51 583.9v1.4M283.04 583.9v1.4M285.11 583.9v1.4M286.86 583.9v1.4M288.37 583.9v1.4M289.71 583.9v1.4M290.9 583.9v2.6M298.76 583.9v1.4M303.35 583.9v1.4M306.61 583.9v1.4M309.14 583.9v1.4M311.21 583.9v1.4M312.96 583.9v1.4M314.47 583.9v1.4M315.81 583.9v1.4M317 583.9v2.6M324.86 583.9v1.4M329.45 583.9v1.4M332.71 583.9v1.4M335.24 583.9v1.4M337.31 583.9v1.4M339.06 583.9v1.4M340.57 583.9v1.4M341.91 583.9v1.4M343.1 583.9v2.6" stroke="#111" stroke-width="0.8"/>
<g font-family="'Liberation Sans', Arial, sans-serif" font-weight="bold" font-size="6.6" text-anchor="end">
<text x="209.7" y="586.28">0</text>
<text x="209.7" y="571.13">20</text>
<text x="209.7" y="555.99">40</text>
<text x="209.7" y="540.85">60</text>
<text x="209.7" y="525.71">80</text>
<text x="209.7" y="510.57">100</text>
<text x="209.7" y="495.42">120</text>
<text x="209.7" y="480.28">140</text>
</g>
<g font-family="'Liberation Sans', Arial, sans-serif" font-weight="bold" font-size="6.9" text-anchor="middle">
<text x="238.7" y="593.2">0.01</text>
<text x="264.8" y="593.2">0.1</text>
<text x="290.9" y="593.2">1</text>
<text x="317" y="593.2">10</text>
<text x="343.1" y="593.2">100</text>
</g>
<text x="280.7" y="602.3" text-anchor="middle" font-family="'Liberation Sans', Arial, sans-serif" font-weight="bold" font-size="6.8">[Antibody] (µg/mL)</text>
<text x="278.9" y="479.6" text-anchor="middle" font-family="'Liberation Sans', Arial, sans-serif" font-weight="bold" font-size="9.15">OE19 TR6</text>
<polyline points="217.3,510.97 219.16,511.1 221.01,511.23 222.87,511.37 224.73,511.51 226.59,511.65 228.45,511.79 230.3,511.94 232.16,512.08 234.02,512.23 235.88,512.39 237.74,512.54 239.59,512.7 241.45,512.86 243.31,513.02 245.17,513.18 247.03,513.35 248.88,513.52 250.74,513.69 252.6,513.86 254.46,514.04 256.32,514.22 258.17,514.4 260.03,514.58 261.89,514.77 263.75,514.96 265.61,515.15 267.46,515.35 269.32,515.55 271.18,515.75 273.04,515.95 274.89,516.16 276.75,516.37 278.61,516.58 280.47,516.79 282.33,517.01 284.18,517.23 286.04,517.46 287.9,517.68 289.76,517.91 291.62,518.14 293.47,518.38 295.33,518.62 297.19,518.86 299.05,519.1 300.91,519.35 302.76,519.6 304.62,519.85 306.48,520.11 308.34,520.37 310.2,520.63 312.05,520.89 313.91,521.16 315.77,521.43 317.63,521.7 319.49,521.98 321.34,522.26 323.2,522.54 325.06,522.83 326.92,523.12" fill="none" stroke="#a8742e" stroke-width="1.15" stroke-linejoin="round"/>
<path d="M217.3 497.59V512.73M215.5 497.59h3.6M215.5 512.73h3.6M232.96 496.83V511.98M231.16 496.83h3.6M231.16 511.98h3.6M248.62 503.65V512.73M246.82 503.65h3.6M246.82 512.73h3.6M264.28 522.57V528.63M262.48 522.57h3.6M262.48 528.63h3.6M279.94 506.68V524.85M278.14 506.68h3.6M278.14 524.85h3.6M295.6 509.7V524.85M293.8 509.7h3.6M293.8 524.85h3.6M311.26 508.19V538.47M309.46 508.19h3.6M309.46 538.47h3.6M326.92 520.3V532.42M325.12 520.3h3.6M325.12 532.42h3.6" stroke="#a8742e" stroke-width="0.9" fill="none"/>
<path d="M215.5 503.66L219.1 503.66L217.3 506.96Z" fill="#a8742e"/><path d="M231.16 502.9L234.76 502.9L232.96 506.2Z" fill="#a8742e"/><path d="M246.82 506.69L250.42 506.69L248.62 509.99Z" fill="#a8742e"/><path d="M262.48 524.1L266.08 524.1L264.28 527.4Z" fill="#a8742e"/><path d="M278.14 514.26L281.74 514.26L279.94 517.56Z" fill="#a8742e"/><path d="M293.8 515.78L297.4 515.78L295.6 519.08Z" fill="#a8742e"/><path d="M309.46 521.83L313.06 521.83L311.26 525.13Z" fill="#a8742e"/><path d="M325.12 524.86L328.72 524.86L326.92 528.16Z" fill="#a8742e"/>
<polyline points="217.3,518.03 232.96,507.43 248.62,499.1 264.28,508.19 279.94,508.19 295.6,502.13 311.26,506.68 326.92,507.43" fill="none" stroke="#9b3d9c" stroke-width="1.15" stroke-linejoin="round"/>
<path d="M217.3 510.46V525.6M215.5 510.46h3.6M215.5 525.6h3.6M232.96 501.38V513.49M231.16 501.38h3.6M231.16 513.49h3.6M248.62 491.53V506.68M246.82 491.53h3.6M246.82 506.68h3.6M264.28 505.16V511.22M262.48 505.16h3.6M262.48 511.22h3.6M279.94 500.62V515.76M278.14 500.62h3.6M278.14 515.76h3.6M295.6 494.56V509.7M293.8 494.56h3.6M293.8 509.7h3.6M311.26 499.1V514.25M309.46 499.1h3.6M309.46 514.25h3.6M326.92 501.38V513.49M325.12 501.38h3.6M325.12 513.49h3.6" stroke="#9b3d9c" stroke-width="0.9" fill="none"/>
<path d="M215.5 516.53L219.1 516.53L217.3 519.83Z" fill="#9b3d9c"/><path d="M231.16 505.93L234.76 505.93L232.96 509.23Z" fill="#9b3d9c"/><path d="M246.82 497.6L250.42 497.6L248.62 500.9Z" fill="#9b3d9c"/><path d="M262.48 506.69L266.08 506.69L264.28 509.99Z" fill="#9b3d9c"/><path d="M278.14 506.69L281.74 506.69L279.94 509.99Z" fill="#9b3d9c"/><path d="M293.8 500.63L297.4 500.63L295.6 503.93Z" fill="#9b3d9c"/><path d="M309.46 505.18L313.06 505.18L311.26 508.48Z" fill="#9b3d9c"/><path d="M325.12 505.93L328.72 505.93L326.92 509.23Z" fill="#9b3d9c"/>
<polyline points="217.3,511.98 232.96,508.19 248.62,515.76 264.28,515 279.94,507.43 295.6,506.68 311.26,500.62 326.92,501.38" fill="none" stroke="#111111" stroke-width="1.15" stroke-linejoin="round"/>
<path d="M217.3 508.19V515.76M215.5 508.19h3.6M215.5 515.76h3.6M232.96 504.4V511.98M231.16 504.4h3.6M231.16 511.98h3.6M248.62 513.49V518.03M246.82 513.49h3.6M246.82 518.03h3.6M264.28 512.73V517.28M262.48 512.73h3.6M262.48 517.28h3.6M279.94 505.16V509.7M278.14 505.16h3.6M278.14 509.7h3.6M295.6 504.4V508.95M293.8 504.4h3.6M293.8 508.95h3.6M311.26 489.26V511.98M309.46 489.26h3.6M309.46 511.98h3.6M326.92 493.81V508.95M325.12 493.81h3.6M325.12 508.95h3.6" stroke="#111111" stroke-width="0.9" fill="none"/>
<circle cx="217.3" cy="511.98" r="1.58" fill="#111111"/><circle cx="232.96" cy="508.19" r="1.58" fill="#111111"/><circle cx="248.62" cy="515.76" r="1.58" fill="#111111"/><circle cx="264.28" cy="515" r="1.58" fill="#111111"/><circle cx="279.94" cy="507.43" r="1.58" fill="#111111"/><circle cx="295.6" cy="506.68" r="1.58" fill="#111111"/><circle cx="311.26" cy="500.62" r="1.58" fill="#111111"/><circle cx="326.92" cy="501.38" r="1.58" fill="#111111"/>
<polyline points="217.3,507.46 219.16,507.46 221.01,507.46 222.87,507.47 224.73,507.47 226.59,507.48 228.45,507.48 230.3,507.49 232.16,507.5 234.02,507.51 235.88,507.52 237.74,507.53 239.59,507.54 241.45,507.56 243.31,507.57 245.17,507.59 247.03,507.62 248.88,507.64 250.74,507.67 252.6,507.7 254.46,507.74 256.32,507.79 258.17,507.83 260.03,507.89 261.89,507.95 263.75,508.02 265.61,508.1 267.46,508.2 269.32,508.3 271.18,508.42 273.04,508.55 274.89,508.7 276.75,508.87 278.61,509.06 280.47,509.28 282.33,509.52 284.18,509.79 286.04,510.09 287.9,510.43 289.76,510.8 291.62,511.21 293.47,511.67 295.33,512.17 297.19,512.72 299.05,513.33 300.91,513.98 302.76,514.68 304.62,515.43 306.48,516.24 308.34,517.09 310.2,517.98 312.05,518.91 313.91,519.87 315.77,520.86 317.63,521.87 319.49,522.89 321.34,523.9 323.2,524.91 325.06,525.9 326.92,526.87" fill="none" stroke="#6cd0a6" stroke-width="1.15" stroke-linejoin="round"/>
<path d="M217.3 503.65V512.73M215.5 503.65h3.6M215.5 512.73h3.6M232.96 502.13V511.22M231.16 502.13h3.6M231.16 511.22h3.6M248.62 504.4V513.49M246.82 504.4h3.6M246.82 513.49h3.6M264.28 511.22V520.3M262.48 511.22h3.6M262.48 520.3h3.6M279.94 507.43V522.57M278.14 507.43h3.6M278.14 522.57h3.6M295.6 508.19V520.3M293.8 508.19h3.6M293.8 520.3h3.6M311.26 518.79V527.87M309.46 518.79h3.6M309.46 527.87h3.6M326.92 525.6V533.17M325.12 525.6h3.6M325.12 533.17h3.6" stroke="#6cd0a6" stroke-width="0.9" fill="none"/>
<path d="M217.3 506.24L219.1 508.19L217.3 510.14L215.5 508.19Z" fill="#6cd0a6"/><path d="M232.96 504.73L234.76 506.68L232.96 508.63L231.16 506.68Z" fill="#6cd0a6"/><path d="M248.62 507L250.42 508.95L248.62 510.9L246.82 508.95Z" fill="#6cd0a6"/><path d="M264.28 513.81L266.08 515.76L264.28 517.71L262.48 515.76Z" fill="#6cd0a6"/><path d="M279.94 513.05L281.74 515L279.94 516.95L278.14 515Z" fill="#6cd0a6"/><path d="M295.6 512.3L297.4 514.25L295.6 516.2L293.8 514.25Z" fill="#6cd0a6"/><path d="M311.26 521.38L313.06 523.33L311.26 525.28L309.46 523.33Z" fill="#6cd0a6"/><path d="M326.92 527.44L328.72 529.39L326.92 531.34L325.12 529.39Z" fill="#6cd0a6"/>
<polyline points="217.3,506.05 219.16,506.07 221.01,506.1 222.87,506.14 224.73,506.19 226.59,506.25 228.45,506.31 230.3,506.39 232.16,506.49 234.02,506.61 235.88,506.75 237.74,506.92 239.59,507.12 241.45,507.36 243.31,507.65 245.17,508 247.03,508.41 248.88,508.9 250.74,509.47 252.6,510.15 254.46,510.94 256.32,511.86 258.17,512.93 260.03,514.16 261.89,515.55 263.75,517.12 265.61,518.87 267.46,520.79 269.32,522.87 271.18,525.1 273.04,527.44 274.89,529.86 276.75,532.31 278.61,534.77 280.47,537.17 282.33,539.49 284.18,541.68 286.04,543.73 287.9,545.62 289.76,547.32 291.62,548.85 293.47,550.21 295.33,551.4 297.19,552.43 299.05,553.32 300.91,554.09 302.76,554.74 304.62,555.3 306.48,555.77 308.34,556.16 310.2,556.49 312.05,556.77 313.91,557.01 315.77,557.2 317.63,557.36 319.49,557.5 321.34,557.61 323.2,557.7 325.06,557.78 326.92,557.85" fill="none" stroke="#2fae4c" stroke-width="1.15" stroke-linejoin="round"/>
<path d="M217.3 501.38V508.95M215.5 501.38h3.6M215.5 508.95h3.6M232.96 503.65V509.7M231.16 503.65h3.6M231.16 509.7h3.6M248.62 505.16V511.22M246.82 505.16h3.6M246.82 511.22h3.6M264.28 515V519.55M262.48 515h3.6M262.48 519.55h3.6M279.94 535.45V541.5M278.14 535.45h3.6M278.14 541.5h3.6M295.6 547.56V555.13M293.8 547.56h3.6M293.8 555.13h3.6" stroke="#2fae4c" stroke-width="0.9" fill="none"/>
<rect x="215.8" y="503.66" width="3" height="3" fill="#2fae4c"/><rect x="231.46" y="505.18" width="3" height="3" fill="#2fae4c"/><rect x="247.12" y="506.69" width="3" height="3" fill="#2fae4c"/><rect x="262.78" y="515.78" width="3" height="3" fill="#2fae4c"/><rect x="278.44" y="536.97" width="3" height="3" fill="#2fae4c"/><rect x="294.1" y="549.84" width="3" height="3" fill="#2fae4c"/><rect x="309.76" y="558.93" width="3" height="3" fill="#2fae4c"/><rect x="325.42" y="555.14" width="3" height="3" fill="#2fae4c"/>
<path d="M378.5 496.48H509.85" stroke="#333" stroke-width="0.75" stroke-dasharray="1.1 1.1"/>
<path d="M378.5 479V583.9H509.85" stroke="#111" stroke-width="1" fill="none"/>
<path d="M376.1 583.9H378.5M376.1 566.42H378.5M376.1 548.93H378.5M376.1 531.45H378.5M376.1 513.96H378.5M376.1 496.48H378.5M376.1 479H378.5M379.6 583.9v2.6M387.44 583.9v1.4M392.03 583.9v1.4M395.28 583.9v1.4M397.81 583.9v1.4M399.87 583.9v1.4M401.61 583.9v1.4M403.13 583.9v1.4M404.46 583.9v1.4M405.65 583.9v2.6M413.49 583.9v1.4M418.08 583.9v1.4M421.33 583.9v1.4M423.86 583.9v1.4M425.92 583.9v1.4M427.66 583.9v1.4M429.18 583.9v1.4M430.51 583.9v1.4M431.7 583.9v2.6M439.54 583.9v1.4M444.13 583.9v1.4M447.38 583.9v1.4M449.91 583.9v1.4M451.97 583.9v1.4M453.71 583.9v1.4M455.23 583.9v1.4M456.56 583.9v1.4M457.75 583.9v2.6M465.59 583.9v1.4M470.18 583.9v1.4M473.43 583.9v1.4M475.96 583.9v1.4M478.02 583.9v1.4M479.76 583.9v1.4M481.28 583.9v1.4M482.61 583.9v1.4M483.8 583.9v2.6M491.64 583.9v1.4M496.23 583.9v1.4M499.48 583.9v1.4M502.01 583.9v1.4M504.07 583.9v1.4M505.81 583.9v1.4M507.33 583.9v1.4M508.66 583.9v1.4M509.85 583.9v2.6" stroke="#111" stroke-width="0.8"/>
<g font-family="'Liberation Sans', Arial, sans-serif" font-weight="bold" font-size="6.6" text-anchor="end">
<text x="375.7" y="586.28">0</text>
<text x="375.7" y="568.79">20</text>
<text x="375.7" y="551.31">40</text>
<text x="375.7" y="533.82">60</text>
<text x="375.7" y="516.34">80</text>
<text x="375.7" y="498.86">100</text>
<text x="375.7" y="481.37">120</text>
</g>
<g font-family="'Liberation Sans', Arial, sans-serif" font-weight="bold" font-size="6.9" text-anchor="middle">
<text x="405.65" y="593.2">0.01</text>
<text x="431.7" y="593.2">0.1</text>
<text x="457.75" y="593.2">1</text>
<text x="483.8" y="593.2">10</text>
<text x="509.85" y="593.2">100</text>
</g>
<text x="443.6" y="602.3" text-anchor="middle" font-family="'Liberation Sans', Arial, sans-serif" font-weight="bold" font-size="6.8">[Antibody] (µg/mL)</text>
<text x="444.5" y="478.1" text-anchor="middle" font-family="'Liberation Sans', Arial, sans-serif" font-weight="bold" font-size="7.8">MDA-MB-175-VII PR17</text>
<polyline points="384.29,496.52 386.14,496.65 388,496.78 389.85,496.94 391.71,497.12 393.56,497.32 395.42,497.54 397.27,497.79 399.12,498.07 400.98,498.38 402.83,498.72 404.69,499.1 406.54,499.52 408.4,499.98 410.25,500.48 412.11,501.03 413.96,501.62 415.81,502.26 417.67,502.94 419.52,503.66 421.38,504.42 423.23,505.22 425.09,506.04 426.94,506.9 428.79,507.77 430.65,508.65 432.5,509.54 434.36,510.43 436.21,511.3 438.07,512.16 439.92,512.99 441.78,513.79 443.63,514.55 445.48,515.28 447.34,515.97 449.19,516.61 451.05,517.21 452.9,517.76 454.76,518.27 456.61,518.73 458.47,519.16 460.32,519.54 462.17,519.89 464.03,520.21 465.88,520.49 467.74,520.74 469.59,520.97 471.45,521.17 473.3,521.35 475.15,521.51 477.01,521.65 478.86,521.77 480.72,521.89 482.57,521.98 484.43,522.07 486.28,522.15 488.14,522.21 489.99,522.27 491.84,522.33 493.7,522.37" fill="none" stroke="#a8742e" stroke-width="1.15" stroke-linejoin="round"/>
<path d="M384.29 492.98V499.98M382.49 492.98h3.6M382.49 499.98h3.6M399.92 491.23V501.73M398.12 491.23h3.6M398.12 501.73h3.6M415.55 495.61V502.6M413.75 495.61h3.6M413.75 502.6h3.6M431.18 506.1V511.34M429.38 506.1h3.6M429.38 511.34h3.6M446.81 508.72V512.22M445.01 508.72h3.6M445.01 512.22h3.6M462.44 513.09V516.59M460.64 513.09h3.6M460.64 516.59h3.6M478.07 515.71V520.96M476.27 515.71h3.6M476.27 520.96h3.6M493.7 517.46V522.71M491.9 517.46h3.6M491.9 522.71h3.6" stroke="#a8742e" stroke-width="0.9" fill="none"/>
<path d="M382.49 494.98L386.09 494.98L384.29 498.28Z" fill="#a8742e"/><path d="M398.12 494.98L401.72 494.98L399.92 498.28Z" fill="#a8742e"/><path d="M413.75 497.6L417.35 497.6L415.55 500.9Z" fill="#a8742e"/><path d="M429.38 507.22L432.98 507.22L431.18 510.52Z" fill="#a8742e"/><path d="M445.01 508.97L448.61 508.97L446.81 512.27Z" fill="#a8742e"/><path d="M460.64 513.34L464.24 513.34L462.44 516.64Z" fill="#a8742e"/><path d="M476.27 516.84L479.87 516.84L478.07 520.13Z" fill="#a8742e"/><path d="M491.9 518.58L495.5 518.58L493.7 521.88Z" fill="#a8742e"/>
<polyline points="384.29,494.6 386.14,494.7 388,494.81 389.85,494.94 391.71,495.09 393.56,495.25 395.42,495.43 397.27,495.64 399.12,495.87 400.98,496.13 402.83,496.41 404.69,496.73 406.54,497.09 408.4,497.48 410.25,497.91 412.11,498.37 413.96,498.89 415.81,499.44 417.67,500.04 419.52,500.68 421.38,501.36 423.23,502.08 425.09,502.84 426.94,503.63 428.79,504.45 430.65,505.28 432.5,506.14 434.36,506.99 436.21,507.85 438.07,508.7 439.92,509.54 441.78,510.36 443.63,511.14 445.48,511.9 447.34,512.62 449.19,513.3 451.05,513.94 452.9,514.53 454.76,515.08 456.61,515.59 458.47,516.06 460.32,516.49 462.17,516.88 464.03,517.23 465.88,517.54 467.74,517.83 469.59,518.09 471.45,518.31 473.3,518.52 475.15,518.7 477.01,518.86 478.86,519.01 480.72,519.13 482.57,519.25 484.43,519.35 486.28,519.44 488.14,519.51 489.99,519.58 491.84,519.64 493.7,519.7" fill="none" stroke="#6cd0a6" stroke-width="1.15" stroke-linejoin="round"/>
<path d="M384.29 480.74V491.23M382.49 480.74h3.6M382.49 491.23h3.6M399.92 491.23V496.48M398.12 491.23h3.6M398.12 496.48h3.6M415.55 497.35V511.34M413.75 497.35h3.6M413.75 511.34h3.6M431.18 506.1V511.34M429.38 506.1h3.6M429.38 511.34h3.6M446.81 504.35V514.84M445.01 504.35h3.6M445.01 514.84h3.6M462.44 511.34V516.59M460.64 511.34h3.6M460.64 516.59h3.6M478.07 514.84V520.08M476.27 514.84h3.6M476.27 520.08h3.6M493.7 514.84V520.08M491.9 514.84h3.6M491.9 520.08h3.6" stroke="#6cd0a6" stroke-width="0.9" fill="none"/>
<path d="M384.29 484.04L386.09 485.99L384.29 487.94L382.49 485.99Z" fill="#6cd0a6"/><path d="M399.92 491.91L401.72 493.86L399.92 495.81L398.12 493.86Z" fill="#6cd0a6"/><path d="M415.55 502.4L417.35 504.35L415.55 506.3L413.75 504.35Z" fill="#6cd0a6"/><path d="M431.18 506.77L432.98 508.72L431.18 510.67L429.38 508.72Z" fill="#6cd0a6"/><path d="M446.81 507.64L448.61 509.59L446.81 511.54L445.01 509.59Z" fill="#6cd0a6"/><path d="M462.44 512.01L464.24 513.96L462.44 515.91L460.64 513.96Z" fill="#6cd0a6"/><path d="M478.07 515.51L479.87 517.46L478.07 519.41L476.27 517.46Z" fill="#6cd0a6"/><path d="M493.7 515.51L495.5 517.46L493.7 519.41L491.9 517.46Z" fill="#6cd0a6"/>
<polyline points="384.29,495.61 386.14,495.61 388,495.61 389.85,495.62 391.71,495.62 393.56,495.62 395.42,495.62 397.27,495.62 399.12,495.63 400.98,495.63 402.83,495.64 404.69,495.64 406.54,495.65 408.4,495.66 410.25,495.66 412.11,495.67 413.96,495.69 415.81,495.7 417.67,495.72 419.52,495.74 421.38,495.76 423.23,495.79 425.09,495.82 426.94,495.86 428.79,495.9 430.65,495.95 432.5,496.01 434.36,496.07 436.21,496.15 438.07,496.24 439.92,496.34 441.78,496.46 443.63,496.6 445.48,496.75 447.34,496.92 449.19,497.1 451.05,497.31 452.9,497.54 454.76,497.79 456.61,498.06 458.47,498.34 460.32,498.64 462.17,498.95 464.03,499.27 465.88,499.59 467.74,499.92 469.59,500.23 471.45,500.54 473.3,500.83 475.15,501.11 477.01,501.38 478.86,501.62 480.72,501.84 482.57,502.04 484.43,502.22 486.28,502.39 488.14,502.53 489.99,502.66 491.84,502.77 493.7,502.87" fill="none" stroke="#9b3d9c" stroke-width="1.15" stroke-linejoin="round"/>
<path d="M384.29 492.98V499.98M382.49 492.98h3.6M382.49 499.98h3.6M399.92 493.86V499.1M398.12 493.86h3.6M398.12 499.1h3.6M415.55 489.49V496.48M413.75 489.49h3.6M413.75 496.48h3.6M431.18 493.86V499.1M429.38 493.86h3.6M429.38 499.1h3.6M446.81 493.86V499.1M445.01 493.86h3.6M445.01 499.1h3.6M462.44 498.23V508.72M460.64 498.23h3.6M460.64 508.72h3.6M478.07 498.23V506.97M476.27 498.23h3.6M476.27 506.97h3.6M493.7 496.48V505.22M491.9 496.48h3.6M491.9 505.22h3.6" stroke="#9b3d9c" stroke-width="0.9" fill="none"/>
<path d="M382.49 494.98L386.09 494.98L384.29 498.28Z" fill="#9b3d9c"/><path d="M398.12 494.98L401.72 494.98L399.92 498.28Z" fill="#9b3d9c"/><path d="M413.75 491.48L417.35 491.48L415.55 494.78Z" fill="#9b3d9c"/><path d="M429.38 494.98L432.98 494.98L431.18 498.28Z" fill="#9b3d9c"/><path d="M445.01 494.98L448.61 494.98L446.81 498.28Z" fill="#9b3d9c"/><path d="M460.64 501.97L464.24 501.97L462.44 505.27Z" fill="#9b3d9c"/><path d="M476.27 501.1L479.87 501.1L478.07 504.4Z" fill="#9b3d9c"/><path d="M491.9 499.35L495.5 499.35L493.7 502.65Z" fill="#9b3d9c"/>
<polyline points="384.29,493.86 399.92,494.73 415.55,499.1 431.18,499.98 446.81,499.1 462.44,503.47 478.07,503.47 493.7,505.22" fill="none" stroke="#111111" stroke-width="1.15" stroke-linejoin="round"/>
<path d="M384.29 491.23V496.48M382.49 491.23h3.6M382.49 496.48h3.6M399.92 492.98V496.48M398.12 492.98h3.6M398.12 496.48h3.6M415.55 497.35V500.85M413.75 497.35h3.6M413.75 500.85h3.6M431.18 498.23V501.73M429.38 498.23h3.6M429.38 501.73h3.6M446.81 497.35V500.85M445.01 497.35h3.6M445.01 500.85h3.6M462.44 500.85V506.1M460.64 500.85h3.6M460.64 506.1h3.6M478.07 500.85V506.1M476.27 500.85h3.6M476.27 506.1h3.6M493.7 503.47V506.97M491.9 503.47h3.6M491.9 506.97h3.6" stroke="#111111" stroke-width="0.9" fill="none"/>
<circle cx="384.29" cy="493.86" r="1.58" fill="#111111"/><circle cx="399.92" cy="494.73" r="1.58" fill="#111111"/><circle cx="415.55" cy="499.1" r="1.58" fill="#111111"/><circle cx="431.18" cy="499.98" r="1.58" fill="#111111"/><circle cx="446.81" cy="499.1" r="1.58" fill="#111111"/><circle cx="462.44" cy="503.47" r="1.58" fill="#111111"/><circle cx="478.07" cy="503.47" r="1.58" fill="#111111"/><circle cx="493.7" cy="505.22" r="1.58" fill="#111111"/>
<polyline points="384.29,492.31 386.14,492.58 388,492.88 389.85,493.21 391.71,493.56 393.56,493.94 395.42,494.35 397.27,494.79 399.12,495.27 400.98,495.79 402.83,496.35 404.69,496.95 406.54,497.59 408.4,498.28 410.25,499.03 412.11,499.83 413.96,500.68 415.81,501.59 417.67,502.57 419.52,503.61 421.38,504.71 423.23,505.89 425.09,507.14 426.94,508.46 428.79,509.85 430.65,511.32 432.5,512.86 434.36,514.47 436.21,516.17 438.07,517.93 439.92,519.76 441.78,521.66 443.63,523.63 445.48,525.65 447.34,527.73 449.19,529.86 451.05,532.03 452.9,534.24 454.76,536.48 456.61,538.73 458.47,541 460.32,543.27 462.17,545.54 464.03,547.8 465.88,550.03 467.74,552.24 469.59,554.41 471.45,556.54 473.3,558.62 475.15,560.65 477.01,562.62 478.86,564.52 480.72,566.35 482.57,568.12 484.43,569.81 486.28,571.43 488.14,572.97 489.99,574.44 491.84,575.83 493.7,577.15" fill="none" stroke="#2fae4c" stroke-width="1.15" stroke-linejoin="round"/>
<path d="M384.29 491.23V496.48M382.49 491.23h3.6M382.49 496.48h3.6M399.92 492.11V495.61M398.12 492.11h3.6M398.12 495.61h3.6M415.55 498.23V501.73M413.75 498.23h3.6M413.75 501.73h3.6M431.18 512.22V515.71M429.38 512.22h3.6M429.38 515.71h3.6M478.07 562.92V566.42M476.27 562.92h3.6M476.27 566.42h3.6" stroke="#2fae4c" stroke-width="0.9" fill="none"/>
<rect x="382.79" y="492.36" width="3" height="3" fill="#2fae4c"/><rect x="398.42" y="492.36" width="3" height="3" fill="#2fae4c"/><rect x="414.05" y="498.48" width="3" height="3" fill="#2fae4c"/><rect x="429.68" y="512.46" width="3" height="3" fill="#2fae4c"/><rect x="445.31" y="525.58" width="3" height="3" fill="#2fae4c"/><rect x="460.94" y="543.06" width="3" height="3" fill="#2fae4c"/><rect x="476.57" y="563.17" width="3" height="3" fill="#2fae4c"/><rect x="492.2" y="575.41" width="3" height="3" fill="#2fae4c"/>
<text transform="translate(25 260) rotate(-90)" text-anchor="middle" font-family="'Liberation Sans', Arial, sans-serif" font-weight="bold" font-size="8.4">CAPAN-1</text>
<text transform="translate(32 260.3) rotate(-90)" text-anchor="middle" font-family="'Liberation Sans', Arial, sans-serif" font-weight="bold" font-size="6.4">Metabolic activity %</text>
<text transform="translate(25.5 391) rotate(-90)" text-anchor="middle" font-family="'Liberation Sans', Arial, sans-serif" font-weight="bold" font-size="8.2">OE19</text>
<text transform="translate(32.3 396.5) rotate(-90)" text-anchor="middle" font-family="'Liberation Sans', Arial, sans-serif" font-weight="bold" font-size="5.6">Metabolic activity %</text>
<text transform="translate(33 531) rotate(-90)" text-anchor="middle" font-family="'Liberation Sans', Arial, sans-serif" font-weight="bold" font-size="6.5">Metabolic activity %</text></svg></body></html>
